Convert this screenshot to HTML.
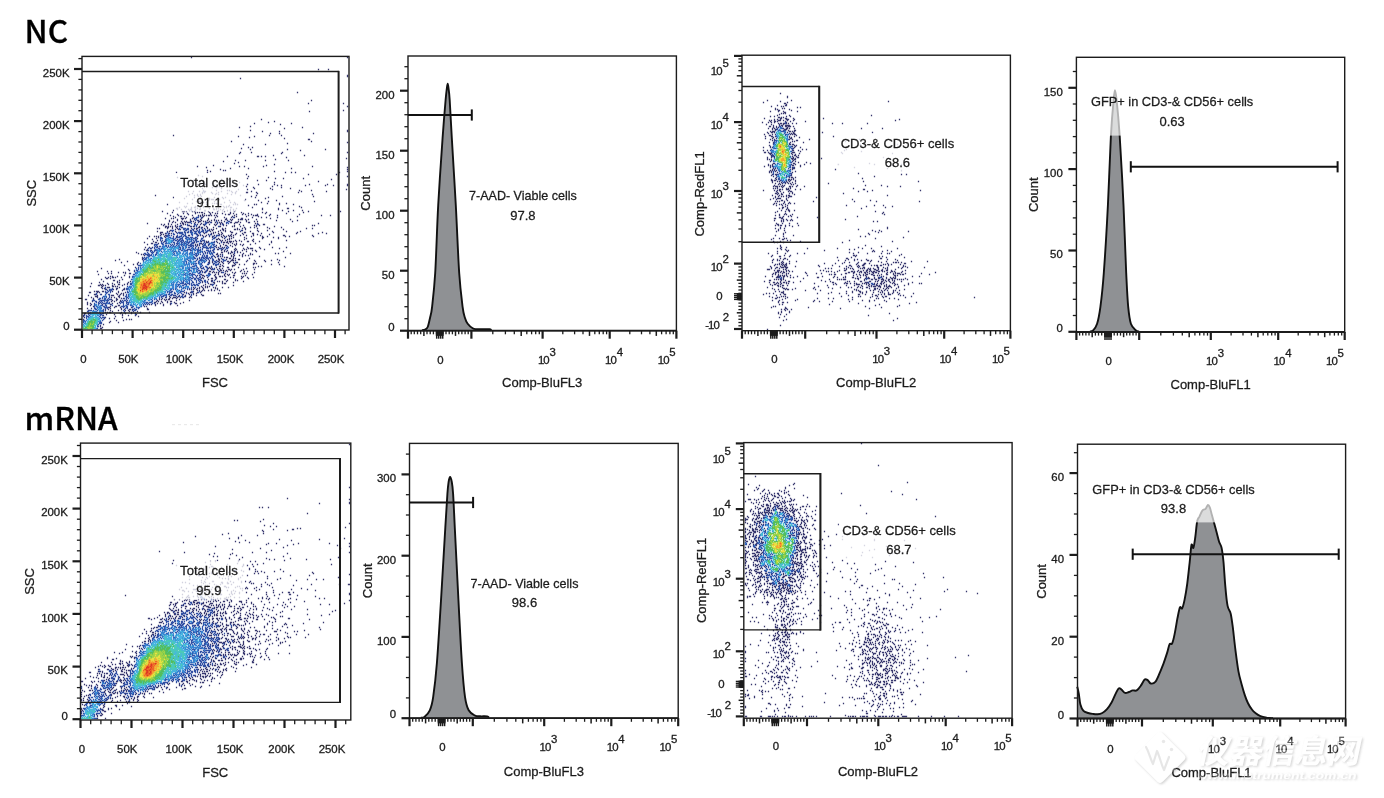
<!DOCTYPE html>
<html lang="en"><head><meta charset="utf-8"><title>Flow cytometry: NC vs mRNA</title>
<style>html,body{margin:0;padding:0;background:#fff}svg{display:block}text{white-space:pre}</style>
</head><body>
<svg width="1384" height="798" viewBox="0 0 1384 798" font-family='"Liberation Sans", sans-serif'>
<defs><filter id="n" x="0" y="0" width="100%" height="100%" filterUnits="userSpaceOnUse"><feOffset dx="0" dy="0"/></filter></defs>
<rect width="1384" height="798" fill="#fff"/>
<g filter="url(#n)">
<text transform="translate(24.6 42.6)" font-size="31.5" text-anchor="start" font-weight="500" fill="#000" font-family="'Noto Sans CJK SC','Liberation Sans',sans-serif" stroke="#000" stroke-width="0.3">NC</text>
<text transform="translate(24.6 429.7)" font-size="31.5" text-anchor="start" font-weight="500" fill="#000" font-family="'Noto Sans CJK SC','Liberation Sans',sans-serif" stroke="#000" stroke-width="0.3">mRNA</text>
<line x1="172" y1="424.7" x2="200" y2="424.7" stroke="#e6e6e6" stroke-width="1" stroke-dasharray="3 3"/>
<g stroke-width="1.28" stroke-linecap="square" fill="none" opacity="0.92" transform="translate(0.5 0.5)">
<path stroke="#262662" d="M191 57zm156 0zm-29 12zm10 0zm19 6zm0 1zm-107 2zm57 14zm14 8zm-3 3zm35 0zm4 3zm-4 4zm-34 1zm-48 8zm13 2zm-6 1zm-14 1zm37 0zm-11 1zm-30 2zm-11 1zm63 0zm-18 1zm-34 2zm97 0zm-85 1zm17 0zm68 0zm-77 2zm9 0zm34 0zm-140 2zm96 0zm12 0zm-43 1zm16 0zm-5 1zm35 1zm24 1zm1 0zm-78 2zm80 0zm36 1zm-60 1zm-44 1zm22 0zm-17 3zm4 0zm-11 1zm9 1zm37 0zm38 0zm-25 1zm-60 2zm11 0zm31 0zm65 0zm-108 1zm42 0zm-8 2zm31 0zm-77 1zm30 0zm1 0zm3 0zm4 0zm21 1zm60 1zm-71 1zm-40 1zm10 0zm20 0zm23 0zm-65 1zm15 1zm-4 1zm40 1zm-61 1zm53 0zm-69 1zm42 0zm5 0zm19 0zm49 0zm-106 1zm141 0zm-117 1zm18 0zm43 0zm-71 1zm127 0zm-140 1zm16 0zm2 0zm-15 1zm64 0zm73 0zm-171 1zm31 0zm78 0zm6 0zm4 0zm44 0zm-93 2zm62 0zm28 0zm-138 1zm4 1zm46 0zm99 0zm-170 1zm91 0zm-21 1zm28 0zm8 0zm20 0zm-82 1zm7 0zm103 0zm-138 1zm39 0zm25 0zm9 0zm-36 1zm88 0zm-115 1zm36 0zm35 0zm-70 1zm8 0zm13 0zm-28 1zm8 0zm16 0zm26 0zm11 0zm16 0zm35 0zm18 0zm20 0zm-133 1zm17 0zm4 0zm8 0zm34 0zm4 0zm24 0zm20 0zm8 0zm14 0zm-130 1zm2 0zm27 0zm26 0zm-60 1zm4 0zm37 0zm28 0zm-79 1zm19 0zm33 0zm16 0zm20 0zm-52 1zm9 0zm25 0zm74 0zm-143 1zm13 0zm11 0zm2 0zm70 0zm12 0zm-123 1zm5 0zm6 0zm5 0zm1 0zm16 0zm10 0zm5 0zm15 0zm50 0zm25 0zm-124 1zm2 0zm7 0zm7 0zm14 0zm3 0zm11 0zm1 0zm9 0zm42 0zm-106 1zm10 0zm10 0zm4 0zm11 0zm8 0zm22 0zm-68 1zm8 0zm3 0zm15 0zm3 0zm13 0zm81 0zm-157 1zm39 0zm3 0zm3 0zm40 0zm16 0zm-70 1zm12 0zm3 0zm50 0zm31 0zm31 0zm-140 1zm21 0zm20 0zm8 0zm3 0zm30 0zm13 0zm-84 1zm16 0zm9 0zm8 0zm6 0zm42 0zm-73 1zm12 0zm5 0zm2 0zm1 0zm1 0zm6 0zm26 0zm-48 1zm11 0zm9 0zm12 0zm15 0zm14 0zm18 0zm-80 1zm2 0zm1 0zm15 0zm54 0zm46 0zm-135 1zm21 0zm3 0zm3 0zm18 0zm6 0zm4 0zm27 0zm-74 1zm5 0zm10 0zm10 0zm2 0zm2 0zm1 0zm18 0zm32 0zm12 0zm7 0zm-119 1zm33 0zm6 0zm14 0zm1 0zm12 0zm2 0zm2 0zm17 0zm2 0zm23 0zm14 0zm-64 1zm19 0zm-64 1zm2 0zm9 0zm2 0zm3 0zm3 0zm5 0zm10 0zm5 0zm3 0zm2 0zm71 0zm-120 1zm6 0zm6 0zm3 0zm1 0zm8 0zm21 0zm2 0zm4 0zm1 0zm21 0zm49 0zm-125 1zm1 0zm14 0zm6 0zm3 0zm9 0zm4 0zm3 0zm2 0zm18 0zm26 0zm16 0zm9 0zm1 0zm-111 1zm4 0zm7 0zm2 0zm1 0zm4 0zm4 0zm1 0zm13 0zm1 0zm2 0zm4 0zm3 0zm7 0zm3 0zm29 0zm16 0zm-105 1zm16 0zm6 0zm9 0zm1 0zm13 0zm4 0zm5 0zm3 0zm3 0zm2 0zm47 0zm11 0zm9 0zm-140 1zm20 0zm1 0zm1 0zm2 0zm6 0zm2 0zm14 0zm9 0zm7 0zm10 0zm54 0zm20 0zm32 0zm-168 1zm23 0zm2 0zm2 0zm2 0zm1 0zm7 0zm3 0zm18 0zm11 0zm21 0zm4 0zm37 0zm-136 1zm16 0zm4 0zm8 0zm9 0zm6 0zm5 0zm2 0zm5 0zm8 0zm3 0zm10 0zm5 0zm17 0zm21 0zm-109 1zm11 0zm14 0zm8 0zm15 0zm3 0zm1 0zm7 0zm6 0zm3 0zm6 0zm6 0zm13 0zm29 0zm-129 1zm8 0zm14 0zm6 0zm2 0zm2 0zm2 0zm2 0zm2 0zm1 0zm2 0zm3 0zm2 0zm18 0zm14 0zm5 0zm2 0zm1 0zm1 0zm12 0zm8 0zm44 0zm9 0zm-157 1zm7 0zm1 0zm3 0zm16 0zm3 0zm14 0zm15 0zm4 0zm10 0zm12 0zm39 0zm-122 1zm11 0zm7 0zm9 0zm13 0zm9 0zm7 0zm3 0zm18 0zm9 0zm5 0zm11 0zm-112 1zm6 0zm2 0zm8 0zm1 0zm1 0zm2 0zm7 0zm9 0zm7 0zm18 0zm15 0zm1 0zm28 0zm-93 1zm5 0zm8 0zm4 0zm6 0zm8 0zm6 0zm11 0zm1 0zm4 0zm2 0zm6 0zm2 0zm1 0zm1 0zm3 0zm3 0zm8 0zm34 0zm-121 1zm8 0zm13 0zm7 0zm1 0zm3 0zm6 0zm4 0zm3 0zm2 0zm2 0zm3 0zm6 0zm4 0zm15 0zm30 0zm21 0zm-128 1zm4 0zm8 0zm3 0zm2 0zm5 0zm2 0zm6 0zm1 0zm3 0zm2 0zm4 0zm15 0zm14 0zm8 0zm8 0zm3 0zm35 0zm-120 1zm3 0zm7 0zm3 0zm2 0zm1 0zm1 0zm6 0zm3 0zm9 0zm1 0zm3 0zm4 0zm2 0zm2 0zm2 0zm9 0zm1 0zm4 0zm1 0zm1 0zm3 0zm8 0zm1 0zm-102 1zm21 0zm12 0zm2 0zm1 0zm11 0zm7 0zm19 0zm2 0zm12 0zm21 0zm2 0zm61 0zm-157 1zm3 0zm4 0zm3 0zm6 0zm6 0zm2 0zm12 0zm3 0zm3 0zm6 0zm5 0zm2 0zm4 0zm3 0zm16 0zm19 0zm5 0zm1 0zm-101 1zm12 0zm6 0zm7 0zm1 0zm15 0zm11 0zm8 0zm3 0zm8 0zm9 0zm11 0zm2 0zm3 0zm53 0zm2 0zm-149 1zm1 0zm2 0zm2 0zm2 0zm3 0zm2 0zm3 0zm10 0zm1 0zm2 0zm6 0zm7 0zm13 0zm1 0zm12 0zm2 0zm6 0zm16 0zm18 0zm-109 1zm2 0zm1 0zm4 0zm4 0zm6 0zm16 0zm1 0zm2 0zm1 0zm5 0zm6 0zm31 0zm6 0zm4 0zm13 0zm14 0zm-124 1zm2 0zm8 0zm5 0zm5 0zm14 0zm3 0zm2 0zm1 0zm7 0zm3 0zm9 0zm6 0zm3 0zm12 0zm5 0zm3 0zm12 0zm12 0zm37 0zm6 0zm-137 1zm3 0zm2 0zm16 0zm6 0zm7 0zm2 0zm2 0zm9 0zm1 0zm11 0zm1 0zm2 0zm2 0zm6 0zm38 0zm-113 1zm20 0zm3 0zm16 0zm3 0zm8 0zm3 0zm2 0zm17 0zm15 0zm10 0zm-110 1zm10 0zm2 0zm6 0zm35 0zm8 0zm7 0zm5 0zm10 0zm10 0zm8 0zm14 0zm14 0zm14 0zm-140 1zm1 0zm1 0zm14 0zm3 0zm8 0zm16 0zm3 0zm7 0zm2 0zm6 0zm10 0zm1 0zm12 0zm1 0zm28 0zm24 0zm25 0zm-162 1zm5 0zm4 0zm2 0zm33 0zm7 0zm2 0zm5 0zm4 0zm14 0zm6 0zm10 0zm1 0zm8 0zm35 0zm22 0zm8 0zm-165 1zm2 0zm34 0zm11 0zm3 0zm8 0zm2 0zm10 0zm4 0zm8 0zm10 0zm4 0zm12 0zm-109 1zm5 0zm1 0zm22 0zm1 0zm9 0zm2 0zm2 0zm4 0zm8 0zm4 0zm5 0zm5 0zm2 0zm3 0zm7 0zm6 0zm7 0zm7 0zm23 0zm1 0zm28 0zm-163 1zm5 0zm2 0zm2 0zm6 0zm9 0zm3 0zm27 0zm2 0zm4 0zm3 0zm9 0zm3 0zm2 0zm3 0zm2 0zm20 0zm11 0zm5 0zm18 0zm4 0zm24 0zm-155 1zm7 0zm11 0zm19 0zm17 0zm3 0zm7 0zm11 0zm11 0zm18 0zm1 0zm10 0zm5 0zm-131 1zm9 0zm41 0zm21 0zm6 0zm5 0zm2 0zm15 0zm16 0zm16 0zm-126 1zm25 0zm39 0zm1 0zm2 0zm8 0zm2 0zm15 0zm9 0zm-96 1zm46 0zm17 0zm2 0zm3 0zm10 0zm4 0zm13 0zm34 0zm-133 1zm8 0zm3 0zm37 0zm3 0zm2 0zm2 0zm8 0zm5 0zm6 0zm2 0zm1 0zm1 0zm2 0zm3 0zm5 0zm6 0zm1 0zm5 0zm6 0zm12 0zm-127 1zm11 0zm1 0zm38 0zm12 0zm1 0zm10 0zm6 0zm1 0zm2 0zm1 0zm3 0zm41 0zm-120 1zm1 0zm6 0zm42 0zm1 0zm18 0zm9 0zm4 0zm4 0zm19 0zm-108 1zm48 0zm2 0zm5 0zm21 0zm11 0zm2 0zm4 0zm3 0zm7 0zm19 0zm-74 1zm2 0zm2 0zm9 0zm8 0zm4 0zm5 0zm1 0zm4 0zm5 0zm7 0zm-85 1zm63 0zm12 0zm-87 1zm4 0zm3 0zm46 0zm5 0zm13 0zm2 0zm4 0zm2 0zm23 0zm12 0zm13 0zm14 0zm-136 1zm71 0zm14 0zm8 0zm5 0zm2 0zm1 0zm1 0zm8 0zm19 0zm-135 1zm3 0zm70 0zm1 0zm4 0zm12 0zm2 0zm8 0zm2 0zm18 0zm-118 1zm1 0zm4 0zm36 0zm34 0zm3 0zm3 0zm8 0zm7 0zm10 0zm3 0zm-42 1zm11 0zm2 0zm5 0zm3 0zm3 0zm9 0zm10 0zm27 0zm-147 1zm69 0zm16 0zm1 0zm6 0zm3 0zm1 0zm5 0zm3 0zm-102 1zm79 0zm11 0zm2 0zm4 0zm9 0zm7 0zm25 0zm3 0zm12 0zm-149 1zm2 0zm73 0zm1 0zm3 0zm2 0zm11 0zm9 0zm8 0zm2 0zm-108 1zm74 0zm13 0zm3 0zm5 0zm3 0zm3 0zm3 0zm-34 1zm3 0zm3 0zm2 0zm9 0zm2 0zm9 0zm17 0zm-117 1zm73 0zm9 0zm2 0zm1 0zm6 0zm52 0zm-143 1zm57 0zm19 0zm3 0zm8 0zm1 0zm3 0zm2 0zm14 0zm-130 1zm23 0zm55 0zm21 0zm1 0zm7 0zm6 0zm6 0zm1 0zm38 0zm-162 1zm94 0zm7 0zm3 0zm12 0zm1 0zm1 0zm2 0zm12 0zm7 0zm10 0zm7 0zm8 0zm-152 1zm82 0zm3 0zm6 0zm3 0zm6 0zm1 0zm2 0zm16 0zm9 0zm10 0zm-144 1zm17 0zm70 0zm1 0zm3 0zm7 0zm3 0zm7 0zm4 0zm3 0zm1 0zm41 0zm-141 1zm86 0zm5 0zm6 0zm19 0zm1 0zm2 0zm-123 1zm4 0zm71 0zm5 0zm7 0zm15 0zm4 0zm5 0zm9 0zm18 0zm8 0zm-155 1zm98 0zm10 0zm1 0zm1 0zm-23 1zm8 0zm1 0zm3 0zm9 0zm26 0zm3 0zm23 0zm-149 1zm68 0zm6 0zm7 0zm11 0zm1 0zm10 0zm15 0zm2 0zm-154 1zm100 0zm7 0zm2 0zm2 0zm2 0zm5 0zm3 0zm24 0zm-118 1zm79 0zm4 0zm6 0zm3 0zm8 0zm1 0zm2 0zm3 0zm9 0zm11 0zm-125 1zm78 0zm13 0zm1 0zm2 0zm3 0zm4 0zm11 0zm-144 1zm10 0zm4 0zm23 0zm66 0zm2 0zm3 0zm4 0zm1 0zm3 0zm6 0zm6 0zm2 0zm13 0zm4 0zm3 0zm-129 1zm5 0zm2 0zm79 0zm8 0zm2 0zm2 0zm2 0zm3 0zm11 0zm3 0zm19 0zm-146 1zm3 0zm14 0zm4 0zm1 0zm79 0zm9 0zm7 0zm9 0zm8 0zm2 0zm2 0zm-148 1zm103 0zm14 0zm3 0zm6 0zm3 0zm2 0zm23 0zm-128 1zm73 0zm5 0zm1 0zm11 0zm10 0zm4 0zm5 0zm1 0zm11 0zm-135 1zm2 0zm5 0zm12 0zm75 0zm11 0zm4 0zm1 0zm2 0zm3 0zm16 0zm2 0zm-138 1zm3 0zm4 0zm1 0zm2 0zm6 0zm8 0zm73 0zm5 0zm8 0zm1 0zm14 0zm3 0zm9 0zm5 0zm6 0zm-147 1zm1 0zm3 0zm91 0zm2 0zm8 0zm1 0zm4 0zm25 0zm7 0zm-147 1zm21 0zm86 0zm7 0zm9 0zm1 0zm10 0zm-122 1zm1 0zm5 0zm92 0zm1 0zm15 0zm8 0zm2 0zm-134 1zm14 0zm13 0zm72 0zm5 0zm4 0zm6 0zm2 0zm3 0zm4 0zm17 0zm-144 1zm18 0zm2 0zm9 0zm74 0zm11 0zm1 0zm8 0zm11 0zm-142 1zm16 0zm5 0zm15 0zm81 0zm6 0zm8 0zm2 0zm1 0zm-125 1zm2 0zm6 0zm6 0zm4 0zm1 0zm5 0zm3 0zm78 0zm5 0zm1 0zm-113 1zm1 0zm2 0zm2 0zm2 0zm7 0zm10 0zm81 0zm13 0zm17 0zm-143 1zm12 0zm10 0zm1 0zm2 0zm2 0zm84 0zm4 0zm2 0zm2 0zm-108 1zm6 0zm1 0zm1 0zm10 0zm74 0zm6 0zm3 0zm3 0zm2 0zm6 0zm2 0zm7 0zm6 0zm-126 1zm2 0zm12 0zm1 0zm7 0zm70 0zm3 0zm2 0zm4 0zm12 0zm2 0zm-112 1zm1 0zm7 0zm3 0zm7 0zm1 0zm65 0zm2 0zm2 0zm3 0zm7 0zm8 0zm6 0zm-95 1zm75 0zm2 0zm3 0zm2 0zm4 0zm3 0zm3 0zm5 0zm-125 1zm2 0zm1 0zm1 0zm4 0zm1 0zm9 0zm6 0zm75 0zm8 0zm-112 1zm1 0zm7 0zm2 0zm19 0zm7 0zm59 0zm2 0zm4 0zm1 0zm6 0zm3 0zm-84 1zm5 0zm2 0zm65 0zm5 0zm3 0zm22 0zm2 0zm-126 1zm1 0zm6 0zm16 0zm3 0zm3 0zm60 0zm6 0zm4 0zm8 0zm-113 1zm9 0zm14 0zm1 0zm1 0zm6 0zm4 0zm50 0zm2 0zm4 0zm6 0zm11 0zm6 0zm1 0zm-108 1zm1 0zm1 0zm21 0zm1 0zm50 0zm9 0zm7 0zm5 0zm-99 1zm6 0zm14 0zm3 0zm5 0zm46 0zm5 0zm3 0zm1 0zm1 0zm2 0zm3 0zm3 0zm6 0zm2 0zm-98 1zm23 0zm5 0zm2 0zm36 0zm3 0zm7 0zm3 0zm4 0zm-91 1zm1 0zm7 0zm18 0zm5 0zm1 0zm42 0zm2 0zm3 0zm2 0zm2 0zm1 0zm10 0zm-67 1zm4 0zm4 0zm37 0zm8 0zm11 0zm13 0zm-97 1zm19 0zm3 0zm6 0zm6 0zm30 0zm2 0zm3 0zm6 0zm3 0zm1 0zm-84 1zm32 0zm35 0zm1 0zm7 0zm5 0zm7 0zm9 0zm-96 1zm3 0zm22 0zm5 0zm40 0zm3 0zm10 0zm5 0zm1 0zm4 0zm-93 1zm4 0zm11 0zm8 0zm39 0zm2 0zm4 0zm8 0zm7 0zm-80 1zm28 0zm1 0zm36 0zm8 0zm14 0zm-84 1zm17 0zm5 0zm1 0zm28 0zm2 0zm-38 1zm1 0zm5 0zm6 0zm11 0zm-44 1zm4 0zm19 0zm11 0zm26 0zm-42 1zm3 0zm13 0zm3 0zm5 0zm1 0zm2 0zm15 0zm1 0zm-60 1zm17 0zm5 0zm8 0zm7 0zm3 0zm-16 1zm17 0zm4 0zm4 0zm-32 1zm2 0zm2 0zm1 0zm11 0zm10 0zm9 0zm9 0zm-65 1zm1 0zm3 0zm32 0zm5 0zm6 0zm4 0zm-51 1zm22 0zm8 0zm8 0zm14 0zm-53 1zm20 0zm19 0zm6 0zm7 0zm-52 1zm32 0zm23 0zm-54 1zm21 0zm17 0zm-18 1zm5 0zm5 0zm-31 1zm43 0zm3 0zm2 0zm-15 1zm7 0zm-13 1zm-1 1zm9 0zm-15 2zm-3 1zm0 1zm2 1zm-2 1zm1 0z"/>
<path stroke="#20409c" d="M203 191zm-12 19zm7 6zm-2 1zm1 0zm1 0zm3 0zm32 0zm-39 1zm1 0zm1 0zm0 1zm-1 1zm-5 1zm8 0zm18 0zm12 0zm1 0zm-39 1zm15 0zm1 0zm4 0zm16 0zm1 0zm-36 1zm14 0zm1 0zm11 0zm9 0zm2 0zm-41 1zm7 0zm1 0zm9 0zm1 0zm17 0zm35 0zm-77 1zm7 0zm7 0zm2 0zm-17 1zm15 0zm2 0zm22 0zm-37 1zm-2 1zm4 0zm1 0zm1 0zm2 0zm1 0zm13 0zm-22 1zm4 0zm1 0zm2 0zm1 0zm1 0zm4 0zm1 0zm6 0zm6 0zm-34 1zm1 0zm1 0zm12 0zm1 0zm5 0zm6 0zm2 0zm3 0zm1 0zm2 0zm2 0zm1 0zm33 0zm-69 1zm12 0zm4 0zm2 0zm1 0zm3 0zm1 0zm1 0zm2 0zm1 0zm2 0zm1 0zm1 0zm3 0zm1 0zm-40 1zm11 0zm2 0zm1 0zm1 0zm2 0zm1 0zm3 0zm2 0zm1 0zm1 0zm3 0zm3 0zm1 0zm1 0zm5 0zm-39 1zm2 0zm5 0zm4 0zm2 0zm1 0zm1 0zm1 0zm3 0zm6 0zm3 0zm1 0zm1 0zm3 0zm-31 1zm5 0zm1 0zm8 0zm1 0zm2 0zm6 0zm1 0zm4 0zm4 0zm10 0zm-43 1zm1 0zm1 0zm2 0zm6 0zm4 0zm3 0zm1 0zm7 0zm5 0zm12 0zm7 0zm1 0zm2 0zm-53 1zm1 0zm10 0zm2 0zm1 0zm1 0zm2 0zm2 0zm1 0zm11 0zm16 0zm3 0zm-56 1zm1 0zm8 0zm1 0zm3 0zm4 0zm1 0zm1 0zm3 0zm4 0zm1 0zm1 0zm2 0zm1 0zm1 0zm4 0zm7 0zm11 0zm11 0zm-65 1zm1 0zm1 0zm10 0zm1 0zm2 0zm5 0zm1 0zm1 0zm3 0zm1 0zm3 0zm2 0zm2 0zm1 0zm1 0zm6 0zm1 0zm11 0zm1 0zm-54 1zm5 0zm1 0zm7 0zm1 0zm5 0zm1 0zm2 0zm5 0zm2 0zm2 0zm4 0zm1 0zm5 0zm11 0zm-52 1zm2 0zm3 0zm1 0zm7 0zm2 0zm1 0zm2 0zm1 0zm2 0zm1 0zm1 0zm4 0zm4 0zm2 0zm2 0zm1 0zm4 0zm2 0zm2 0zm-39 1zm12 0zm1 0zm2 0zm1 0zm2 0zm2 0zm2 0zm2 0zm2 0zm3 0zm2 0zm1 0zm1 0zm2 0zm14 0zm-53 1zm2 0zm3 0zm5 0zm2 0zm1 0zm3 0zm4 0zm1 0zm2 0zm2 0zm1 0zm1 0zm1 0zm3 0zm1 0zm3 0zm8 0zm4 0zm3 0zm1 0zm1 0zm1 0zm7 0zm-60 1zm1 0zm3 0zm1 0zm3 0zm5 0zm2 0zm1 0zm1 0zm3 0zm3 0zm1 0zm3 0zm3 0zm1 0zm1 0zm6 0zm4 0zm2 0zm4 0zm-55 1zm1 0zm1 0zm1 0zm5 0zm1 0zm7 0zm2 0zm2 0zm3 0zm4 0zm1 0zm2 0zm2 0zm1 0zm3 0zm1 0zm8 0zm5 0zm1 0zm3 0zm1 0zm3 0zm1 0zm1 0zm-60 1zm2 0zm9 0zm1 0zm2 0zm3 0zm2 0zm3 0zm2 0zm3 0zm2 0zm3 0zm2 0zm1 0zm1 0zm1 0zm1 0zm1 0zm10 0zm1 0zm1 0zm8 0zm-58 1zm4 0zm1 0zm2 0zm4 0zm2 0zm2 0zm3 0zm2 0zm4 0zm3 0zm3 0zm5 0zm1 0zm2 0zm3 0zm6 0zm1 0zm3 0zm4 0zm4 0zm1 0zm12 0zm-73 1zm2 0zm1 0zm10 0zm5 0zm7 0zm1 0zm3 0zm3 0zm2 0zm1 0zm3 0zm3 0zm5 0zm4 0zm1 0zm1 0zm1 0zm2 0zm1 0zm1 0zm1 0zm1 0zm13 0zm2 0zm-80 1zm3 0zm3 0zm4 0zm1 0zm2 0zm1 0zm18 0zm2 0zm1 0zm8 0zm2 0zm2 0zm3 0zm4 0zm4 0zm1 0zm1 0zm2 0zm4 0zm5 0zm1 0zm3 0zm3 0zm1 0zm-72 1zm4 0zm20 0zm1 0zm7 0zm1 0zm1 0zm1 0zm3 0zm1 0zm3 0zm1 0zm2 0zm2 0zm11 0zm1 0zm7 0zm4 0zm-77 1zm2 0zm4 0zm1 0zm1 0zm25 0zm1 0zm2 0zm1 0zm1 0zm4 0zm1 0zm4 0zm2 0zm1 0zm1 0zm1 0zm6 0zm1 0zm1 0zm2 0zm2 0zm1 0zm-63 1zm2 0zm2 0zm7 0zm13 0zm1 0zm3 0zm19 0zm1 0zm2 0zm2 0zm2 0zm4 0zm1 0zm1 0zm-63 1zm4 0zm1 0zm1 0zm3 0zm1 0zm16 0zm17 0zm2 0zm5 0zm3 0zm2 0zm5 0zm2 0zm2 0zm2 0zm1 0zm20 0zm-90 1zm1 0zm3 0zm4 0zm4 0zm18 0zm15 0zm3 0zm3 0zm1 0zm2 0zm5 0zm2 0zm2 0zm2 0zm2 0zm1 0zm-67 1zm1 0zm1 0zm1 0zm1 0zm2 0zm4 0zm1 0zm17 0zm14 0zm7 0zm2 0zm2 0zm2 0zm3 0zm7 0zm2 0zm-65 1zm1 0zm1 0zm1 0zm1 0zm4 0zm40 0zm1 0zm1 0zm5 0zm2 0zm2 0zm1 0zm6 0zm9 0zm-74 1zm1 0zm44 0zm3 0zm6 0zm2 0zm2 0zm1 0zm4 0zm1 0zm6 0zm-74 1zm2 0zm47 0zm1 0zm5 0zm2 0zm1 0zm1 0zm2 0zm1 0zm1 0zm2 0zm2 0zm-68 1zm2 0zm1 0zm5 0zm43 0zm1 0zm2 0zm4 0zm2 0zm1 0zm2 0zm1 0zm1 0zm2 0zm2 0zm-68 1zm1 0zm42 0zm13 0zm1 0zm4 0zm3 0zm4 0zm1 0zm9 0zm1 0zm-80 1zm45 0zm2 0zm6 0zm3 0zm1 0zm1 0zm1 0zm1 0zm3 0zm6 0zm1 0zm10 0zm1 0zm1 0zm-82 1zm43 0zm4 0zm5 0zm3 0zm6 0zm10 0zm1 0zm2 0zm6 0zm-37 1zm12 0zm1 0zm3 0zm2 0zm11 0zm1 0zm19 0zm-95 1zm46 0zm7 0zm2 0zm1 0zm2 0zm3 0zm7 0zm1 0zm4 0zm1 0zm4 0zm-27 1zm2 0zm7 0zm1 0zm6 0zm8 0zm1 0zm1 0zm1 0zm-80 1zm1 0zm1 0zm1 0zm54 0zm1 0zm6 0zm13 0zm1 0zm-24 1zm1 0zm1 0zm2 0zm4 0zm1 0zm4 0zm1 0zm-68 1zm2 0zm51 0zm6 0zm3 0zm6 0zm1 0zm4 0zm-75 1zm2 0zm44 0zm7 0zm4 0zm1 0zm4 0zm4 0zm1 0zm4 0zm-69 1zm50 0zm1 0zm4 0zm4 0zm7 0zm8 0zm1 0zm1 0zm-80 1zm2 0zm1 0zm52 0zm1 0zm8 0zm1 0zm2 0zm5 0zm12 0zm-81 1zm59 0zm1 0zm9 0zm-7 1zm1 0zm2 0zm3 0zm17 0zm1 0zm-88 1zm50 0zm4 0zm1 0zm2 0zm6 0zm1 0zm9 0zm-75 1zm1 0zm50 0zm5 0zm2 0zm1 0zm1 0zm1 0zm6 0zm8 0zm1 0zm1 0zm-25 1zm7 0zm3 0zm4 0zm7 0zm1 0zm2 0zm-77 1zm1 0zm54 0zm5 0zm4 0zm4 0zm8 0zm-76 1zm57 0zm1 0zm3 0zm3 0zm3 0zm1 0zm-9 1zm1 0zm2 0zm1 0zm2 0zm1 0zm-67 1zm54 0zm9 0zm1 0zm3 0zm1 0zm1 0zm-17 1zm6 0zm2 0zm5 0zm2 0zm2 0zm1 0zm3 0zm1 0zm9 0zm-33 1zm2 0zm6 0zm3 0zm4 0zm3 0zm5 0zm1 0zm7 0zm-80 1zm50 0zm1 0zm6 0zm3 0zm1 0zm3 0zm4 0zm5 0zm2 0zm-77 1zm1 0zm40 0zm9 0zm1 0zm1 0zm1 0zm2 0zm2 0zm1 0zm1 0zm2 0zm7 0zm1 0zm-69 1zm1 0zm42 0zm5 0zm1 0zm5 0zm1 0zm1 0zm3 0zm2 0zm2 0zm1 0zm2 0zm1 0zm15 0zm1 0zm-35 1zm4 0zm1 0zm3 0zm5 0zm1 0zm2 0zm1 0zm2 0zm1 0zm14 0zm-85 1zm2 0zm48 0zm-72 1zm25 0zm49 0zm2 0zm2 0zm8 0zm4 0zm-90 1zm7 0zm14 0zm1 0zm1 0zm47 0zm8 0zm2 0zm2 0zm2 0zm2 0zm-82 1zm1 0zm1 0zm1 0zm14 0zm1 0zm43 0zm1 0zm2 0zm2 0zm2 0zm4 0zm6 0zm-80 1zm2 0zm1 0zm1 0zm59 0zm9 0zm5 0zm-79 1zm3 0zm2 0zm17 0zm40 0zm2 0zm2 0zm1 0zm8 0zm1 0zm1 0zm1 0zm8 0zm1 0zm7 0zm-94 1zm1 0zm1 0zm3 0zm17 0zm1 0zm39 0zm2 0zm1 0zm1 0zm3 0zm6 0zm12 0zm6 0zm-102 1zm10 0zm63 0zm5 0zm1 0zm3 0zm3 0zm5 0zm-90 1zm4 0zm5 0zm3 0zm1 0zm17 0zm2 0zm33 0zm5 0zm2 0zm1 0zm2 0zm1 0zm5 0zm5 0zm9 0zm-82 1zm17 0zm2 0zm32 0zm3 0zm1 0zm1 0zm1 0zm4 0zm1 0zm3 0zm8 0zm9 0zm-88 1zm1 0zm2 0zm3 0zm16 0zm1 0zm2 0zm33 0zm1 0zm1 0zm3 0zm10 0zm3 0zm2 0zm1 0zm2 0zm-82 1zm4 0zm3 0zm17 0zm1 0zm32 0zm2 0zm5 0zm16 0zm-83 1zm1 0zm2 0zm2 0zm1 0zm3 0zm16 0zm2 0zm2 0zm-30 1zm1 0zm5 0zm1 0zm2 0zm2 0zm1 0zm16 0zm25 0zm3 0zm2 0zm-64 1zm1 0zm1 0zm6 0zm1 0zm1 0zm1 0zm1 0zm2 0zm1 0zm1 0zm14 0zm2 0zm1 0zm2 0zm17 0zm8 0zm-57 1zm1 0zm3 0zm2 0zm3 0zm3 0zm14 0zm2 0zm29 0zm-56 1zm2 0zm2 0zm2 0zm4 0zm1 0zm2 0zm12 0zm1 0zm1 0zm3 0zm1 0zm1 0zm18 0zm1 0zm2 0zm1 0zm1 0zm-57 1zm4 0zm1 0zm2 0zm2 0zm1 0zm1 0zm1 0zm2 0zm1 0zm11 0zm3 0zm3 0zm2 0zm16 0zm2 0zm2 0zm4 0zm2 0zm17 0zm-77 1zm4 0zm7 0zm6 0zm12 0zm4 0zm1 0zm15 0zm2 0zm2 0zm-53 1zm7 0zm1 0zm3 0zm1 0zm6 0zm11 0zm3 0zm4 0zm1 0zm12 0zm-49 1zm2 0zm7 0zm1 0zm2 0zm15 0zm1 0zm1 0zm1 0zm2 0zm1 0zm5 0zm1 0zm8 0zm-47 1zm3 0zm7 0zm1 0zm1 0zm1 0zm16 0zm3 0zm1 0zm5 0zm4 0zm2 0zm1 0zm-45 1zm1 0zm6 0zm4 0zm2 0zm18 0zm2 0zm7 0zm4 0zm-43 1zm1 0zm7 0zm30 0zm2 0zm1 0zm-47 1zm1 0zm1 0zm2 0zm4 0zm5 0zm1 0zm20 0zm9 0zm2 0zm1 0zm-48 1zm1 0zm15 0zm21 0zm-25 1zm25 0zm-35 1zm1 0zm10 0zm2 0zm1 0zm-15 1zm12 0zm1 0zm34 0zm-51 1zm2 0zm3 0zm11 0zm2 0zm-16 1zm1 0zm1 0zm11 0zm-13 1zm2 0zm12 0zm2 0zm1 0zm1 0zm-18 1zm15 0zm2 1zm-20 1zm1 0zm18 0zm-19 1zm2 0zm15 0zm-17 1zm16 0zm1 0zm1 0zm-2 1zm1 0zm1 0zm-3 1zm-1 1zm0 1zm1 0zm-1 2z"/>
<path stroke="#2a78cc" d="M192 233zm-24 3zm0 1zm-2 1zm1 0zm1 0zm2 0zm1 0zm17 0zm-20 1zm1 0zm17 0zm2 0zm2 0zm2 0zm-25 1zm4 0zm1 0zm-6 1zm5 0zm1 0zm14 0zm4 0zm-22 1zm11 0zm-12 1zm1 0zm11 0zm4 0zm3 0zm24 0zm1 0zm1 0zm-33 1zm1 0zm3 0zm-20 1zm16 0zm5 0zm1 0zm26 0zm-48 1zm1 0zm1 0zm7 0zm2 0zm3 0zm1 0zm8 0zm25 0zm-49 1zm1 0zm1 0zm5 0zm1 0zm1 0zm3 0zm1 0zm1 0zm2 0zm4 0zm3 0zm-22 1zm8 0zm2 0zm1 0zm3 0zm1 0zm7 0zm7 0zm-36 1zm1 0zm3 0zm1 0zm2 0zm1 0zm1 0zm3 0zm1 0zm1 0zm1 0zm2 0zm2 0zm3 0zm4 0zm1 0zm1 0zm8 0zm4 0zm-39 1zm1 0zm1 0zm1 0zm4 0zm6 0zm2 0zm1 0zm2 0zm3 0zm14 0zm2 0zm-37 1zm2 0zm5 0zm2 0zm2 0zm3 0zm1 0zm1 0zm3 0zm3 0zm4 0zm1 0zm1 0zm2 0zm5 0zm9 0zm-39 1zm14 0zm1 0zm2 0zm1 0zm3 0zm3 0zm1 0zm4 0zm3 0zm4 0zm1 0zm-42 1zm3 0zm12 0zm4 0zm1 0zm2 0zm1 0zm2 0zm1 0zm2 0zm1 0zm1 0zm3 0zm1 0zm6 0zm13 0zm-57 1zm6 0zm2 0zm13 0zm3 0zm1 0zm4 0zm2 0zm1 0zm4 0zm1 0zm1 0zm1 0zm1 0zm-40 1zm7 0zm1 0zm11 0zm2 0zm1 0zm1 0zm1 0zm6 0zm2 0zm2 0zm4 0zm1 0zm-40 1zm1 0zm13 0zm20 0zm1 0zm2 0zm1 0zm-43 1zm1 0zm23 0zm6 0zm2 0zm5 0zm3 0zm1 0zm1 0zm1 0zm1 0zm1 0zm-44 1zm2 0zm32 0zm2 0zm2 0zm1 0zm1 0zm1 0zm1 0zm1 0zm1 0zm1 0zm-47 1zm3 0zm1 0zm30 0zm1 0zm3 0zm1 0zm1 0zm4 0zm2 0zm1 0zm9 0zm-56 1zm1 0zm1 0zm2 0zm27 0zm7 0zm1 0zm4 0zm15 0zm-54 1zm26 0zm6 0zm1 0zm1 0zm1 0zm4 0zm2 0zm2 0zm1 0zm5 0zm2 0zm2 0zm2 0zm-62 1zm2 0zm36 0zm2 0zm1 0zm4 0zm2 0zm1 0zm2 0zm-18 1zm8 0zm1 0zm4 0zm1 0zm2 0zm1 0zm2 0zm5 0zm1 0zm-17 1zm1 0zm1 0zm1 0zm1 0zm1 0zm1 0zm6 0zm4 0zm-57 1zm37 0zm2 0zm1 0zm2 0zm1 0zm2 0zm2 0zm5 0zm6 0zm-60 1zm3 0zm36 0zm1 0zm1 0zm1 0zm1 0zm4 0zm2 0zm-47 1zm34 0zm2 0zm4 0zm1 0zm2 0zm2 0zm1 0zm1 0zm1 0zm6 0zm-56 1zm1 0zm42 0zm2 0zm1 0zm1 0zm1 0zm3 0zm1 0zm3 0zm1 0zm-60 1zm4 0zm37 0zm2 0zm1 0zm1 0zm4 0zm9 0zm2 0zm-16 1zm3 0zm1 0zm1 0zm1 0zm1 0zm4 0zm2 0zm1 0zm2 0zm-58 1zm1 0zm36 0zm7 0zm1 0zm4 0zm1 0zm1 0zm2 0zm2 0zm-58 1zm1 0zm1 0zm44 0zm3 0zm4 0zm4 0zm1 0zm1 0zm1 0zm2 0zm-61 1zm1 0zm38 0zm2 0zm3 0zm3 0zm3 0zm1 0zm-12 1zm3 0zm3 0zm1 0zm1 0zm2 0zm2 0zm1 0zm-53 1zm1 0zm42 0zm1 0zm4 0zm3 0zm1 0zm2 0zm1 0zm1 0zm17 0zm-74 1zm46 0zm-47 1zm1 0zm45 0zm4 0zm2 0zm2 0zm1 0zm-10 1zm2 0zm3 0zm1 0zm1 0zm3 0zm1 0zm-57 1zm48 0zm3 0zm3 0zm1 0zm1 0zm1 0zm1 0zm-10 1zm1 0zm3 0zm2 0zm2 0zm-56 1zm1 0zm38 0zm2 0zm4 0zm1 0zm7 0zm1 0zm1 0zm-15 1zm1 0zm1 0zm2 0zm1 0zm2 0zm2 0zm5 0zm1 0zm-55 1zm41 0zm3 0zm-5 1zm1 0zm3 0zm1 0zm1 0zm-45 1zm1 0zm36 0zm2 0zm1 0zm1 0zm2 0zm1 0zm4 0zm-50 1zm1 0zm2 0zm39 0zm1 0zm2 0zm1 0zm3 0zm1 0zm1 0zm4 0zm1 0zm1 0zm1 0zm-60 1zm1 0zm2 0zm41 0zm1 0zm2 0zm1 0zm8 0zm1 0zm2 0zm1 0zm-58 1zm2 0zm38 0zm1 0zm1 0zm1 0zm3 0zm6 0zm-54 1zm1 0zm36 0zm-36 1zm37 0zm3 0zm7 0zm2 0zm3 0zm-52 1zm36 0zm3 0zm8 0zm1 0zm1 0zm-17 1zm4 0zm12 0zm2 0zm-49 1zm27 0zm5 0zm1 0zm-34 1zm28 0zm2 0zm1 0zm2 0zm2 0zm1 0zm-60 1zm53 0zm-53 1zm24 0zm28 0zm2 0zm-55 1zm48 0zm2 0zm-2 1zm2 0zm1 0zm1 0zm-26 1zm20 0zm-45 1zm24 0zm16 0zm3 0zm1 0zm-20 1zm2 0zm11 0zm1 0zm1 0zm7 0zm-22 1zm1 0zm3 0zm10 0zm1 0zm1 0zm-38 1zm26 0zm9 0zm-47 1zm1 0zm34 0zm1 0zm2 0zm1 0zm3 0zm4 0zm-46 1zm1 0zm2 0zm2 0zm25 0zm7 0zm4 0zm5 0zm-44 1zm2 0zm1 0zm36 0zm4 0zm-42 1zm1 0zm1 0zm1 0zm36 0zm-40 1zm2 0zm1 0zm-2 1zm2 0zm-1 1zm1 0zm1 0zm-9 1zm1 0zm1 0zm1 0zm1 0zm3 0zm1 0zm1 0zm1 0zm-12 1zm4 0zm1 0zm1 0zm1 0zm-5 1zm6 0zm-8 1zm7 0zm2 0zm-2 1zm1 0zm-8 1zm-1 1zm10 1zm-12 1zm11 0zm-12 1zm14 0zm-16 1zm14 0zm1 0zm-14 1zm-1 1zm1 0zm-2 1zm14 0zm-1 4z"/>
<path stroke="#38aede" d="M167 239zm1 1zm1 0zm1 0zm-2 1zm1 0zm1 0zm-1 1zm1 0zm7 5zm-13 1zm1 0zm1 0zm4 0zm2 0zm3 0zm1 0zm-9 1zm7 0zm-7 1zm1 0zm-10 1zm5 0zm2 0zm2 0zm2 0zm1 0zm-12 1zm6 0zm1 0zm2 0zm2 0zm1 0zm1 0zm-13 1zm6 0zm1 0zm1 0zm1 0zm1 0zm2 0zm1 0zm7 0zm-20 1zm2 0zm2 0zm1 0zm2 0zm1 0zm4 0zm1 0zm1 0zm7 0zm-22 1zm1 0zm1 0zm3 0zm2 0zm2 0zm1 0zm2 0zm1 0zm9 0zm1 0zm1 0zm5 0zm4 0zm-36 1zm5 0zm1 0zm1 0zm2 0zm1 0zm1 0zm2 0zm2 0zm2 0zm5 0zm3 0zm1 0zm1 0zm1 0zm1 0zm1 0zm7 0zm1 0zm-39 1zm1 0zm1 0zm2 0zm1 0zm1 0zm1 0zm6 0zm1 0zm1 0zm1 0zm1 0zm2 0zm2 0zm1 0zm1 0zm4 0zm1 0zm-28 1zm1 0zm3 0zm3 0zm1 0zm2 0zm5 0zm1 0zm1 0zm1 0zm1 0zm6 0zm2 0zm5 0zm-37 1zm4 0zm1 0zm7 0zm4 0zm3 0zm1 0zm1 0zm1 0zm2 0zm5 0zm1 0zm1 0zm3 0zm-33 1zm2 0zm1 0zm8 0zm1 0zm2 0zm1 0zm4 0zm3 0zm1 0zm2 0zm2 0zm2 0zm1 0zm1 0zm1 0zm-36 1zm1 0zm2 0zm14 0zm1 0zm1 0zm5 0zm2 0zm1 0zm2 0zm4 0zm1 0zm1 0zm1 0zm-37 1zm3 0zm1 0zm1 0zm1 0zm1 0zm1 0zm20 0zm2 0zm1 0zm1 0zm1 0zm1 0zm1 0zm1 0zm12 0zm-49 1zm2 0zm1 0zm1 0zm4 0zm21 0zm1 0zm3 0zm1 0zm1 0zm1 0zm1 0zm1 0zm1 0zm-40 1zm1 0zm1 0zm30 0zm1 0zm1 0zm2 0zm1 0zm1 0zm1 0zm1 0zm-39 1zm1 0zm30 0zm1 0zm1 0zm1 0zm1 0zm2 0zm3 0zm-38 1zm31 0zm1 0zm1 0zm-35 1zm6 0zm28 0zm2 0zm7 0zm-42 1zm28 0zm1 0zm1 0zm1 0zm4 0zm1 0zm-39 1zm33 0zm1 0zm1 0zm2 0zm4 0zm4 0zm-46 1zm1 0zm30 0zm1 0zm1 0zm3 0zm1 0zm1 0zm3 0zm1 0zm-42 1zm1 0zm1 0zm29 0zm1 0zm2 0zm2 0zm2 0zm1 0zm1 0zm14 0zm-56 1zm1 0zm1 0zm2 0zm27 0zm1 0zm1 0zm2 0zm1 0zm3 0zm1 0zm1 0zm1 0zm2 0zm4 0zm1 0zm-47 1zm31 0zm1 0zm1 0zm1 0zm2 0zm3 0zm-43 1zm2 0zm34 0zm1 0zm1 0zm2 0zm3 0zm1 0zm-43 1zm1 0zm33 0zm3 0zm1 0zm1 0zm5 0zm1 0zm-47 1zm1 0zm1 0zm1 0zm34 0zm1 0zm1 0zm2 0zm1 0zm1 0zm3 0zm5 0zm2 0zm-11 1zm1 0zm2 0zm1 0zm1 0zm4 0zm-53 1zm1 0zm41 0zm1 0zm1 0zm4 0zm1 0zm4 0zm-53 1zm34 0zm6 0zm2 0zm1 0zm1 0zm1 0zm1 0zm2 0zm1 0zm-49 1zm36 0zm1 0zm1 0zm1 0zm2 0zm1 0zm1 0zm1 0zm-43 1zm35 0zm1 0zm4 0zm1 0zm-42 1zm34 0zm1 0zm1 0zm1 0zm1 0zm-38 1zm31 0zm1 0zm2 0zm2 0zm-36 1zm35 0zm1 0zm-35 1zm29 0zm4 0zm1 0zm2 0zm-36 1zm33 0zm2 0zm-36 1zm30 0zm1 0zm1 0zm3 0zm1 0zm-7 1zm2 0zm2 0zm1 0zm1 0zm1 0zm-38 1zm1 0zm32 0zm3 0zm1 0zm-37 1zm46 0zm-47 1zm1 0zm30 0zm2 0zm1 0zm-34 1zm28 0zm1 0zm1 0zm2 0zm2 0zm-35 1zm2 0zm28 0zm2 0zm3 0zm-33 1zm1 0zm23 0zm3 0zm-29 1zm1 0zm2 0zm22 0zm1 0zm2 0zm-26 1zm1 0zm19 0zm1 0zm1 0zm2 0zm1 0zm-27 1zm1 0zm1 0zm2 0zm1 0zm14 0zm1 0zm1 0zm1 0zm4 0zm-25 1zm1 0zm2 0zm1 0zm9 0zm4 0zm1 0zm1 0zm1 0zm-19 1zm1 0zm1 0zm1 0zm1 0zm5 0zm3 0zm2 0zm1 0zm1 0zm2 0zm-19 1zm1 0zm6 0zm3 0zm2 0zm-10 1zm1 0zm1 0zm3 0zm3 0zm1 0zm-10 1zm1 0zm2 0zm3 0zm2 0zm1 0zm1 0zm-10 1zm4 0zm3 0zm1 0zm1 0zm-5 1zm4 0zm1 0zm-5 1zm4 0zm1 0zm-41 4zm-7 3zm1 0zm-2 1zm2 0zm1 0zm1 0zm1 0zm-5 1zm1 0zm1 0zm1 0zm2 0zm2 0zm-6 1zm1 0zm2 0zm-4 1zm1 0zm3 0zm1 0zm-6 1zm1 0zm1 0zm2 0zm1 0zm1 0zm1 0zm1 0zm-10 1zm1 0zm1 0zm7 0zm1 0zm-10 1zm1 0zm7 0zm3 0zm-11 1zm11 0zm-12 1zm10 0zm-10 1zm10 0zm0 1zm-12 1zm1 0zm-3 1zm1 0zm11 0zm-11 1zm11 0zm0 1zm-1 1zm1 0z"/>
<path stroke="#3cc6b4" d="M169 253zm-5 1zm4 0zm1 0zm-6 1zm5 0zm-10 1zm4 0zm6 0zm2 0zm-14 1zm7 0zm1 0zm9 0zm-18 1zm1 0zm2 0zm1 0zm3 0zm2 0zm1 0zm2 0zm6 0zm1 0zm1 0zm1 0zm-22 1zm1 0zm1 0zm3 0zm2 0zm1 0zm1 0zm2 0zm1 0zm5 0zm2 0zm1 0zm1 0zm-21 1zm1 0zm1 0zm1 0zm1 0zm1 0zm7 0zm1 0zm2 0zm4 0zm2 0zm-23 1zm1 0zm3 0zm1 0zm1 0zm1 0zm1 0zm5 0zm2 0zm3 0zm3 0zm-20 1zm1 0zm1 0zm1 0zm1 0zm1 0zm2 0zm1 0zm1 0zm1 0zm3 0zm1 0zm2 0zm1 0zm1 0zm-23 1zm2 0zm2 0zm1 0zm1 0zm2 0zm2 0zm1 0zm1 0zm1 0zm7 0zm1 0zm1 0zm4 0zm-28 1zm1 0zm1 0zm1 0zm2 0zm2 0zm8 0zm6 0zm1 0zm1 0zm1 0zm1 0zm1 0zm-27 1zm1 0zm1 0zm1 0zm2 0zm1 0zm1 0zm2 0zm11 0zm3 0zm2 0zm1 0zm1 0zm1 0zm-27 1zm1 0zm1 0zm2 0zm1 0zm1 0zm14 0zm4 0zm1 0zm1 0zm1 0zm-29 1zm1 0zm1 0zm1 0zm4 0zm16 0zm4 0zm2 0zm1 0zm-31 1zm2 0zm1 0zm4 0zm20 0zm1 0zm7 0zm-36 1zm2 0zm1 0zm3 0zm2 0zm18 0zm3 0zm1 0zm1 0zm-31 1zm2 0zm2 0zm8 0zm11 0zm1 0zm3 0zm1 0zm4 0zm-31 1zm27 0zm-27 1zm22 0zm1 0zm1 0zm1 0zm7 0zm8 0zm-44 1zm2 0zm24 0zm3 0zm1 0zm-30 1zm1 0zm3 0zm23 0zm1 0zm3 0zm-31 1zm1 0zm28 0zm1 0zm1 0zm2 0zm-33 1zm27 0zm3 0zm1 0zm1 0zm-35 1zm1 0zm1 0zm30 0zm1 0zm1 0zm1 0zm2 0zm1 0zm1 0zm-40 1zm35 0zm2 0zm1 0zm1 0zm-40 1zm1 0zm2 0zm28 0zm3 0zm1 0zm1 0zm1 0zm1 0zm-38 1zm2 0zm27 0zm3 0zm2 0zm-33 1zm28 0zm2 0zm1 0zm1 0zm1 0zm-4 1zm-30 1zm1 0zm27 0zm1 0zm3 0zm2 0zm-34 1zm27 0zm2 0zm1 0zm1 0zm1 0zm-4 1zm2 0zm2 0zm-31 1zm26 0zm1 0zm1 0zm1 0zm1 0zm-31 1zm25 0zm3 0zm4 0zm1 0zm-32 1zm26 0zm2 0zm-30 1zm25 0zm3 0zm1 0zm1 0zm-31 1zm1 0zm26 0zm1 0zm1 0zm1 0zm-8 1zm2 0zm1 0zm1 0zm1 0zm1 0zm2 0zm-30 1zm1 0zm21 0zm1 0zm2 0zm-25 1zm1 0zm21 0zm1 0zm1 0zm-26 1zm3 0zm18 0zm2 0zm1 0zm-21 1zm1 0zm1 0zm14 0zm1 0zm1 0zm1 0zm1 0zm-20 1zm1 0zm1 0zm13 0zm1 0zm1 0zm-18 1zm3 0zm10 0zm1 0zm1 0zm-12 1zm1 0zm6 0zm2 0zm1 0zm-9 1zm1 0zm4 0zm-8 1zm1 0zm1 0zm1 0zm2 0zm1 0zm2 0zm-6 1zm1 0zm2 0zm-2 1zm2 0zm-43 12zm-2 3zm-2 1zm1 0zm1 0zm2 0zm1 0zm-6 1zm1 0zm1 0zm3 0zm2 0zm-7 1zm2 0zm1 0zm1 0zm2 0zm1 0zm-9 1zm7 0zm1 0zm-8 1zm7 0zm1 0zm-10 1zm1 0zm7 0zm1 0zm1 0zm-9 1zm7 0zm2 0zm-10 1zm1 0zm6 0zm1 0zm-11 1zm2 0zm1 0zm-3 1zm11 0zm-8 1zm7 0z"/>
<path stroke="#46b850" d="M158 259zm-5 1zm12 0zm-11 1zm1 0zm11 0zm-7 1zm6 0zm-10 1zm2 0zm5 0zm1 0zm1 0zm2 0zm1 0zm-15 1zm2 0zm1 0zm1 0zm1 0zm1 0zm1 0zm1 0zm2 0zm1 0zm1 0zm1 0zm1 0zm-17 1zm4 0zm2 0zm4 0zm1 0zm1 0zm1 0zm1 0zm1 0zm3 0zm2 0zm-20 1zm6 0zm3 0zm2 0zm2 0zm5 0zm1 0zm1 0zm-21 1zm2 0zm2 0zm1 0zm2 0zm5 0zm1 0zm2 0zm1 0zm1 0zm1 0zm3 0zm3 0zm-25 1zm2 0zm2 0zm1 0zm1 0zm5 0zm1 0zm4 0zm2 0zm1 0zm1 0zm1 0zm1 0zm-26 1zm3 0zm1 0zm7 0zm4 0zm1 0zm1 0zm1 0zm1 0zm2 0zm1 0zm2 0zm2 0zm-26 1zm2 0zm2 0zm4 0zm1 0zm1 0zm2 0zm2 0zm4 0zm2 0zm1 0zm3 0zm1 0zm-24 1zm1 0zm1 0zm1 0zm6 0zm1 0zm1 0zm1 0zm4 0zm1 0zm1 0zm1 0zm1 0zm1 0zm1 0zm1 0zm1 0zm1 0zm-25 1zm1 0zm1 0zm2 0zm2 0zm11 0zm1 0zm1 0zm1 0zm-21 1zm18 0zm1 0zm1 0zm3 0zm1 0zm-26 1zm1 0zm21 0zm1 0zm1 0zm3 0zm1 0zm-26 1zm10 0zm9 0zm3 0zm1 0zm1 0zm-6 1zm2 0zm1 0zm1 0zm2 0zm1 0zm-29 1zm1 0zm1 0zm19 0zm1 0zm1 0zm1 0zm1 0zm1 0zm7 0zm-36 1zm1 0zm2 0zm21 0zm1 0zm1 0zm1 0zm1 0zm1 0zm1 0zm1 0zm1 0zm1 0zm2 0zm-35 1zm3 0zm20 0zm4 0zm1 0zm2 0zm-31 1zm2 0zm1 0zm1 0zm21 0zm1 0zm3 0zm1 0zm2 0zm-31 1zm1 0zm1 0zm1 0zm21 0zm1 0zm1 0zm2 0zm-29 1zm1 0zm1 0zm19 0zm4 0zm1 0zm1 0zm1 0zm2 0zm1 0zm-30 1zm21 0zm1 0zm2 0zm1 0zm-26 1zm1 0zm21 0zm3 0zm2 0zm-27 1zm21 0zm2 0zm1 0zm2 0zm4 0zm-29 1zm23 0zm1 0zm-25 1zm1 0zm19 0zm2 0zm1 0zm2 0zm1 0zm-27 1zm23 0zm1 0zm1 0zm1 0zm-26 1zm1 0zm1 0zm15 0zm4 0zm1 0zm1 0zm2 0zm1 0zm-26 1zm1 0zm16 0zm3 0zm1 0zm1 0zm1 0zm1 0zm-26 1zm1 0zm1 0zm1 0zm1 0zm11 0zm6 0zm2 0zm-21 1zm1 0zm1 0zm1 0zm13 0zm1 0zm1 0zm1 0zm3 0zm-21 1zm1 0zm1 0zm12 0zm1 0zm1 0zm1 0zm1 0zm-19 1zm1 0zm10 0zm3 0zm1 0zm1 0zm2 0zm-16 1zm1 0zm3 0zm2 0zm1 0zm4 0zm1 0zm-12 1zm1 0zm1 0zm3 0zm1 0zm1 0zm1 0zm1 0zm1 0zm1 0zm-11 1zm1 0zm1 0zm2 0zm1 0zm2 0zm1 0zm-7 1zm1 0zm1 0zm1 0zm1 0zm5 0zm-8 1zm1 0zm-46 20zm1 0zm-3 1zm4 0zm-6 1zm1 0zm1 0zm1 0zm2 0zm-5 1zm1 0zm1 0zm1 0zm1 0zm1 0zm-6 1zm1 0zm2 0zm1 0zm-4 1zm1 0zm2 0zm2 0zm-5 1zm2 0zm1 0zm1 0zm-5 1zm1 0zm2 0zm1 0zm1 0zm1 0zm-8 1zm1 0zm6 0zm1 0zm-10 1zm1 0zm1 0zm2 0zm3 0zm1 0zm1 0z"/>
<path stroke="#96d038" d="M165 263zm-9 2zm1 0zm1 0zm-5 1zm1 0zm2 0zm3 0zm2 0zm2 0zm1 0zm1 0zm-11 1zm2 0zm2 0zm1 0zm3 0zm6 0zm-20 1zm6 0zm1 0zm1 0zm1 0zm3 0zm1 0zm1 0zm-13 1zm2 0zm1 0zm1 0zm2 0zm1 0zm1 0zm6 0zm-15 1zm1 0zm1 0zm6 0zm2 0zm1 0zm1 0zm2 0zm-14 1zm2 0zm1 0zm1 0zm5 0zm1 0zm1 0zm-12 1zm2 0zm2 0zm1 0zm2 0zm2 0zm1 0zm1 0zm1 0zm1 0zm-16 1zm1 0zm2 0zm1 0zm1 0zm1 0zm1 0zm1 0zm1 0zm1 0zm1 0zm1 0zm1 0zm2 0zm1 0zm4 0zm-20 1zm1 0zm1 0zm1 0zm2 0zm10 0zm1 0zm1 0zm1 0zm-20 1zm2 0zm1 0zm1 0zm6 0zm5 0zm2 0zm1 0zm1 0zm2 0zm1 0zm-24 1zm1 0zm2 0zm1 0zm1 0zm7 0zm1 0zm4 0zm3 0zm2 0zm-17 1zm1 0zm12 0zm1 0zm7 0zm1 0zm-29 1zm5 0zm1 0zm8 0zm6 0zm1 0zm-21 1zm2 0zm17 0zm3 0zm1 0zm1 0zm-4 1zm1 0zm3 0zm-9 1zm4 0zm-19 1zm16 0zm3 0zm1 0zm1 0zm-22 1zm2 0zm13 0zm2 0zm1 0zm1 0zm3 0zm-22 1zm1 0zm1 0zm15 0zm2 0zm2 0zm1 0zm-23 1zm18 0zm1 0zm2 0zm3 0zm-23 1zm17 0zm1 0zm1 0zm1 0zm1 0zm-21 1zm16 0zm3 0zm-20 1zm1 0zm12 0zm2 0zm1 0zm1 0zm1 0zm1 0zm1 0zm-6 1zm2 0zm1 0zm1 0zm-18 1zm12 0zm1 0zm1 0zm2 0zm1 0zm-16 1zm11 0zm2 0zm1 0zm1 0zm-13 1zm1 0zm5 0zm1 0zm1 0zm1 0zm1 0zm-11 1zm1 0zm3 0zm1 0zm1 0zm1 0zm1 0zm1 0zm1 0zm-12 1zm1 0zm1 0zm1 0zm1 0zm1 0zm1 0zm1 0zm1 0zm2 0zm1 0zm-9 1zm1 0zm2 0zm3 0zm1 0zm1 0zm-7 1zm1 0zm-1 1zm3 0zm-49 24zm-3 2zm3 0zm-3 1zm2 0zm-3 1zm0 1zm-2 1zm1 0zm1 0zm1 0zm1 0zm-3 1zm1 0z"/>
<path stroke="#e6e032" d="M157 266zm0 1zm-4 5zm2 0zm-9 1zm12 0zm-10 1zm2 0zm1 0zm1 0zm2 0zm1 0zm1 0zm1 0zm1 0zm-11 1zm1 0zm1 0zm1 0zm1 0zm3 0zm1 0zm1 0zm2 0zm-16 1zm4 0zm2 0zm1 0zm1 0zm1 0zm4 0zm1 0zm2 0zm1 0zm-17 1zm1 0zm1 0zm4 0zm1 0zm3 0zm1 0zm1 0zm1 0zm2 0zm-17 1zm1 0zm1 0zm3 0zm1 0zm1 0zm2 0zm4 0zm1 0zm1 0zm1 0zm1 0zm-16 1zm3 0zm3 0zm3 0zm1 0zm1 0zm1 0zm2 0zm1 0zm2 0zm-18 1zm1 0zm1 0zm1 0zm3 0zm1 0zm6 0zm1 0zm1 0zm1 0zm1 0zm-17 1zm1 0zm10 0zm1 0zm2 0zm1 0zm1 0zm2 0zm1 0zm-20 1zm6 0zm8 0zm2 0zm-17 1zm2 0zm13 0zm-3 1zm1 0zm2 0zm2 0zm-18 1zm1 0zm1 0zm11 0zm3 0zm-15 1zm1 0zm10 0zm1 0zm1 0zm1 0zm1 0zm-15 1zm1 0zm12 0zm1 0zm2 0zm-16 1zm1 0zm11 0zm-13 1zm2 0zm1 0zm5 0zm3 0zm-11 1zm1 0zm1 0zm2 0zm2 0zm4 0zm-9 1zm1 0zm2 0zm3 0zm1 0zm4 0zm-11 1zm3 0zm1 0zm1 0zm1 0zm-4 1zm1 0z"/>
<path stroke="#f5a020" d="M153 274zm-6 2zm7 0zm-7 1zm3 0zm1 0zm5 0zm-8 1zm3 0zm-9 1zm1 0zm2 0zm1 0zm2 0zm6 0zm-10 1zm5 0zm1 0zm2 0zm-10 1zm2 0zm1 0zm1 0zm2 0zm1 0zm-9 1zm1 0zm1 0zm1 0zm1 0zm3 0zm1 0zm4 0zm-11 1zm1 0zm4 0zm4 0zm1 0zm-11 1zm2 0zm5 0zm5 0zm-12 1zm2 0zm4 0zm1 0zm2 0zm2 0zm1 0zm-12 1zm1 0zm0 1zm7 0zm-8 1zm1 0zm6 0zm1 0zm-10 1zm3 0zm2 0zm4 0zm2 0zm-7 1zm2 0zm1 0zm1 0zm-6 1zm3 0zm3 0z"/>
<path stroke="#ec5a18" d="M150 278zm-1 1zm-4 1zm3 0zm3 0zm-8 1zm4 0zm2 1zm2 0zm-8 1zm2 0zm2 0zm1 0zm-7 1zm2 0zm2 0zm1 0zm2 0zm1 0zm-8 1zm7 0zm-6 1zm1 0zm1 0zm3 0zm1 0zm-8 1zm2 0zm3 0zm2 0zm2 0zm1 0zm-8 1zm2 0zm2 0zm-2 1zm-2 2z"/>
<path stroke="#dc2810" d="M150 281zm-4 1zm4 0zm-6 1zm5 0zm-5 1zm-1 1zm1 0zm1 0zm0 1zm1 0zm-3 1zm1 0zm2 0zm-3 1zm2 0zm-3 1zm4 0zm-6 1z"/>
</g>
<rect x="174.2" y="173.1" width="71" height="38.4" fill="#fff" opacity="0.78"/>
<rect x="82" y="56.4" width="267" height="273.6" fill="none" stroke="#1c1c1c" stroke-width="1.4"/>
<line x1="82" y1="330" x2="82" y2="338" stroke="#1c1c1c" stroke-width="2.2" stroke-linecap="butt"/>
<line x1="92.1" y1="330" x2="92.1" y2="334.2" stroke="#1c1c1c" stroke-width="1.3" stroke-linecap="butt"/>
<line x1="102.2" y1="330" x2="102.2" y2="334.2" stroke="#1c1c1c" stroke-width="1.3" stroke-linecap="butt"/>
<line x1="112.4" y1="330" x2="112.4" y2="334.2" stroke="#1c1c1c" stroke-width="1.3" stroke-linecap="butt"/>
<line x1="122.5" y1="330" x2="122.5" y2="334.2" stroke="#1c1c1c" stroke-width="1.3" stroke-linecap="butt"/>
<line x1="132.6" y1="330" x2="132.6" y2="338" stroke="#1c1c1c" stroke-width="2.2" stroke-linecap="butt"/>
<line x1="142.7" y1="330" x2="142.7" y2="334.2" stroke="#1c1c1c" stroke-width="1.3" stroke-linecap="butt"/>
<line x1="152.8" y1="330" x2="152.8" y2="334.2" stroke="#1c1c1c" stroke-width="1.3" stroke-linecap="butt"/>
<line x1="163" y1="330" x2="163" y2="334.2" stroke="#1c1c1c" stroke-width="1.3" stroke-linecap="butt"/>
<line x1="173.1" y1="330" x2="173.1" y2="334.2" stroke="#1c1c1c" stroke-width="1.3" stroke-linecap="butt"/>
<line x1="183.2" y1="330" x2="183.2" y2="338" stroke="#1c1c1c" stroke-width="2.2" stroke-linecap="butt"/>
<line x1="193.3" y1="330" x2="193.3" y2="334.2" stroke="#1c1c1c" stroke-width="1.3" stroke-linecap="butt"/>
<line x1="203.4" y1="330" x2="203.4" y2="334.2" stroke="#1c1c1c" stroke-width="1.3" stroke-linecap="butt"/>
<line x1="213.6" y1="330" x2="213.6" y2="334.2" stroke="#1c1c1c" stroke-width="1.3" stroke-linecap="butt"/>
<line x1="223.7" y1="330" x2="223.7" y2="334.2" stroke="#1c1c1c" stroke-width="1.3" stroke-linecap="butt"/>
<line x1="233.8" y1="330" x2="233.8" y2="338" stroke="#1c1c1c" stroke-width="2.2" stroke-linecap="butt"/>
<line x1="243.9" y1="330" x2="243.9" y2="334.2" stroke="#1c1c1c" stroke-width="1.3" stroke-linecap="butt"/>
<line x1="254" y1="330" x2="254" y2="334.2" stroke="#1c1c1c" stroke-width="1.3" stroke-linecap="butt"/>
<line x1="264.2" y1="330" x2="264.2" y2="334.2" stroke="#1c1c1c" stroke-width="1.3" stroke-linecap="butt"/>
<line x1="274.3" y1="330" x2="274.3" y2="334.2" stroke="#1c1c1c" stroke-width="1.3" stroke-linecap="butt"/>
<line x1="284.4" y1="330" x2="284.4" y2="338" stroke="#1c1c1c" stroke-width="2.2" stroke-linecap="butt"/>
<line x1="294.5" y1="330" x2="294.5" y2="334.2" stroke="#1c1c1c" stroke-width="1.3" stroke-linecap="butt"/>
<line x1="304.6" y1="330" x2="304.6" y2="334.2" stroke="#1c1c1c" stroke-width="1.3" stroke-linecap="butt"/>
<line x1="314.8" y1="330" x2="314.8" y2="334.2" stroke="#1c1c1c" stroke-width="1.3" stroke-linecap="butt"/>
<line x1="324.9" y1="330" x2="324.9" y2="334.2" stroke="#1c1c1c" stroke-width="1.3" stroke-linecap="butt"/>
<line x1="335" y1="330" x2="335" y2="338" stroke="#1c1c1c" stroke-width="2.2" stroke-linecap="butt"/>
<line x1="345.1" y1="330" x2="345.1" y2="334.2" stroke="#1c1c1c" stroke-width="1.3" stroke-linecap="butt"/>
<line x1="74" y1="329.7" x2="82" y2="329.7" stroke="#1c1c1c" stroke-width="2.2" stroke-linecap="butt"/>
<line x1="78.4" y1="319.3" x2="82" y2="319.3" stroke="#1c1c1c" stroke-width="1.3" stroke-linecap="butt"/>
<line x1="78.4" y1="308.8" x2="82" y2="308.8" stroke="#1c1c1c" stroke-width="1.3" stroke-linecap="butt"/>
<line x1="78.4" y1="298.4" x2="82" y2="298.4" stroke="#1c1c1c" stroke-width="1.3" stroke-linecap="butt"/>
<line x1="78.4" y1="288" x2="82" y2="288" stroke="#1c1c1c" stroke-width="1.3" stroke-linecap="butt"/>
<line x1="74" y1="277.6" x2="82" y2="277.6" stroke="#1c1c1c" stroke-width="2.2" stroke-linecap="butt"/>
<line x1="78.4" y1="267.1" x2="82" y2="267.1" stroke="#1c1c1c" stroke-width="1.3" stroke-linecap="butt"/>
<line x1="78.4" y1="256.7" x2="82" y2="256.7" stroke="#1c1c1c" stroke-width="1.3" stroke-linecap="butt"/>
<line x1="78.4" y1="246.3" x2="82" y2="246.3" stroke="#1c1c1c" stroke-width="1.3" stroke-linecap="butt"/>
<line x1="78.4" y1="235.8" x2="82" y2="235.8" stroke="#1c1c1c" stroke-width="1.3" stroke-linecap="butt"/>
<line x1="74" y1="225.4" x2="82" y2="225.4" stroke="#1c1c1c" stroke-width="2.2" stroke-linecap="butt"/>
<line x1="78.4" y1="215" x2="82" y2="215" stroke="#1c1c1c" stroke-width="1.3" stroke-linecap="butt"/>
<line x1="78.4" y1="204.6" x2="82" y2="204.6" stroke="#1c1c1c" stroke-width="1.3" stroke-linecap="butt"/>
<line x1="78.4" y1="194.1" x2="82" y2="194.1" stroke="#1c1c1c" stroke-width="1.3" stroke-linecap="butt"/>
<line x1="78.4" y1="183.7" x2="82" y2="183.7" stroke="#1c1c1c" stroke-width="1.3" stroke-linecap="butt"/>
<line x1="74" y1="173.3" x2="82" y2="173.3" stroke="#1c1c1c" stroke-width="2.2" stroke-linecap="butt"/>
<line x1="78.4" y1="162.9" x2="82" y2="162.9" stroke="#1c1c1c" stroke-width="1.3" stroke-linecap="butt"/>
<line x1="78.4" y1="152.4" x2="82" y2="152.4" stroke="#1c1c1c" stroke-width="1.3" stroke-linecap="butt"/>
<line x1="78.4" y1="142" x2="82" y2="142" stroke="#1c1c1c" stroke-width="1.3" stroke-linecap="butt"/>
<line x1="78.4" y1="131.6" x2="82" y2="131.6" stroke="#1c1c1c" stroke-width="1.3" stroke-linecap="butt"/>
<line x1="74" y1="121.1" x2="82" y2="121.1" stroke="#1c1c1c" stroke-width="2.2" stroke-linecap="butt"/>
<line x1="78.4" y1="110.7" x2="82" y2="110.7" stroke="#1c1c1c" stroke-width="1.3" stroke-linecap="butt"/>
<line x1="78.4" y1="100.3" x2="82" y2="100.3" stroke="#1c1c1c" stroke-width="1.3" stroke-linecap="butt"/>
<line x1="78.4" y1="89.9" x2="82" y2="89.9" stroke="#1c1c1c" stroke-width="1.3" stroke-linecap="butt"/>
<line x1="78.4" y1="79.4" x2="82" y2="79.4" stroke="#1c1c1c" stroke-width="1.3" stroke-linecap="butt"/>
<line x1="74" y1="69" x2="82" y2="69" stroke="#1c1c1c" stroke-width="2.2" stroke-linecap="butt"/>
<line x1="78.4" y1="58.6" x2="82" y2="58.6" stroke="#1c1c1c" stroke-width="1.3" stroke-linecap="butt"/>
<path d="M82 71.5H339M82 313H339" stroke="#1c1c1c" stroke-width="1.3" fill="none"/>
<line x1="338.6" y1="70.9" x2="338.6" y2="313.6" stroke="#1c1c1c" stroke-width="2.0" stroke-linecap="butt"/>
<text transform="translate(83.5 362.5) scale(1.12 1)" font-size="10.2" text-anchor="middle" fill="#1c1c1c" stroke="#1c1c1c" stroke-width="0.28">0</text>
<text transform="translate(128.3 362.5) scale(1.12 1)" font-size="10.2" text-anchor="middle" fill="#1c1c1c" stroke="#1c1c1c" stroke-width="0.28">50K</text>
<text transform="translate(179 362.5) scale(1.12 1)" font-size="10.2" text-anchor="middle" fill="#1c1c1c" stroke="#1c1c1c" stroke-width="0.28">100K</text>
<text transform="translate(230 362.5) scale(1.12 1)" font-size="10.2" text-anchor="middle" fill="#1c1c1c" stroke="#1c1c1c" stroke-width="0.28">150K</text>
<text transform="translate(281 362.5) scale(1.12 1)" font-size="10.2" text-anchor="middle" fill="#1c1c1c" stroke="#1c1c1c" stroke-width="0.28">200K</text>
<text transform="translate(331 362.5) scale(1.12 1)" font-size="10.2" text-anchor="middle" fill="#1c1c1c" stroke="#1c1c1c" stroke-width="0.28">250K</text>
<text transform="translate(69.5 330) scale(1.12 1)" font-size="10.2" text-anchor="end" fill="#1c1c1c" stroke="#1c1c1c" stroke-width="0.28">0</text>
<text transform="translate(69.5 285.2) scale(1.12 1)" font-size="10.2" text-anchor="end" fill="#1c1c1c" stroke="#1c1c1c" stroke-width="0.28">50K</text>
<text transform="translate(69.5 233) scale(1.12 1)" font-size="10.2" text-anchor="end" fill="#1c1c1c" stroke="#1c1c1c" stroke-width="0.28">100K</text>
<text transform="translate(69.5 180.9) scale(1.12 1)" font-size="10.2" text-anchor="end" fill="#1c1c1c" stroke="#1c1c1c" stroke-width="0.28">150K</text>
<text transform="translate(69.5 128.7) scale(1.12 1)" font-size="10.2" text-anchor="end" fill="#1c1c1c" stroke="#1c1c1c" stroke-width="0.28">200K</text>
<text transform="translate(69.5 76.6) scale(1.12 1)" font-size="10.2" text-anchor="end" fill="#1c1c1c" stroke="#1c1c1c" stroke-width="0.28">250K</text>
<text transform="translate(215 386.7)" font-size="13" text-anchor="middle" fill="#1c1c1c" stroke="#1c1c1c" stroke-width="0.28">FSC</text>
<text transform="translate(35.9 193.2) rotate(-90)" font-size="13" text-anchor="middle" fill="#1c1c1c" stroke="#1c1c1c" stroke-width="0.28">SSC</text>
<text transform="translate(209.2 187.1)" font-size="13" text-anchor="middle" fill="#1c1c1c" textLength="57.7" lengthAdjust="spacingAndGlyphs" stroke="#1c1c1c" stroke-width="0.28">Total cells</text>
<text transform="translate(209.2 206.5)" font-size="13" text-anchor="middle" fill="#1c1c1c" stroke="#1c1c1c" stroke-width="0.28">91.1</text>
<g stroke-width="1.28" stroke-linecap="square" fill="none" opacity="0.92" transform="translate(0.5 0.5)">
<path stroke="#262662" d="M349 444zm0 43zm-62 11zm62 1zm0 3zm-30 1zm30 0zm-90 4zm3 0zm6 0zm39 6zm-44 6zm-29 1zm3 0zm23 1zm13 2zm76 0zm-85 2zm6 1zm6 0zm69 1zm-48 1zm3 0zm-27 1zm19 0zm1 0zm-31 1zm25 0zm-24 1zm-35 2zm35 0zm-41 1zm19 1zm16 0zm-62 1zm43 1zm-9 1zm9 0zm106 0zm-65 1zm40 0zm-74 1zm46 0zm-56 1zm-52 1zm56 0zm10 0zm19 1zm8 0zm22 0zm31 0zm20 0zm-83 1zm27 0zm-6 1zm50 0zm-122 1zm134 0zm-66 1zm-23 1zm80 0zm-108 1zm39 1zm-112 1zm25 1zm68 0zm14 0zm83 0zm-135 1zm18 0zm55 0zm-78 1zm21 0zm6 1zm-23 1zm4 0zm66 0zm-41 1zm96 0zm-109 1zm37 0zm24 0zm-51 1zm30 0zm5 0zm32 0zm24 0zm-157 1zm44 0zm67 0zm-74 1zm5 0zm23 0zm12 0zm5 0zm-50 1zm-33 1zm65 0zm26 0zm-53 1zm17 0zm16 0zm9 0zm5 0zm74 0zm-155 1zm67 0zm4 0zm-42 1zm6 0zm1 0zm30 0zm11 0zm-44 1zm4 0zm8 0zm-22 1zm4 0zm12 0zm34 0zm-45 1zm9 0zm36 0zm6 0zm25 0zm-84 1zm24 0zm3 0zm13 0zm5 0zm-19 1zm12 0zm9 0zm12 0zm2 0zm4 0zm13 0zm9 0zm-72 1zm17 0zm36 0zm48 0zm-103 1zm2 0zm5 0zm14 0zm7 0zm17 0zm4 0zm55 0zm-93 1zm129 0zm-151 1zm1 0zm18 0zm6 0zm19 0zm5 0zm43 0zm19 0zm-120 1zm20 0zm19 0zm3 0zm36 0zm-65 1zm4 0zm13 0zm21 0zm98 0zm-131 1zm15 0zm3 0zm3 0zm10 0zm29 0zm13 0zm-91 1zm16 0zm23 0zm10 0zm39 0zm30 0zm9 0zm7 0zm-122 1zm95 0zm-92 1zm8 0zm1 0zm17 0zm11 0zm4 0zm5 0zm-68 1zm3 0zm16 0zm4 0zm16 0zm1 0zm5 0zm6 0zm8 0zm8 0zm16 0zm-76 1zm14 0zm6 0zm13 0zm5 0zm1 0zm23 0zm2 0zm18 0zm-57 1zm6 0zm11 0zm30 0zm6 0zm44 0zm28 0zm9 0zm1 0zm-156 1zm4 0zm4 0zm4 0zm2 0zm9 0zm53 0zm24 0zm-93 1zm16 0zm8 0zm1 0zm12 0zm2 0zm22 0zm-80 1zm17 0zm9 0zm5 0zm5 0zm9 0zm2 0zm7 0zm11 0zm10 0zm16 0zm-86 1zm11 0zm6 0zm37 0zm2 0zm3 0zm2 0zm7 0zm47 0zm-122 1zm14 0zm1 0zm1 0zm2 0zm2 0zm1 0zm5 0zm2 0zm2 0zm2 0zm48 0zm32 0zm16 0zm-125 1zm1 0zm20 0zm12 0zm1 0zm5 0zm6 0zm6 0zm9 0zm14 0zm17 0zm42 0zm-131 1zm4 0zm8 0zm1 0zm3 0zm3 0zm3 0zm4 0zm5 0zm16 0zm4 0zm-43 1zm10 0zm6 0zm10 0zm1 0zm12 0zm8 0zm7 0zm20 0zm7 0zm9 0zm6 0zm1 0zm4 0zm-94 1zm1 0zm5 0zm3 0zm3 0zm20 0zm3 0zm5 0zm110 0zm-167 1zm20 0zm14 0zm4 0zm1 0zm8 0zm3 0zm19 0zm15 0zm13 0zm10 0zm1 0zm59 0zm-224 1zm63 0zm9 0zm8 0zm69 0zm23 0zm-125 1zm15 0zm6 0zm4 0zm11 0zm3 0zm19 0zm37 0zm48 0zm-133 1zm4 0zm2 0zm1 0zm9 0zm11 0zm4 0zm13 0zm2 0zm6 0zm5 0zm23 0zm-61 1zm3 0zm7 0zm6 0zm3 0zm4 0zm1 0zm23 0zm10 0zm4 0zm4 0zm3 0zm9 0zm12 0zm29 0zm5 0zm-150 1zm5 0zm6 0zm2 0zm2 0zm9 0zm3 0zm5 0zm7 0zm2 0zm11 0zm1 0zm3 0zm38 0zm20 0zm8 0zm-112 1zm2 0zm8 0zm1 0zm1 0zm19 0zm3 0zm9 0zm4 0zm15 0zm103 0zm-167 1zm7 0zm4 0zm15 0zm2 0zm3 0zm3 0zm7 0zm1 0zm7 0zm8 0zm1 0zm1 0zm20 0zm43 0zm-134 1zm1 0zm6 0zm16 0zm1 0zm3 0zm1 0zm5 0zm3 0zm14 0zm9 0zm12 0zm5 0zm5 0zm18 0zm14 0zm7 0zm-115 1zm1 0zm9 0zm3 0zm8 0zm1 0zm2 0zm3 0zm1 0zm7 0zm1 0zm1 0zm39 0zm93 0zm-174 1zm3 0zm2 0zm8 0zm6 0zm3 0zm2 0zm7 0zm8 0zm7 0zm3 0zm3 0zm2 0zm5 0zm7 0zm6 0zm2 0zm9 0zm11 0zm13 0zm8 0zm35 0zm9 0zm-160 1zm6 0zm6 0zm2 0zm15 0zm6 0zm1 0zm6 0zm2 0zm3 0zm2 0zm4 0zm7 0zm53 0zm-108 1zm11 0zm1 0zm10 0zm7 0zm3 0zm1 0zm1 0zm10 0zm2 0zm4 0zm4 0zm2 0zm1 0zm3 0zm5 0zm8 0zm6 0zm2 0zm32 0zm7 0zm-118 1zm5 0zm17 0zm10 0zm1 0zm1 0zm4 0zm2 0zm1 0zm3 0zm4 0zm18 0zm1 0zm20 0zm10 0zm11 0zm-115 1zm4 0zm12 0zm5 0zm3 0zm1 0zm9 0zm9 0zm2 0zm9 0zm4 0zm7 0zm3 0zm1 0zm2 0zm10 0zm6 0zm11 0zm-97 1zm8 0zm14 0zm4 0zm3 0zm3 0zm2 0zm3 0zm9 0zm5 0zm2 0zm18 0zm12 0zm3 0zm13 0zm22 0zm16 0zm-136 1zm1 0zm3 0zm1 0zm2 0zm3 0zm5 0zm3 0zm4 0zm3 0zm9 0zm13 0zm16 0zm6 0zm9 0zm13 0zm10 0zm63 0zm-161 1zm7 0zm11 0zm6 0zm7 0zm2 0zm7 0zm3 0zm8 0zm8 0zm4 0zm45 0zm50 0zm-168 1zm3 0zm1 0zm5 0zm4 0zm1 0zm11 0zm4 0zm7 0zm4 0zm9 0zm1 0zm6 0zm3 0zm2 0zm6 0zm7 0zm8 0zm7 0zm27 0zm-113 1zm2 0zm5 0zm27 0zm3 0zm2 0zm11 0zm3 0zm2 0zm3 0zm1 0zm10 0zm4 0zm9 0zm-84 1zm9 0zm1 0zm2 0zm1 0zm9 0zm7 0zm12 0zm2 0zm6 0zm2 0zm18 0zm11 0zm5 0zm2 0zm9 0zm5 0zm10 0zm31 0zm22 0zm-170 1zm6 0zm5 0zm13 0zm19 0zm3 0zm5 0zm4 0zm2 0zm1 0zm3 0zm3 0zm10 0zm7 0zm7 0zm6 0zm3 0zm12 0zm53 0zm-156 1zm3 0zm2 0zm2 0zm4 0zm3 0zm5 0zm9 0zm3 0zm13 0zm3 0zm9 0zm27 0zm10 0zm4 0zm18 0zm2 0zm-125 1zm18 0zm7 0zm15 0zm28 0zm4 0zm5 0zm5 0zm1 0zm10 0zm3 0zm4 0zm14 0zm2 0zm-125 1zm1 0zm5 0zm8 0zm7 0zm2 0zm2 0zm2 0zm3 0zm34 0zm1 0zm3 0zm1 0zm2 0zm3 0zm3 0zm4 0zm9 0zm1 0zm5 0zm1 0zm2 0zm6 0zm21 0zm14 0zm1 0zm-138 1zm9 0zm1 0zm3 0zm2 0zm2 0zm14 0zm17 0zm2 0zm8 0zm3 0zm5 0zm9 0zm5 0zm9 0zm1 0zm15 0zm1 0zm7 0zm11 0zm34 0zm-139 1zm30 0zm3 0zm6 0zm9 0zm8 0zm12 0zm8 0zm-84 1zm32 0zm19 0zm13 0zm9 0zm9 0zm3 0zm5 0zm17 0zm6 0zm-116 1zm1 0zm1 0zm39 0zm9 0zm3 0zm5 0zm3 0zm10 0zm1 0zm2 0zm39 0zm51 0zm-160 1zm12 0zm26 0zm12 0zm2 0zm7 0zm8 0zm15 0zm4 0zm18 0zm18 0zm18 0zm-152 1zm36 0zm35 0zm4 0zm7 0zm1 0zm3 0zm1 0zm7 0zm22 0zm17 0zm2 0zm-128 1zm2 0zm35 0zm23 0zm2 0zm6 0zm1 0zm1 0zm5 0zm6 0zm2 0zm2 0zm29 0zm20 0zm-78 1zm5 0zm4 0zm13 0zm28 0zm18 0zm-128 1zm2 0zm1 0zm59 0zm10 0zm5 0zm6 0zm13 0zm4 0zm10 0zm23 0zm32 0zm-168 1zm2 0zm57 0zm12 0zm3 0zm11 0zm5 0zm3 0zm28 0zm-128 1zm70 0zm3 0zm3 0zm1 0zm3 0zm2 0zm3 0zm1 0zm1 0zm10 0zm3 0zm33 0zm43 0zm-169 1zm60 0zm7 0zm3 0zm5 0zm6 0zm10 0zm6 0zm7 0zm1 0zm10 0zm14 0zm24 0zm-158 1zm4 0zm65 0zm7 0zm4 0zm7 0zm10 0zm6 0zm8 0zm2 0zm15 0zm1 0zm1 0zm18 0zm3 0zm-145 1zm1 0zm57 0zm11 0zm12 0zm4 0zm10 0zm38 0zm-143 1zm4 0zm9 0zm56 0zm6 0zm2 0zm8 0zm1 0zm6 0zm3 0zm7 0zm12 0zm31 0zm-135 1zm1 0zm54 0zm15 0zm8 0zm6 0zm5 0zm6 0zm13 0zm3 0zm1 0zm6 0zm7 0zm19 0zm12 0zm-160 1zm3 0zm4 0zm54 0zm1 0zm1 0zm7 0zm6 0zm3 0zm14 0zm7 0zm7 0zm-116 1zm12 0zm80 0zm1 0zm1 0zm5 0zm5 0zm8 0zm8 0zm9 0zm19 0zm-138 1zm62 0zm3 0zm8 0zm16 0zm2 0zm2 0zm2 0zm4 0zm8 0zm20 0zm12 0zm2 0zm15 0zm-160 1zm3 0zm65 0zm6 0zm2 0zm4 0zm1 0zm13 0zm2 0zm2 0zm9 0zm1 0zm2 0zm23 0zm6 0zm-135 1zm77 0zm2 0zm3 0zm3 0zm3 0zm15 0zm3 0zm11 0zm4 0zm8 0zm-130 1zm2 0zm77 0zm6 0zm14 0zm21 0zm8 0zm-132 1zm1 0zm3 0zm2 0zm61 0zm7 0zm7 0zm4 0zm5 0zm4 0zm5 0zm5 0zm1 0zm10 0zm6 0zm20 0zm-143 1zm77 0zm1 0zm1 0zm2 0zm1 0zm6 0zm3 0zm3 0zm3 0zm4 0zm37 0zm2 0zm-70 1zm2 0zm8 0zm2 0zm6 0zm13 0zm17 0zm12 0zm8 0zm-154 1zm84 0zm8 0zm8 0zm14 0zm3 0zm12 0zm3 0zm11 0zm-129 1zm72 0zm1 0zm5 0zm5 0zm6 0zm13 0zm36 0zm11 0zm-157 1zm5 0zm2 0zm83 0zm10 0zm6 0zm1 0zm1 0zm4 0zm5 0zm-26 1zm7 0zm4 0zm1 0zm5 0zm1 0zm2 0zm4 0zm-108 1zm2 0zm79 0zm12 0zm10 0zm2 0zm5 0zm1 0zm3 0zm14 0zm-142 1zm17 0zm71 0zm7 0zm1 0zm6 0zm5 0zm3 0zm20 0zm4 0zm7 0zm-54 1zm2 0zm3 0zm2 0zm6 0zm12 0zm6 0zm13 0zm-124 1zm4 0zm80 0zm23 0zm5 0zm7 0zm14 0zm-151 1zm8 0zm13 0zm78 0zm5 0zm3 0zm4 0zm3 0zm1 0zm8 0zm6 0zm-124 1zm17 0zm75 0zm2 0zm25 0zm5 0zm1 0zm5 0zm2 0zm9 0zm5 0zm13 0zm11 0zm-78 1zm8 0zm4 0zm2 0zm3 0zm2 0zm2 0zm2 0zm3 0zm7 0zm3 0zm3 0zm-114 1zm84 0zm1 0zm2 0zm2 0zm6 0zm3 0zm1 0zm1 0zm19 0zm11 0zm-136 1zm2 0zm78 0zm3 0zm29 0zm8 0zm2 0zm9 0zm-154 1zm24 0zm3 0zm78 0zm11 0zm6 0zm4 0zm21 0zm6 0zm8 0zm-161 1zm9 0zm18 0zm81 0zm1 0zm5 0zm4 0zm3 0zm12 0zm1 0zm2 0zm-131 1zm1 0zm98 0zm14 0zm6 0zm5 0zm4 0zm1 0zm12 0zm11 0zm5 0zm-149 1zm91 0zm2 0zm5 0zm1 0zm2 0zm1 0zm10 0zm21 0zm-133 1zm2 0zm7 0zm5 0zm79 0zm1 0zm20 0zm18 0zm-151 1zm10 0zm15 0zm3 0zm81 0zm15 0zm3 0zm8 0zm2 0zm14 0zm1 0zm-134 1zm1 0zm2 0zm5 0zm81 0zm7 0zm5 0zm3 0zm11 0zm-122 1zm3 0zm5 0zm8 0zm3 0zm79 0zm7 0zm3 0zm1 0zm4 0zm10 0zm1 0zm10 0zm10 0zm-156 1zm4 0zm4 0zm15 0zm4 0zm1 0zm1 0zm3 0zm67 0zm13 0zm2 0zm1 0zm9 0zm19 0zm-145 1zm4 0zm3 0zm4 0zm1 0zm18 0zm81 0zm9 0zm13 0zm-136 1zm9 0zm11 0zm1 0zm2 0zm2 0zm2 0zm1 0zm2 0zm72 0zm3 0zm6 0zm11 0zm2 0zm14 0zm18 0zm-140 1zm4 0zm5 0zm11 0zm2 0zm72 0zm5 0zm3 0zm13 0zm10 0zm-138 1zm9 0zm1 0zm4 0zm1 0zm4 0zm5 0zm2 0zm7 0zm67 0zm3 0zm2 0zm3 0zm1 0zm5 0zm3 0zm3 0zm5 0zm2 0zm-110 1zm6 0zm5 0zm2 0zm1 0zm71 0zm9 0zm6 0zm8 0zm3 0zm-128 1zm2 0zm2 0zm11 0zm8 0zm1 0zm80 0zm2 0zm2 0zm1 0zm10 0zm3 0zm15 0zm-146 1zm1 0zm12 0zm22 0zm2 0zm73 0zm20 0zm3 0zm-125 1zm2 0zm5 0zm2 0zm1 0zm19 0zm76 0zm1 0zm1 0zm1 0zm3 0zm2 0zm2 0zm-111 1zm9 0zm10 0zm1 0zm1 0zm1 0zm4 0zm71 0zm2 0zm5 0zm17 0zm-125 1zm4 0zm3 0zm5 0zm15 0zm3 0zm67 0zm6 0zm7 0zm3 0zm7 0zm4 0zm-131 1zm11 0zm3 0zm24 0zm67 0zm2 0zm3 0zm2 0zm1 0zm2 0zm1 0zm3 0zm-116 1zm3 0zm7 0zm1 0zm3 0zm12 0zm4 0zm63 0zm3 0zm3 0zm11 0zm2 0zm7 0zm8 0zm-135 1zm13 0zm11 0zm4 0zm5 0zm72 0zm10 0zm12 0zm2 0zm-108 1zm2 0zm12 0zm4 0zm55 0zm7 0zm6 0zm1 0zm8 0zm10 0zm-107 1zm16 0zm1 0zm2 0zm2 0zm64 0zm5 0zm2 0zm8 0zm3 0zm-126 1zm1 0zm9 0zm3 0zm4 0zm15 0zm3 0zm1 0zm3 0zm52 0zm9 0zm1 0zm4 0zm1 0zm9 0zm15 0zm-119 1zm8 0zm21 0zm66 0zm13 0zm2 0zm1 0zm-87 1zm7 0zm44 0zm2 0zm10 0zm4 0zm6 0zm30 0zm-135 1zm12 0zm72 0zm11 0zm3 0zm10 0zm-106 1zm3 0zm2 0zm6 0zm17 0zm1 0zm43 0zm2 0zm19 0zm5 0zm6 0zm19 0zm-128 1zm10 0zm29 0zm4 0zm34 0zm6 0zm17 0zm14 0zm6 0zm-113 1zm9 0zm16 0zm8 0zm5 0zm30 0zm1 0zm4 0zm6 0zm9 0zm24 0zm-119 1zm10 0zm21 0zm9 0zm3 0zm42 0zm18 0zm1 0zm-78 1zm4 0zm5 0zm9 0zm2 0zm21 0zm6 0zm8 0zm7 0zm13 0zm-100 1zm7 0zm1 0zm2 0zm13 0zm5 0zm4 0zm1 0zm6 0zm2 0zm3 0zm-42 1zm20 0zm4 0zm11 0zm4 0zm3 0zm19 0zm2 0zm12 0zm-78 1zm23 0zm5 0zm1 0zm2 0zm3 0zm2 0zm46 0zm-58 1zm8 0zm1 0zm3 0zm8 0zm11 0zm4 0zm2 0zm2 0zm5 0zm2 0zm-70 1zm8 0zm22 0zm14 0zm10 0zm9 0zm-58 1zm2 0zm18 0zm3 0zm2 0zm9 0zm-39 1zm3 0zm33 0zm6 0zm1 0zm13 0zm1 0zm5 0zm-55 1zm27 0zm9 0zm4 0zm6 0zm3 0zm7 0zm9 0zm-70 1zm27 0zm2 0zm19 0zm3 0zm-53 1zm6 0zm20 0zm18 0zm4 0zm4 0zm4 0zm-56 1zm2 0zm5 0zm24 0zm8 0zm13 0zm5 0zm-50 1zm23 0zm6 0zm9 0zm2 0zm1 0zm8 0zm-56 1zm48 0zm-2 1zm-45 1zm22 0zm-20 1zm19 0zm12 0zm1 0zm6 0zm-18 1zm12 0zm15 0zm-28 1zm-22 1zm19 0zm8 0zm3 0zm-30 1zm21 0zm6 0zm11 0zm-37 1zm20 0zm1 0zm-22 1zm23 0zm1 0zm-24 2zm20 0zm10 0zm-15 1zm6 0zm-5 1zm3 0zm1 0zm-4 1zm0 2zm8 0z"/>
<path stroke="#20409c" d="M234 570zm1 0zm-35 25zm1 1zm-1 1zm1 0zm1 0zm0 1zm1 0zm1 1zm7 0zm-21 3zm1 0zm8 0zm-15 1zm7 0zm10 0zm-11 1zm-8 1zm20 3zm11 0zm-5 1zm1 0zm2 0zm-24 1zm1 0zm21 0zm1 0zm1 0zm1 0zm-39 1zm9 0zm4 0zm1 0zm21 0zm4 0zm-29 1zm2 0zm6 0zm19 0zm1 0zm-36 1zm6 0zm1 0zm1 0zm1 0zm1 0zm4 0zm1 0zm6 0zm1 0zm2 0zm11 0zm2 0zm-31 1zm1 0zm4 0zm5 0zm7 0zm2 0zm9 0zm1 0zm-41 1zm15 0zm8 0zm5 0zm3 0zm8 0zm-28 1zm1 0zm5 0zm4 0zm9 0zm1 0zm1 0zm3 0zm-36 1zm12 0zm7 0zm3 0zm1 0zm1 0zm1 0zm1 0zm6 0zm4 0zm1 0zm1 0zm2 0zm-42 1zm13 0zm1 0zm6 0zm3 0zm2 0zm1 0zm3 0zm12 0zm14 0zm-47 1zm9 0zm1 0zm2 0zm1 0zm1 0zm5 0zm3 0zm8 0zm3 0zm14 0zm1 0zm-57 1zm1 0zm8 0zm1 0zm2 0zm1 0zm8 0zm7 0zm4 0zm8 0zm1 0zm-40 1zm1 0zm1 0zm4 0zm2 0zm1 0zm4 0zm2 0zm1 0zm2 0zm5 0zm4 0zm6 0zm8 0zm-41 1zm5 0zm1 0zm1 0zm8 0zm1 0zm6 0zm4 0zm1 0zm4 0zm1 0zm1 0zm4 0zm1 0zm1 0zm1 0zm-38 1zm3 0zm1 0zm5 0zm2 0zm2 0zm2 0zm1 0zm5 0zm1 0zm1 0zm1 0zm4 0zm2 0zm1 0zm4 0zm4 0zm2 0zm3 0zm4 0zm-50 1zm2 0zm2 0zm1 0zm7 0zm1 0zm1 0zm2 0zm1 0zm14 0zm1 0zm5 0zm2 0zm2 0zm4 0zm1 0zm3 0zm15 0zm-65 1zm3 0zm4 0zm1 0zm4 0zm3 0zm1 0zm1 0zm4 0zm2 0zm4 0zm1 0zm1 0zm3 0zm1 0zm5 0zm2 0zm1 0zm4 0zm2 0zm4 0zm1 0zm14 0zm4 0zm-77 1zm1 0zm1 0zm3 0zm1 0zm1 0zm3 0zm6 0zm1 0zm4 0zm2 0zm4 0zm1 0zm3 0zm3 0zm2 0zm5 0zm3 0zm6 0zm1 0zm2 0zm5 0zm1 0zm1 0zm13 0zm-70 1zm3 0zm3 0zm4 0zm5 0zm2 0zm1 0zm1 0zm1 0zm1 0zm4 0zm3 0zm4 0zm2 0zm3 0zm4 0zm3 0zm2 0zm5 0zm-52 1zm2 0zm2 0zm4 0zm1 0zm2 0zm13 0zm2 0zm4 0zm3 0zm7 0zm2 0zm3 0zm1 0zm3 0zm-51 1zm1 0zm1 0zm3 0zm1 0zm1 0zm2 0zm5 0zm4 0zm1 0zm2 0zm3 0zm4 0zm4 0zm2 0zm10 0zm3 0zm1 0zm1 0zm-51 1zm1 0zm5 0zm2 0zm5 0zm9 0zm13 0zm7 0zm5 0zm2 0zm1 0zm3 0zm-54 1zm2 0zm1 0zm19 0zm11 0zm1 0zm1 0zm3 0zm3 0zm1 0zm1 0zm2 0zm5 0zm1 0zm2 0zm3 0zm1 0zm1 0zm1 0zm-44 1zm2 0zm3 0zm1 0zm15 0zm2 0zm1 0zm2 0zm11 0zm1 0zm4 0zm3 0zm-57 1zm8 0zm1 0zm23 0zm6 0zm3 0zm5 0zm3 0zm7 0zm10 0zm-67 1zm1 0zm2 0zm28 0zm3 0zm2 0zm4 0zm1 0zm1 0zm2 0zm3 0zm1 0zm8 0zm2 0zm1 0zm2 0zm-65 1zm4 0zm1 0zm2 0zm13 0zm23 0zm4 0zm2 0zm3 0zm2 0zm7 0zm2 0zm-62 1zm3 0zm1 0zm4 0zm28 0zm5 0zm2 0zm4 0zm2 0zm1 0zm2 0zm35 0zm-88 1zm1 0zm2 0zm1 0zm3 0zm13 0zm1 0zm13 0zm3 0zm11 0zm6 0zm1 0zm8 0zm1 0zm1 0zm-66 1zm1 0zm8 0zm42 0zm4 0zm1 0zm1 0zm1 0zm1 0zm1 0zm4 0zm2 0zm-66 1zm38 0zm2 0zm4 0zm6 0zm1 0zm1 0zm4 0zm3 0zm2 0zm2 0zm2 0zm1 0zm1 0zm-67 1zm35 0zm4 0zm1 0zm12 0zm1 0zm3 0zm2 0zm2 0zm4 0zm1 0zm15 0zm-45 1zm4 0zm10 0zm1 0zm2 0zm1 0zm2 0zm6 0zm1 0zm1 0zm2 0zm10 0zm5 0zm-82 1zm34 0zm5 0zm2 0zm1 0zm1 0zm12 0zm1 0zm1 0zm7 0zm1 0zm13 0zm-84 1zm1 0zm3 0zm41 0zm2 0zm3 0zm7 0zm3 0zm1 0zm3 0zm8 0zm7 0zm-76 1zm43 0zm2 0zm2 0zm10 0zm1 0zm2 0zm1 0zm8 0zm8 0zm-82 1zm1 0zm1 0zm46 0zm8 0zm4 0zm1 0zm1 0zm3 0zm1 0zm2 0zm5 0zm2 0zm-74 1zm57 0zm5 0zm2 0zm2 0zm1 0zm2 0zm3 0zm1 0zm-73 1zm59 0zm2 0zm4 0zm2 0zm5 0zm1 0zm1 0zm1 0zm-74 1zm56 0zm1 0zm3 0zm1 0zm1 0zm2 0zm1 0zm1 0zm6 0zm2 0zm5 0zm1 0zm3 0zm1 0zm-36 1zm1 0zm1 0zm4 0zm13 0zm6 0zm2 0zm7 0zm-86 1zm54 0zm4 0zm5 0zm2 0zm1 0zm1 0zm1 0zm1 0zm1 0zm17 0zm1 0zm-88 1zm3 0zm57 0zm1 0zm3 0zm5 0zm3 0zm6 0zm1 0zm-80 1zm3 0zm50 0zm6 0zm2 0zm2 0zm1 0zm2 0zm1 0zm2 0zm1 0zm-69 1zm3 0zm47 0zm2 0zm3 0zm3 0zm6 0zm8 0zm-71 1zm49 0zm2 0zm6 0zm3 0zm3 0zm2 0zm1 0zm11 0zm2 0zm-81 1zm53 0zm1 0zm1 0zm4 0zm2 0zm1 0zm1 0zm13 0zm1 0zm1 0zm1 0zm-80 1zm51 0zm1 0zm7 0zm1 0zm1 0zm1 0zm5 0zm12 0zm6 0zm1 0zm2 0zm-91 1zm1 0zm52 0zm1 0zm3 0zm7 0zm1 0zm2 0zm1 0zm1 0zm4 0zm7 0zm9 0zm-88 1zm1 0zm56 0zm9 0zm3 0zm4 0zm-22 1zm1 0zm1 0zm10 0zm2 0zm1 0zm2 0zm2 0zm2 0zm-20 1zm9 0zm2 0zm1 0zm2 0zm1 0zm2 0zm-9 1zm4 0zm1 0zm10 0zm-25 1zm5 0zm6 0zm1 0zm3 0zm2 0zm1 0zm1 0zm1 0zm-11 1zm2 0zm3 0zm2 0zm2 0zm8 0zm-83 1zm6 0zm53 0zm2 0zm1 0zm1 0zm3 0zm2 0zm1 0zm2 0zm2 0zm2 0zm3 0zm1 0zm4 0zm-78 1zm54 0zm5 0zm3 0zm4 0zm1 0zm2 0zm1 0zm1 0zm2 0zm1 0zm-74 1zm1 0zm54 0zm2 0zm12 0zm1 0zm1 0zm3 0zm-74 1zm58 0zm3 0zm1 0zm-8 1zm2 0zm-91 1zm86 0zm2 0zm2 0zm5 0zm2 0zm1 0zm19 0zm-107 1zm1 0zm1 0zm19 0zm2 0zm53 0zm2 0zm3 0zm4 0zm1 0zm2 0zm-98 1zm10 0zm1 0zm6 0zm14 0zm2 0zm1 0zm54 0zm1 0zm1 0zm2 0zm1 0zm2 0zm1 0zm2 0zm-86 1zm5 0zm14 0zm3 0zm49 0zm3 0zm2 0zm4 0zm1 0zm3 0zm2 0zm-87 1zm2 0zm3 0zm1 0zm14 0zm1 0zm1 0zm49 0zm2 0zm3 0zm1 0zm2 0zm1 0zm-78 1zm2 0zm3 0zm13 0zm45 0zm4 0zm2 0zm2 0zm1 0zm4 0zm3 0zm-80 1zm3 0zm1 0zm15 0zm2 0zm41 0zm1 0zm2 0zm4 0zm2 0zm1 0zm2 0zm3 0zm1 0zm2 0zm2 0zm2 0zm-82 1zm2 0zm3 0zm11 0zm1 0zm51 0zm7 0zm3 0zm-80 1zm1 0zm6 0zm53 0zm1 0zm2 0zm4 0zm4 0zm2 0zm1 0zm-74 1zm1 0zm2 0zm10 0zm2 0zm1 0zm2 0zm36 0zm5 0zm3 0zm4 0zm5 0zm-69 1zm1 0zm4 0zm9 0zm38 0zm1 0zm6 0zm1 0zm2 0zm3 0zm5 0zm1 0zm-83 1zm1 0zm1 0zm5 0zm1 0zm3 0zm5 0zm2 0zm8 0zm1 0zm2 0zm35 0zm4 0zm2 0zm2 0zm4 0zm1 0zm4 0zm1 0zm1 0zm-82 1zm1 0zm3 0zm3 0zm1 0zm1 0zm15 0zm3 0zm39 0zm8 0zm2 0zm-75 1zm2 0zm2 0zm6 0zm11 0zm2 0zm1 0zm3 0zm2 0zm31 0zm1 0zm1 0zm1 0zm1 0zm9 0zm-71 1zm3 0zm1 0zm1 0zm1 0zm2 0zm1 0zm1 0zm9 0zm3 0zm2 0zm1 0zm26 0zm2 0zm2 0zm1 0zm1 0zm1 0zm1 0zm-62 1zm5 0zm2 0zm3 0zm2 0zm10 0zm1 0zm1 0zm1 0zm3 0zm32 0zm2 0zm-63 1zm1 0zm1 0zm1 0zm2 0zm1 0zm1 0zm3 0zm2 0zm10 0zm1 0zm6 0zm20 0zm2 0zm3 0zm26 0zm-86 1zm7 0zm2 0zm7 0zm10 0zm1 0zm6 0zm1 0zm17 0zm2 0zm1 0zm1 0zm1 0zm2 0zm2 0zm-74 1zm13 0zm1 0zm8 0zm3 0zm1 0zm1 0zm2 0zm1 0zm18 0zm2 0zm10 0zm6 0zm6 0zm1 0zm12 0zm-72 1zm1 0zm1 0zm4 0zm3 0zm1 0zm1 0zm3 0zm1 0zm21 0zm1 0zm2 0zm12 0zm2 0zm2 0zm1 0zm1 0zm1 0zm2 0zm-58 1zm4 0zm1 0zm8 0zm21 0zm1 0zm9 0zm4 0zm2 0zm6 0zm1 0zm-58 1zm2 0zm1 0zm1 0zm25 0zm4 0zm1 0zm2 0zm4 0zm3 0zm7 0zm-51 1zm3 0zm3 0zm13 0zm8 0zm7 0zm1 0zm1 0zm1 0zm1 0zm2 0zm4 0zm5 0zm-50 1zm5 0zm3 0zm1 0zm1 0zm17 0zm2 0zm1 0zm7 0zm3 0zm2 0zm5 0zm-48 1zm2 0zm3 0zm1 0zm1 0zm21 0zm1 0zm3 0zm2 0zm1 0zm2 0zm1 0zm1 0zm2 0zm-43 1zm4 0zm4 0zm3 0zm2 0zm2 0zm5 0zm20 0zm2 0zm1 0zm5 0zm1 0zm-49 1zm5 0zm4 0zm3 0zm1 0zm7 0zm17 0zm3 0zm-36 1zm2 0zm2 0zm2 0zm1 0zm1 0zm2 0zm4 0zm20 0zm2 0zm1 0zm1 0zm-43 1zm2 0zm1 0zm7 0zm2 0zm6 0zm1 0zm2 0zm16 0zm-37 1zm11 0zm1 0zm4 0zm1 0zm2 0zm19 0zm-37 1zm3 0zm2 0zm3 0zm1 0zm2 0zm3 0zm2 0zm-17 1zm2 0zm9 0zm2 0zm3 0zm1 0zm23 0zm-38 1zm3 0zm3 0zm2 0zm1 0zm1 0zm3 0zm-17 1zm4 0zm9 0zm4 0zm1 0zm-19 1zm1 0zm2 0zm1 0zm8 0zm3 0zm1 0zm2 0zm-19 1zm1 0zm14 0zm-14 1zm4 0zm1 0zm8 0zm-9 1zm-7 2zm1 0zm1 0zm-1 1zm16 0zm1 0zm-4 1zm1 0zm1 0zm-16 1zm14 0zm3 0zm-19 1zm19 0zm-17 1zm13 0zm1 0zm1 0zm1 0zm-5 1zm-13 1zm1 0zm1 0zm11 0zm0 1zm0 2zm1 0zm1 0z"/>
<path stroke="#2a78cc" d="M187 618zm19 1zm-29 2zm1 0zm12 0zm1 0zm-13 1zm11 0zm2 0zm-13 1zm19 0zm11 0zm-4 1zm4 1zm-36 1zm11 0zm-21 1zm3 0zm1 0zm6 0zm2 0zm1 0zm8 0zm1 0zm6 0zm6 0zm3 0zm-38 1zm4 0zm5 0zm3 0zm1 0zm5 0zm1 0zm3 0zm2 0zm4 0zm3 0zm3 0zm3 0zm-32 1zm3 0zm5 0zm1 0zm3 0zm3 0zm3 0zm4 0zm5 0zm1 0zm1 0zm1 0zm2 0zm1 0zm1 0zm-37 1zm2 0zm8 0zm2 0zm4 0zm2 0zm1 0zm1 0zm1 0zm2 0zm1 0zm5 0zm1 0zm2 0zm1 0zm3 0zm-39 1zm2 0zm2 0zm1 0zm1 0zm7 0zm6 0zm3 0zm12 0zm1 0zm6 0zm1 0zm-41 1zm1 0zm1 0zm1 0zm4 0zm3 0zm7 0zm2 0zm1 0zm2 0zm1 0zm1 0zm2 0zm1 0zm1 0zm1 0zm5 0zm3 0zm1 0zm2 0zm1 0zm-41 1zm1 0zm1 0zm5 0zm2 0zm1 0zm2 0zm3 0zm3 0zm1 0zm4 0zm8 0zm6 0zm3 0zm2 0zm-42 1zm2 0zm1 0zm1 0zm1 0zm1 0zm1 0zm5 0zm3 0zm2 0zm9 0zm3 0zm4 0zm-35 1zm2 0zm1 0zm2 0zm4 0zm2 0zm2 0zm4 0zm7 0zm2 0zm1 0zm1 0zm1 0zm2 0zm2 0zm-29 1zm10 0zm2 0zm8 0zm3 0zm6 0zm7 0zm1 0zm-38 1zm13 0zm1 0zm6 0zm7 0zm3 0zm1 0zm2 0zm3 0zm1 0zm6 0zm1 0zm-48 1zm1 0zm4 0zm10 0zm1 0zm1 0zm2 0zm5 0zm2 0zm1 0zm3 0zm1 0zm4 0zm1 0zm3 0zm3 0zm5 0zm-52 1zm1 0zm3 0zm2 0zm12 0zm2 0zm2 0zm2 0zm2 0zm1 0zm4 0zm1 0zm1 0zm7 0zm1 0zm1 0zm2 0zm2 0zm1 0zm-46 1zm1 0zm2 0zm1 0zm3 0zm14 0zm1 0zm2 0zm5 0zm1 0zm2 0zm3 0zm6 0zm1 0zm3 0zm1 0zm-47 1zm3 0zm28 0zm4 0zm5 0zm1 0zm1 0zm1 0zm1 0zm2 0zm1 0zm-48 1zm25 0zm9 0zm1 0zm8 0zm1 0zm1 0zm1 0zm2 0zm1 0zm-50 1zm32 0zm2 0zm3 0zm8 0zm1 0zm2 0zm7 0zm-61 1zm1 0zm5 0zm37 0zm7 0zm4 0zm1 0zm1 0zm5 0zm-61 1zm1 0zm1 0zm1 0zm1 0zm33 0zm6 0zm4 0zm1 0zm2 0zm1 0zm3 0zm1 0zm-56 1zm1 0zm4 0zm33 0zm4 0zm2 0zm1 0zm1 0zm2 0zm1 0zm4 0zm2 0zm-54 1zm36 0zm2 0zm1 0zm1 0zm2 0zm1 0zm2 0zm1 0zm1 0zm1 0zm1 0zm1 0zm1 0zm1 0zm1 0zm1 0zm2 0zm-18 1zm2 0zm3 0zm1 0zm2 0zm2 0zm2 0zm1 0zm2 0zm1 0zm3 0zm1 0zm-19 1zm1 0zm1 0zm1 0zm2 0zm1 0zm5 0zm2 0zm7 0zm-16 1zm3 0zm6 0zm7 0zm-63 1zm3 0zm1 0zm41 0zm1 0zm2 0zm3 0zm1 0zm1 0zm1 0zm2 0zm-54 1zm44 0zm2 0zm1 0zm3 0zm2 0zm1 0zm-55 1zm3 0zm42 0zm3 0zm2 0zm2 0zm1 0zm2 0zm-54 1zm44 0zm2 0zm1 0zm7 0zm-56 1zm1 0zm1 0zm1 0zm44 0zm2 0zm7 0zm1 0zm9 0zm1 0zm-20 1zm4 0zm3 0zm1 0zm1 0zm10 0zm-66 1zm46 0zm1 0zm6 0zm1 0zm1 0zm11 0zm1 0zm-27 1zm12 0zm2 0zm2 0zm1 0zm1 0zm3 0zm6 0zm-71 1zm1 0zm2 0zm54 0zm1 0zm3 0zm-61 1zm2 0zm48 0zm4 0zm1 0zm2 0zm1 0zm1 0zm1 0zm-58 1zm43 0zm6 0zm2 0zm2 0zm2 0zm1 0zm10 0zm-68 1zm45 0zm3 0zm3 0zm2 0zm1 0zm2 0zm1 0zm1 0zm-58 1zm48 0zm4 0zm1 0zm-53 1zm1 0zm48 0zm2 0zm6 0zm-56 1zm48 0zm2 0zm7 0zm1 0zm-59 1zm48 0zm1 0zm1 0zm1 0zm1 0zm-3 1zm1 0zm1 0zm2 0zm-52 1zm45 0zm3 0zm1 0zm1 0zm-50 1zm40 0zm7 0zm-49 1zm41 0zm2 0zm1 0zm1 0zm2 0zm1 0zm-49 1zm2 0zm41 0zm1 0zm1 0zm1 0zm2 0zm1 0zm1 0zm-9 1zm1 0zm1 0zm2 0zm4 0zm1 0zm-50 1zm39 0zm1 0zm1 0zm1 0zm3 0zm1 0zm-7 1zm3 0zm1 0zm1 0zm-45 1zm34 0zm2 0zm2 0zm7 0zm-11 1zm1 0zm2 0zm1 0zm1 0zm3 0zm2 0zm1 0zm1 0zm5 0zm-54 1zm36 0zm1 0zm3 0zm3 0zm2 0zm1 0zm1 0zm-46 1zm1 0zm36 0zm3 0zm-41 1zm1 0zm1 0zm32 0zm3 0zm1 0zm1 0zm7 0zm-45 1zm2 0zm31 0zm4 0zm-37 1zm1 0zm27 0zm1 0zm-58 1zm7 0zm46 0zm2 0zm3 0zm1 0zm-59 1zm1 0zm1 0zm29 0zm18 0zm1 0zm-42 1zm38 0zm2 0zm3 0zm1 0zm-45 1zm1 0zm22 0zm1 0zm12 0zm1 0zm3 0zm-42 1zm2 0zm25 0zm-29 1zm27 0zm1 0zm7 0zm2 0zm1 0zm2 0zm1 0zm-12 1zm4 0zm1 0zm4 0zm-49 1zm1 0zm39 0zm2 0zm1 0zm4 0zm1 0zm1 0zm-10 1zm4 0zm3 0zm2 0zm-47 1zm0 1zm1 0zm1 0zm35 0zm-37 1zm1 0zm36 0zm-37 1zm1 0zm1 2zm-2 1zm2 0zm-1 1zm1 0zm5 0zm-9 2zm2 0zm1 0zm7 0zm-11 1zm6 0zm-6 1zm1 0zm3 0zm3 0zm-6 1zm4 0zm2 0zm-7 1zm3 0zm2 0zm1 0zm1 0zm-7 1zm2 0zm-7 1zm2 0zm3 0zm-6 1zm1 0zm2 0zm1 0zm1 0zm2 0zm4 0zm-10 1zm1 0zm7 0zm-10 1zm1 0zm10 0zm2 0zm-9 1zm7 0zm-9 1zm8 0zm-11 2zm9 0zm-9 1zm8 0zm1 0zm-9 1zm7 0zm1 0zm-11 1zm12 0zm-1 2zm1 0z"/>
<path stroke="#38aede" d="M197 628zm-23 2zm0 1zm6 0zm1 0zm2 0zm4 0zm-5 1zm-4 1zm3 0zm1 0zm3 0zm1 0zm1 0zm-25 1zm8 0zm1 0zm1 0zm5 0zm3 0zm1 0zm1 0zm3 0zm1 0zm-21 1zm1 0zm3 0zm6 0zm2 0zm1 0zm1 0zm1 0zm2 0zm7 0zm5 0zm-29 1zm1 0zm1 0zm1 0zm3 0zm5 0zm2 0zm1 0zm1 0zm1 0zm1 0zm3 0zm8 0zm1 0zm-30 1zm1 0zm1 0zm2 0zm1 0zm1 0zm1 0zm8 0zm1 0zm1 0zm2 0zm1 0zm4 0zm8 0zm-32 1zm2 0zm1 0zm1 0zm1 0zm1 0zm1 0zm7 0zm1 0zm1 0zm1 0zm2 0zm3 0zm1 0zm11 0zm-34 1zm2 0zm1 0zm1 0zm1 0zm1 0zm4 0zm2 0zm2 0zm4 0zm1 0zm-24 1zm1 0zm2 0zm2 0zm2 0zm6 0zm1 0zm1 0zm3 0zm2 0zm2 0zm16 0zm-43 1zm1 0zm2 0zm1 0zm1 0zm2 0zm1 0zm1 0zm1 0zm6 0zm1 0zm2 0zm1 0zm1 0zm2 0zm2 0zm1 0zm1 0zm17 0zm-45 1zm1 0zm1 0zm1 0zm1 0zm1 0zm4 0zm3 0zm2 0zm1 0zm1 0zm2 0zm4 0zm1 0zm2 0zm4 0zm-30 1zm1 0zm2 0zm2 0zm1 0zm1 0zm2 0zm2 0zm2 0zm1 0zm1 0zm6 0zm1 0zm3 0zm3 0zm6 0zm14 0zm-48 1zm1 0zm1 0zm1 0zm1 0zm5 0zm3 0zm1 0zm1 0zm1 0zm8 0zm2 0zm1 0zm2 0zm3 0zm1 0zm1 0zm1 0zm1 0zm-36 1zm2 0zm1 0zm1 0zm1 0zm2 0zm18 0zm1 0zm1 0zm2 0zm1 0zm2 0zm2 0zm4 0zm-39 1zm3 0zm16 0zm8 0zm1 0zm1 0zm2 0zm2 0zm1 0zm1 0zm6 0zm-44 1zm1 0zm1 0zm1 0zm4 0zm23 0zm2 0zm1 0zm6 0zm-40 1zm3 0zm2 0zm3 0zm22 0zm3 0zm1 0zm1 0zm1 0zm2 0zm-38 1zm1 0zm26 0zm2 0zm1 0zm5 0zm1 0zm-36 1zm35 0zm1 0zm1 0zm1 0zm1 0zm2 0zm2 0zm-43 1zm3 0zm25 0zm1 0zm2 0zm7 0zm1 0zm3 0zm8 0zm-50 1zm1 0zm1 0zm27 0zm1 0zm2 0zm1 0zm7 0zm-41 1zm1 0zm27 0zm1 0zm1 0zm1 0zm4 0zm1 0zm2 0zm1 0zm1 0zm2 0zm1 0zm-14 1zm1 0zm2 0zm4 0zm1 0zm3 0zm6 0zm-47 1zm1 0zm28 0zm3 0zm4 0zm1 0zm2 0zm1 0zm1 0zm1 0zm-44 1zm1 0zm32 0zm1 0zm1 0zm2 0zm1 0zm1 0zm4 0zm1 0zm-45 1zm31 0zm4 0zm2 0zm1 0zm1 0zm2 0zm2 0zm1 0zm12 0zm-57 1zm32 0zm4 0zm3 0zm2 0zm1 0zm3 0zm1 0zm-12 1zm1 0zm4 0zm1 0zm1 0zm1 0zm2 0zm1 0zm10 0zm-58 1zm38 0zm3 0zm1 0zm1 0zm2 0zm1 0zm1 0zm3 0zm-50 1zm39 0zm3 0zm1 0zm2 0zm1 0zm1 0zm1 0zm3 0zm7 0zm-57 1zm37 0zm1 0zm1 0zm1 0zm1 0zm3 0zm6 0zm-51 1zm1 0zm1 0zm37 0zm2 0zm1 0zm1 0zm1 0zm1 0zm1 0zm-6 1zm1 0zm2 0zm2 0zm1 0zm1 0zm2 0zm-48 1zm36 0zm3 0zm1 0zm1 0zm1 0zm2 0zm2 0zm2 0zm-9 1zm3 0zm1 0zm1 0zm1 0zm-46 1zm1 0zm29 0zm1 0zm1 0zm8 0zm1 0zm3 0zm1 0zm-44 1zm29 0zm3 0zm4 0zm1 0zm1 0zm2 0zm1 0zm1 0zm1 0zm2 0zm-16 1zm2 0zm1 0zm3 0zm2 0zm4 0zm1 0zm2 0zm-46 1zm1 0zm28 0zm2 0zm3 0zm2 0zm1 0zm1 0zm1 0zm-38 1zm1 0zm28 0zm2 0zm3 0zm1 0zm1 0zm1 0zm1 0zm1 0zm-42 1zm2 0zm1 0zm27 0zm2 0zm5 0zm1 0zm-37 1zm2 0zm28 0zm1 0zm1 0zm2 0zm2 0zm-37 1zm1 0zm29 0zm1 0zm2 0zm1 0zm2 0zm1 0zm-7 1zm1 0zm3 0zm-36 1zm1 0zm1 0zm28 0zm3 0zm4 0zm-37 1zm1 0zm1 0zm30 0zm1 0zm3 0zm-34 1zm29 0zm-30 1zm1 0zm28 0zm1 0zm-29 1zm1 0zm22 0zm4 0zm-27 1zm1 0zm1 0zm20 0zm1 0zm1 0zm3 0zm-28 1zm1 0zm1 0zm18 0zm1 0zm2 0zm-22 1zm1 0zm1 0zm1 0zm11 0zm1 0zm1 0zm3 0zm1 0zm-21 1zm1 0zm3 0zm10 0zm2 0zm-15 1zm1 0zm3 0zm1 0zm2 0zm1 0zm1 0zm1 0zm-9 1zm1 0zm1 0zm1 0zm1 0zm1 0zm2 0zm2 0zm1 0zm-11 1zm1 0zm1 0zm1 0zm2 0zm-4 1zm1 0zm6 0zm-49 13zm2 0zm-3 2zm4 0zm-3 1zm1 0zm1 1zm-2 1zm1 0zm1 0zm1 0zm1 0zm-9 1zm4 0zm4 0zm-7 1zm4 0zm1 0zm-6 1zm1 0zm1 0zm1 0zm1 0zm1 0zm1 0zm1 0zm-10 1zm1 0zm1 0zm3 0zm2 0zm1 0zm1 0zm-9 1zm1 0zm2 0zm1 0zm1 0zm1 0zm1 0zm-7 1zm1 0zm3 0zm1 0zm1 0zm1 0zm1 0zm1 0zm-9 1zm1 0zm1 0zm3 0zm1 0zm1 0zm-6 1zm4 0zm-2 1zm2 0zm-7 1zm2 0zm2 0zm1 0zm2 0zm2 0zm-10 1zm4 0zm1 0zm4 0zm-10 1zm6 0zm2 0zm2 0z"/>
<path stroke="#3cc6b4" d="M171 635zm-7 1zm1 2zm0 1zm2 1zm1 0zm1 0zm1 0zm1 0zm9 0zm2 0zm-22 1zm5 0zm1 0zm1 0zm1 0zm1 0zm3 0zm10 0zm-22 1zm1 0zm2 0zm1 0zm2 0zm6 0zm1 0zm1 0zm5 0zm1 0zm-20 1zm8 0zm1 0zm2 0zm1 0zm6 0zm1 0zm-21 1zm1 0zm3 0zm1 0zm5 0zm1 0zm1 0zm1 0zm2 0zm3 0zm3 0zm2 0zm-29 1zm5 0zm5 0zm2 0zm1 0zm2 0zm2 0zm1 0zm1 0zm2 0zm1 0zm1 0zm4 0zm5 0zm-32 1zm2 0zm1 0zm1 0zm2 0zm1 0zm1 0zm3 0zm3 0zm1 0zm1 0zm3 0zm1 0zm2 0zm1 0zm1 0zm-25 1zm1 0zm4 0zm5 0zm2 0zm3 0zm4 0zm2 0zm2 0zm1 0zm1 0zm2 0zm-31 1zm6 0zm6 0zm2 0zm4 0zm5 0zm1 0zm1 0zm2 0zm1 0zm2 0zm1 0zm-30 1zm1 0zm2 0zm2 0zm6 0zm6 0zm4 0zm1 0zm1 0zm1 0zm2 0zm3 0zm1 0zm1 0zm1 0zm-33 1zm1 0zm1 0zm1 0zm1 0zm8 0zm9 0zm1 0zm1 0zm1 0zm1 0zm1 0zm1 0zm1 0zm1 0zm1 0zm2 0zm1 0zm-33 1zm1 0zm2 0zm1 0zm1 0zm16 0zm3 0zm1 0zm1 0zm3 0zm2 0zm1 0zm1 0zm1 0zm1 0zm1 0zm-34 1zm18 0zm3 0zm2 0zm1 0zm1 0zm3 0zm3 0zm1 0zm1 0zm1 0zm-36 1zm4 0zm21 0zm5 0zm1 0zm4 0zm-36 1zm27 0zm3 0zm2 0zm1 0zm1 0zm3 0zm1 0zm-38 1zm25 0zm1 0zm3 0zm2 0zm1 0zm1 0zm3 0zm-38 1zm1 0zm25 0zm1 0zm1 0zm1 0zm1 0zm8 0zm1 0zm-41 1zm1 0zm28 0zm2 0zm1 0zm1 0zm2 0zm6 0zm-42 1zm1 0zm1 0zm3 0zm23 0zm1 0zm1 0zm3 0zm1 0zm2 0zm1 0zm5 0zm1 0zm-43 1zm3 0zm26 0zm1 0zm1 0zm4 0zm1 0zm1 0zm-38 1zm30 0zm2 0zm1 0zm1 0zm3 0zm-38 1zm1 0zm1 0zm29 0zm4 0zm1 0zm-36 1zm1 0zm30 0zm3 0zm-33 1zm30 0zm2 0zm1 0zm2 0zm2 0zm-39 1zm1 0zm1 0zm29 0zm1 0zm1 0zm1 0zm1 0zm1 0zm1 0zm6 0zm-42 1zm32 0zm1 0zm1 0zm2 0zm1 0zm5 0zm-43 1zm1 0zm28 0zm1 0zm3 0zm1 0zm1 0zm1 0zm4 0zm-8 1zm1 0zm1 0zm1 0zm1 0zm1 0zm1 0zm3 0zm1 0zm-41 1zm27 0zm2 0zm3 0zm1 0zm1 0zm-8 1zm1 0zm2 0zm3 0zm1 0zm2 0zm2 0zm-13 1zm3 0zm2 0zm-8 1zm4 0zm1 0zm2 0zm2 0zm1 0zm-32 1zm24 0zm1 0zm2 0zm3 0zm1 0zm1 0zm-7 1zm1 0zm4 0zm2 0zm-34 1zm1 0zm25 0zm1 0zm-29 1zm1 0zm1 0zm26 0zm1 0zm-28 1zm23 0zm1 0zm2 0zm2 0zm1 0zm-29 1zm2 0zm19 0zm1 0zm2 0zm1 0zm1 0zm1 0zm1 0zm-30 1zm3 0zm22 0zm2 0zm1 0zm1 0zm-26 1zm20 0zm1 0zm1 0zm1 0zm1 0zm1 0zm-24 1zm11 0zm8 0zm-18 1zm4 0zm3 0zm2 0zm3 0zm2 0zm1 0zm1 0zm1 0zm-17 1zm1 0zm3 0zm2 0zm2 0zm1 0zm1 0zm1 0zm1 0zm1 0zm1 0zm-14 1zm1 0zm1 0zm1 0zm1 0zm2 0zm1 0zm1 0zm-11 1zm3 0zm1 0zm1 0zm1 0zm1 0zm1 0zm1 0zm1 0zm-9 1zm1 0zm3 0zm-3 3zm-46 22zm2 1zm1 0zm-7 1zm1 0zm0 1zm1 0zm-2 1zm1 0zm1 2zm-5 1zm4 0zm2 0zm-8 1zm1 0zm1 0zm1 0zm1 0zm2 0zm2 0z"/>
<path stroke="#46b850" d="M159 642zm3 1zm-5 1zm15 0zm-12 1zm1 0zm2 0zm3 0zm-9 1zm4 0zm1 0zm2 0zm1 0zm5 0zm3 0zm-18 1zm2 0zm1 0zm1 0zm1 0zm2 0zm2 0zm1 0zm2 0zm1 0zm1 0zm-21 1zm7 0zm1 0zm1 0zm1 0zm2 0zm2 0zm1 0zm1 0zm2 0zm1 0zm1 0zm1 0zm-19 1zm2 0zm2 0zm1 0zm1 0zm1 0zm1 0zm2 0zm1 0zm1 0zm1 0zm1 0zm2 0zm1 0zm1 0zm-16 1zm1 0zm1 0zm2 0zm1 0zm1 0zm2 0zm1 0zm1 0zm2 0zm1 0zm1 0zm1 0zm-14 1zm5 0zm3 0zm2 0zm2 0zm1 0zm1 0zm2 0zm1 0zm-20 1zm1 0zm1 0zm1 0zm9 0zm3 0zm1 0zm2 0zm1 0zm-21 1zm2 0zm2 0zm11 0zm2 0zm1 0zm1 0zm1 0zm1 0zm1 0zm1 0zm-24 1zm1 0zm1 0zm3 0zm6 0zm5 0zm2 0zm1 0zm1 0zm1 0zm1 0zm1 0zm1 0zm1 0zm-25 1zm1 0zm1 0zm13 0zm2 0zm3 0zm3 0zm-24 1zm1 0zm1 0zm1 0zm1 0zm1 0zm16 0zm1 0zm1 0zm9 0zm-34 1zm1 0zm2 0zm1 0zm3 0zm12 0zm2 0zm2 0zm1 0zm1 0zm1 0zm-26 1zm1 0zm2 0zm18 0zm8 0zm-31 1zm1 0zm2 0zm1 0zm1 0zm22 0zm-28 1zm1 0zm1 0zm21 0zm2 0zm2 0zm1 0zm2 0zm-29 1zm1 0zm1 0zm20 0zm3 0zm1 0zm1 0zm2 0zm1 0zm1 0zm-32 1zm1 0zm22 0zm3 0zm1 0zm1 0zm2 0zm1 0zm2 0zm-33 1zm1 0zm24 0zm2 0zm1 0zm5 0zm-33 1zm25 0zm1 0zm1 0zm-28 1zm1 0zm22 0zm2 0zm1 0zm1 0zm1 0zm1 0zm1 0zm-30 1zm23 0zm1 0zm2 0zm3 0zm1 0zm5 0zm-36 1zm2 0zm20 0zm2 0zm2 0zm-25 1zm22 0zm1 0zm1 0zm1 0zm-26 1zm1 0zm21 0zm1 0zm1 0zm1 0zm-25 1zm1 0zm20 0zm1 0zm1 0zm-23 1zm20 0zm2 0zm1 0zm1 0zm-24 1zm20 0zm1 0zm1 0zm-23 1zm1 0zm17 0zm2 0zm1 0zm1 0zm1 0zm1 0zm-24 1zm1 0zm18 0zm1 0zm1 0zm1 0zm1 0zm-24 1zm1 0zm17 0zm1 0zm1 0zm1 0zm1 0zm1 0zm1 0zm-24 1zm1 0zm17 0zm1 0zm1 0zm3 0zm-24 1zm2 0zm15 0zm1 0zm1 0zm3 0zm-21 1zm1 0zm1 0zm15 0zm1 0zm1 0zm1 0zm2 0zm-24 1zm2 0zm1 0zm1 0zm1 0zm4 0zm4 0zm1 0zm1 0zm2 0zm1 0zm2 0zm-19 1zm2 0zm1 0zm1 0zm1 0zm1 0zm1 0zm1 0zm2 0zm1 0zm2 0zm2 0zm1 0zm1 0zm1 0zm-17 1zm2 0zm1 0zm1 0zm2 0zm1 0zm2 0zm2 0zm1 0zm2 0zm-15 1zm1 0zm3 0zm1 0zm2 0zm2 0zm-2 1zm-54 34z"/>
<path stroke="#96d038" d="M155 650zm8 0zm-9 1zm1 0zm1 0zm1 0zm2 0zm1 0zm2 0zm2 0zm-10 1zm1 0zm1 0zm1 0zm1 0zm1 0zm1 0zm1 0zm2 0zm1 0zm-15 1zm4 0zm1 0zm3 0zm1 0zm1 0zm1 0zm1 0zm1 0zm2 0zm-14 1zm1 0zm2 0zm1 0zm1 0zm1 0zm1 0zm2 0zm1 0zm1 0zm1 0zm2 0zm-14 1zm1 0zm1 0zm1 0zm1 0zm2 0zm1 0zm1 0zm2 0zm1 0zm2 0zm3 0zm2 0zm1 0zm-17 1zm1 0zm1 0zm1 0zm1 0zm1 0zm3 0zm1 0zm1 0zm1 0zm1 0zm1 0zm1 0zm-16 1zm2 0zm1 0zm2 0zm5 0zm1 0zm1 0zm2 0zm2 0zm-18 1zm1 0zm1 0zm1 0zm3 0zm4 0zm1 0zm2 0zm1 0zm1 0zm1 0zm2 0zm1 0zm1 0zm-20 1zm6 0zm1 0zm5 0zm1 0zm1 0zm1 0zm2 0zm1 0zm1 0zm1 0zm-24 1zm2 0zm2 0zm11 0zm2 0zm1 0zm1 0zm2 0zm-20 1zm1 0zm13 0zm2 0zm2 0zm2 0zm1 0zm-23 1zm1 0zm1 0zm3 0zm14 0zm1 0zm2 0zm1 0zm-23 1zm1 0zm2 0zm13 0zm1 0zm1 0zm1 0zm1 0zm1 0zm1 0zm2 0zm-25 1zm2 0zm1 0zm17 0zm2 0zm1 0zm-23 1zm1 0zm14 0zm4 0zm1 0zm2 0zm-23 1zm1 0zm20 0zm3 0zm-25 1zm22 0zm2 0zm-23 1zm1 0zm18 0zm1 0zm-20 1zm18 0zm-18 1zm18 0zm-19 1zm1 0zm15 0zm1 0zm1 0zm-18 1zm14 0zm1 0zm1 0zm-16 1zm15 0zm2 0zm-3 1zm1 0zm1 0zm-17 1zm3 0zm11 0zm-14 1zm14 0zm1 0zm-15 1zm1 0zm1 0zm2 0zm3 0zm5 0zm1 0zm-12 1zm1 0zm1 0zm2 0zm1 0zm1 0zm2 0zm1 0zm1 0zm1 0zm1 0zm1 0zm-12 1zm1 0zm1 0zm2 0zm1 0zm1 0zm4 0zm3 0zm-9 1zm5 0z"/>
<path stroke="#e6e032" d="M155 653zm1 0zm-1 2zm4 0zm6 0zm-7 1zm1 0zm-10 1zm5 0zm2 0zm1 0zm1 0zm1 0zm-7 1zm1 0zm3 0zm1 0zm3 0zm-10 1zm1 0zm1 0zm1 0zm4 0zm1 0zm1 0zm5 0zm-19 1zm2 0zm4 0zm1 0zm1 0zm2 0zm1 0zm1 0zm3 0zm-13 1zm2 0zm2 0zm2 0zm1 0zm4 0zm2 0zm2 0zm-16 1zm1 0zm7 0zm1 0zm1 0zm3 0zm1 0zm1 0zm-16 1zm2 0zm10 0zm-14 1zm3 0zm1 0zm9 0zm3 0zm1 0zm1 0zm-17 1zm11 0zm3 0zm1 0zm1 0zm-17 1zm1 0zm15 0zm2 0zm-19 1zm1 0zm2 0zm10 0zm2 0zm1 0zm1 0zm-16 1zm14 0zm1 0zm1 0zm-17 1zm1 0zm11 0zm1 0zm2 0zm3 0zm-18 1zm14 0zm1 0zm1 0zm-16 1zm12 0zm1 0zm-14 1zm16 0zm1 0zm-17 1zm1 0zm11 0zm1 0zm-14 1zm1 0zm1 0zm10 0zm1 0zm-13 1zm1 0zm10 0zm1 0zm2 0zm-14 1zm1 0zm1 0zm1 0zm5 0zm2 0zm1 0zm1 0zm-10 1zm2 0zm3 0zm1 0zm1 0zm1 0zm-7 1zm4 0z"/>
<path stroke="#f5a020" d="M155 658zm-6 1zm7 0zm-6 1zm4 0zm4 0zm-10 1zm2 0zm2 0zm5 0zm-7 1zm1 0zm1 0zm1 0zm4 0zm1 0zm-10 1zm1 0zm1 0zm2 0zm6 0zm-9 1zm5 0zm3 0zm1 0zm-13 1zm1 0zm1 0zm2 0zm4 0zm3 0zm-11 1zm1 0zm8 0zm1 0zm1 0zm1 0zm1 0zm2 0zm-16 1zm6 0zm2 0zm2 0zm2 0zm4 0zm-16 1zm1 0zm4 0zm5 0zm1 0zm1 0zm-9 1zm9 0zm2 0zm-14 1zm1 0zm5 0zm2 0zm3 0zm-12 1zm1 0zm1 0zm4 0zm3 0zm1 0zm-11 1zm1 0zm1 0zm1 0zm4 0zm3 0zm1 0zm-10 1zm1 0zm8 0zm-9 1zm1 0zm7 0zm-8 1zm2 0zm4 0zm1 0zm-6 1zm1 0zm1 0zm1 0zm2 0zm-4 1z"/>
<path stroke="#ec5a18" d="M149 660zm6 1zm1 0zm-7 1zm2 1zm2 0zm1 0zm2 0zm-8 1zm2 0zm2 0zm1 0zm2 0zm-7 1zm2 0zm2 0zm2 0zm-6 1zm1 0zm2 0zm1 0zm1 0zm-4 1zm4 0zm-6 1zm1 0zm2 0zm1 0zm1 0zm1 0zm-9 1zm2 0zm2 0zm1 0zm2 0zm1 0zm1 0zm-10 1zm5 0zm3 0zm2 0zm1 0zm-8 1zm2 0zm3 0zm-3 1zm3 0zm-6 1zm2 0zm1 0zm2 0zm1 0zm-6 1zm1 0zm1 0zm1 0zm1 0zm1 0zm-6 1zm2 0zm2 0z"/>
<path stroke="#dc2810" d="M155 663zm-4 1zm0 1zm-4 1zm3 0zm-4 1zm1 0zm1 0zm3 0zm-5 1zm-1 1zm5 0zm-4 1zm1 0zm2 0zm-2 1zm3 0zm-4 1zm1 0zm3 0zm-4 1zm3 0zm-2 2z"/>
</g>
<rect x="173.9" y="561" width="71" height="38.6" fill="#fff" opacity="0.78"/>
<rect x="80.5" y="443.1" width="270.3" height="276.9" fill="none" stroke="#1c1c1c" stroke-width="1.4"/>
<line x1="80.5" y1="720" x2="80.5" y2="728" stroke="#1c1c1c" stroke-width="2.2" stroke-linecap="butt"/>
<line x1="90.7" y1="720" x2="90.7" y2="724.2" stroke="#1c1c1c" stroke-width="1.3" stroke-linecap="butt"/>
<line x1="100.9" y1="720" x2="100.9" y2="724.2" stroke="#1c1c1c" stroke-width="1.3" stroke-linecap="butt"/>
<line x1="111.1" y1="720" x2="111.1" y2="724.2" stroke="#1c1c1c" stroke-width="1.3" stroke-linecap="butt"/>
<line x1="121.3" y1="720" x2="121.3" y2="724.2" stroke="#1c1c1c" stroke-width="1.3" stroke-linecap="butt"/>
<line x1="131.5" y1="720" x2="131.5" y2="728" stroke="#1c1c1c" stroke-width="2.2" stroke-linecap="butt"/>
<line x1="141.7" y1="720" x2="141.7" y2="724.2" stroke="#1c1c1c" stroke-width="1.3" stroke-linecap="butt"/>
<line x1="151.9" y1="720" x2="151.9" y2="724.2" stroke="#1c1c1c" stroke-width="1.3" stroke-linecap="butt"/>
<line x1="162.1" y1="720" x2="162.1" y2="724.2" stroke="#1c1c1c" stroke-width="1.3" stroke-linecap="butt"/>
<line x1="172.3" y1="720" x2="172.3" y2="724.2" stroke="#1c1c1c" stroke-width="1.3" stroke-linecap="butt"/>
<line x1="182.5" y1="720" x2="182.5" y2="728" stroke="#1c1c1c" stroke-width="2.2" stroke-linecap="butt"/>
<line x1="192.7" y1="720" x2="192.7" y2="724.2" stroke="#1c1c1c" stroke-width="1.3" stroke-linecap="butt"/>
<line x1="202.9" y1="720" x2="202.9" y2="724.2" stroke="#1c1c1c" stroke-width="1.3" stroke-linecap="butt"/>
<line x1="213.1" y1="720" x2="213.1" y2="724.2" stroke="#1c1c1c" stroke-width="1.3" stroke-linecap="butt"/>
<line x1="223.3" y1="720" x2="223.3" y2="724.2" stroke="#1c1c1c" stroke-width="1.3" stroke-linecap="butt"/>
<line x1="233.5" y1="720" x2="233.5" y2="728" stroke="#1c1c1c" stroke-width="2.2" stroke-linecap="butt"/>
<line x1="243.7" y1="720" x2="243.7" y2="724.2" stroke="#1c1c1c" stroke-width="1.3" stroke-linecap="butt"/>
<line x1="253.9" y1="720" x2="253.9" y2="724.2" stroke="#1c1c1c" stroke-width="1.3" stroke-linecap="butt"/>
<line x1="264.1" y1="720" x2="264.1" y2="724.2" stroke="#1c1c1c" stroke-width="1.3" stroke-linecap="butt"/>
<line x1="274.3" y1="720" x2="274.3" y2="724.2" stroke="#1c1c1c" stroke-width="1.3" stroke-linecap="butt"/>
<line x1="284.5" y1="720" x2="284.5" y2="728" stroke="#1c1c1c" stroke-width="2.2" stroke-linecap="butt"/>
<line x1="294.7" y1="720" x2="294.7" y2="724.2" stroke="#1c1c1c" stroke-width="1.3" stroke-linecap="butt"/>
<line x1="304.9" y1="720" x2="304.9" y2="724.2" stroke="#1c1c1c" stroke-width="1.3" stroke-linecap="butt"/>
<line x1="315.1" y1="720" x2="315.1" y2="724.2" stroke="#1c1c1c" stroke-width="1.3" stroke-linecap="butt"/>
<line x1="325.3" y1="720" x2="325.3" y2="724.2" stroke="#1c1c1c" stroke-width="1.3" stroke-linecap="butt"/>
<line x1="335.5" y1="720" x2="335.5" y2="728" stroke="#1c1c1c" stroke-width="2.2" stroke-linecap="butt"/>
<line x1="345.7" y1="720" x2="345.7" y2="724.2" stroke="#1c1c1c" stroke-width="1.3" stroke-linecap="butt"/>
<line x1="72.5" y1="719.2" x2="80.5" y2="719.2" stroke="#1c1c1c" stroke-width="2.2" stroke-linecap="butt"/>
<line x1="76.9" y1="708.7" x2="80.5" y2="708.7" stroke="#1c1c1c" stroke-width="1.3" stroke-linecap="butt"/>
<line x1="76.9" y1="698.1" x2="80.5" y2="698.1" stroke="#1c1c1c" stroke-width="1.3" stroke-linecap="butt"/>
<line x1="76.9" y1="687.6" x2="80.5" y2="687.6" stroke="#1c1c1c" stroke-width="1.3" stroke-linecap="butt"/>
<line x1="76.9" y1="677.1" x2="80.5" y2="677.1" stroke="#1c1c1c" stroke-width="1.3" stroke-linecap="butt"/>
<line x1="72.5" y1="666.6" x2="80.5" y2="666.6" stroke="#1c1c1c" stroke-width="2.2" stroke-linecap="butt"/>
<line x1="76.9" y1="656" x2="80.5" y2="656" stroke="#1c1c1c" stroke-width="1.3" stroke-linecap="butt"/>
<line x1="76.9" y1="645.5" x2="80.5" y2="645.5" stroke="#1c1c1c" stroke-width="1.3" stroke-linecap="butt"/>
<line x1="76.9" y1="635" x2="80.5" y2="635" stroke="#1c1c1c" stroke-width="1.3" stroke-linecap="butt"/>
<line x1="76.9" y1="624.4" x2="80.5" y2="624.4" stroke="#1c1c1c" stroke-width="1.3" stroke-linecap="butt"/>
<line x1="72.5" y1="613.9" x2="80.5" y2="613.9" stroke="#1c1c1c" stroke-width="2.2" stroke-linecap="butt"/>
<line x1="76.9" y1="603.4" x2="80.5" y2="603.4" stroke="#1c1c1c" stroke-width="1.3" stroke-linecap="butt"/>
<line x1="76.9" y1="592.9" x2="80.5" y2="592.9" stroke="#1c1c1c" stroke-width="1.3" stroke-linecap="butt"/>
<line x1="76.9" y1="582.3" x2="80.5" y2="582.3" stroke="#1c1c1c" stroke-width="1.3" stroke-linecap="butt"/>
<line x1="76.9" y1="571.8" x2="80.5" y2="571.8" stroke="#1c1c1c" stroke-width="1.3" stroke-linecap="butt"/>
<line x1="72.5" y1="561.3" x2="80.5" y2="561.3" stroke="#1c1c1c" stroke-width="2.2" stroke-linecap="butt"/>
<line x1="76.9" y1="550.8" x2="80.5" y2="550.8" stroke="#1c1c1c" stroke-width="1.3" stroke-linecap="butt"/>
<line x1="76.9" y1="540.2" x2="80.5" y2="540.2" stroke="#1c1c1c" stroke-width="1.3" stroke-linecap="butt"/>
<line x1="76.9" y1="529.7" x2="80.5" y2="529.7" stroke="#1c1c1c" stroke-width="1.3" stroke-linecap="butt"/>
<line x1="76.9" y1="519.2" x2="80.5" y2="519.2" stroke="#1c1c1c" stroke-width="1.3" stroke-linecap="butt"/>
<line x1="72.5" y1="508.6" x2="80.5" y2="508.6" stroke="#1c1c1c" stroke-width="2.2" stroke-linecap="butt"/>
<line x1="76.9" y1="498.1" x2="80.5" y2="498.1" stroke="#1c1c1c" stroke-width="1.3" stroke-linecap="butt"/>
<line x1="76.9" y1="487.6" x2="80.5" y2="487.6" stroke="#1c1c1c" stroke-width="1.3" stroke-linecap="butt"/>
<line x1="76.9" y1="477.1" x2="80.5" y2="477.1" stroke="#1c1c1c" stroke-width="1.3" stroke-linecap="butt"/>
<line x1="76.9" y1="466.5" x2="80.5" y2="466.5" stroke="#1c1c1c" stroke-width="1.3" stroke-linecap="butt"/>
<line x1="72.5" y1="456" x2="80.5" y2="456" stroke="#1c1c1c" stroke-width="2.2" stroke-linecap="butt"/>
<line x1="76.9" y1="445.5" x2="80.5" y2="445.5" stroke="#1c1c1c" stroke-width="1.3" stroke-linecap="butt"/>
<path d="M80.5 458.6H340.4M80.5 702.3H340.4" stroke="#1c1c1c" stroke-width="1.3" fill="none"/>
<line x1="340" y1="458" x2="340" y2="702.9" stroke="#1c1c1c" stroke-width="2.0" stroke-linecap="butt"/>
<text transform="translate(82 752.5) scale(1.12 1)" font-size="10.2" text-anchor="middle" fill="#1c1c1c" stroke="#1c1c1c" stroke-width="0.28">0</text>
<text transform="translate(127.2 752.5) scale(1.12 1)" font-size="10.2" text-anchor="middle" fill="#1c1c1c" stroke="#1c1c1c" stroke-width="0.28">50K</text>
<text transform="translate(178.8 752.5) scale(1.12 1)" font-size="10.2" text-anchor="middle" fill="#1c1c1c" stroke="#1c1c1c" stroke-width="0.28">100K</text>
<text transform="translate(230.1 752.5) scale(1.12 1)" font-size="10.2" text-anchor="middle" fill="#1c1c1c" stroke="#1c1c1c" stroke-width="0.28">150K</text>
<text transform="translate(281.6 752.5) scale(1.12 1)" font-size="10.2" text-anchor="middle" fill="#1c1c1c" stroke="#1c1c1c" stroke-width="0.28">200K</text>
<text transform="translate(332 752.5) scale(1.12 1)" font-size="10.2" text-anchor="middle" fill="#1c1c1c" stroke="#1c1c1c" stroke-width="0.28">250K</text>
<text transform="translate(67.8 719.5) scale(1.12 1)" font-size="10.2" text-anchor="end" fill="#1c1c1c" stroke="#1c1c1c" stroke-width="0.28">0</text>
<text transform="translate(67.8 674.2) scale(1.12 1)" font-size="10.2" text-anchor="end" fill="#1c1c1c" stroke="#1c1c1c" stroke-width="0.28">50K</text>
<text transform="translate(67.8 621.5) scale(1.12 1)" font-size="10.2" text-anchor="end" fill="#1c1c1c" stroke="#1c1c1c" stroke-width="0.28">100K</text>
<text transform="translate(67.8 568.9) scale(1.12 1)" font-size="10.2" text-anchor="end" fill="#1c1c1c" stroke="#1c1c1c" stroke-width="0.28">150K</text>
<text transform="translate(67.8 516.2) scale(1.12 1)" font-size="10.2" text-anchor="end" fill="#1c1c1c" stroke="#1c1c1c" stroke-width="0.28">200K</text>
<text transform="translate(67.8 463.6) scale(1.12 1)" font-size="10.2" text-anchor="end" fill="#1c1c1c" stroke="#1c1c1c" stroke-width="0.28">250K</text>
<text transform="translate(215.2 777.3)" font-size="13" text-anchor="middle" fill="#1c1c1c" stroke="#1c1c1c" stroke-width="0.28">FSC</text>
<text transform="translate(34.2 581.5) rotate(-90)" font-size="13" text-anchor="middle" fill="#1c1c1c" stroke="#1c1c1c" stroke-width="0.28">SSC</text>
<text transform="translate(208.9 575)" font-size="13" text-anchor="middle" fill="#1c1c1c" textLength="57.7" lengthAdjust="spacingAndGlyphs" stroke="#1c1c1c" stroke-width="0.28">Total cells</text>
<text transform="translate(208.9 594.6)" font-size="13" text-anchor="middle" fill="#1c1c1c" stroke="#1c1c1c" stroke-width="0.28">95.9</text>
<path d="M422 330.3C422.5 330.2 424.1 330.1 425 329.6C425.9 329.1 426.9 328.9 427.7 327C428.5 325.1 429.3 321.2 430 318C430.7 314.8 431.3 314 432.1 306.8C432.9 299.6 434.2 289.2 435.2 273C436.2 256.8 437 226.9 438.2 205.3C439.4 183.7 441.4 154.5 442.6 137.7C443.8 120.9 444.9 108 445.6 100C446.3 92 446.6 90.6 446.9 88C447.2 85.4 447.4 83.6 447.7 83.6C448 83.6 448.2 85.4 448.5 88C448.8 90.6 449.2 92 449.7 100C450.2 108 450.8 120.9 451.8 137.7C452.8 154.5 454.6 183.7 455.8 205.3C457 226.9 458.1 256.8 459.2 273C460.3 289.2 461.7 299.6 462.6 306.8C463.5 314 464.2 315.3 465 318C465.8 320.7 466.5 322.2 467.7 323.8C468.9 325.4 471.2 327.4 472.7 328.3C474.2 329.2 474.3 329 477 329.2C479.7 329.4 487.3 329.1 489.5 329.3C491.7 329.5 490.8 330.3 491 330.5L491 330.7L422 330.7Z" fill="#8f9194" stroke="none"/>
<path d="M422 330.3C422.5 330.2 424.1 330.1 425 329.6C425.9 329.1 426.9 328.9 427.7 327C428.5 325.1 429.3 321.2 430 318C430.7 314.8 431.3 314 432.1 306.8C432.9 299.6 434.2 289.2 435.2 273C436.2 256.8 437 226.9 438.2 205.3C439.4 183.7 441.4 154.5 442.6 137.7C443.8 120.9 444.9 108 445.6 100C446.3 92 446.6 90.6 446.9 88C447.2 85.4 447.4 83.6 447.7 83.6C448 83.6 448.2 85.4 448.5 88C448.8 90.6 449.2 92 449.7 100C450.2 108 450.8 120.9 451.8 137.7C452.8 154.5 454.6 183.7 455.8 205.3C457 226.9 458.1 256.8 459.2 273C460.3 289.2 461.7 299.6 462.6 306.8C463.5 314 464.2 315.3 465 318C465.8 320.7 466.5 322.2 467.7 323.8C468.9 325.4 471.2 327.4 472.7 328.3C474.2 329.2 474.3 329 477 329.2C479.7 329.4 487.3 329.1 489.5 329.3C491.7 329.5 490.8 330.3 491 330.5" fill="none" stroke="#111" stroke-width="1.9" stroke-linejoin="round"/>
<rect x="408" y="56" width="268.4" height="274.7" fill="none" stroke="#1c1c1c" stroke-width="1.4"/>
<line x1="408" y1="330.7" x2="676.4" y2="330.7" stroke="#1c1c1c" stroke-width="1.8" stroke-linecap="butt"/>
<line x1="400" y1="330.7" x2="408" y2="330.7" stroke="#1c1c1c" stroke-width="2.2" stroke-linecap="butt"/>
<line x1="404.4" y1="318.7" x2="408" y2="318.7" stroke="#1c1c1c" stroke-width="1.3" stroke-linecap="butt"/>
<line x1="404.4" y1="306.7" x2="408" y2="306.7" stroke="#1c1c1c" stroke-width="1.3" stroke-linecap="butt"/>
<line x1="404.4" y1="294.7" x2="408" y2="294.7" stroke="#1c1c1c" stroke-width="1.3" stroke-linecap="butt"/>
<line x1="404.4" y1="282.7" x2="408" y2="282.7" stroke="#1c1c1c" stroke-width="1.3" stroke-linecap="butt"/>
<line x1="400" y1="270.7" x2="408" y2="270.7" stroke="#1c1c1c" stroke-width="2.2" stroke-linecap="butt"/>
<line x1="404.4" y1="258.7" x2="408" y2="258.7" stroke="#1c1c1c" stroke-width="1.3" stroke-linecap="butt"/>
<line x1="404.4" y1="246.7" x2="408" y2="246.7" stroke="#1c1c1c" stroke-width="1.3" stroke-linecap="butt"/>
<line x1="404.4" y1="234.7" x2="408" y2="234.7" stroke="#1c1c1c" stroke-width="1.3" stroke-linecap="butt"/>
<line x1="404.4" y1="222.7" x2="408" y2="222.7" stroke="#1c1c1c" stroke-width="1.3" stroke-linecap="butt"/>
<line x1="400" y1="210.7" x2="408" y2="210.7" stroke="#1c1c1c" stroke-width="2.2" stroke-linecap="butt"/>
<line x1="404.4" y1="198.7" x2="408" y2="198.7" stroke="#1c1c1c" stroke-width="1.3" stroke-linecap="butt"/>
<line x1="404.4" y1="186.7" x2="408" y2="186.7" stroke="#1c1c1c" stroke-width="1.3" stroke-linecap="butt"/>
<line x1="404.4" y1="174.7" x2="408" y2="174.7" stroke="#1c1c1c" stroke-width="1.3" stroke-linecap="butt"/>
<line x1="404.4" y1="162.7" x2="408" y2="162.7" stroke="#1c1c1c" stroke-width="1.3" stroke-linecap="butt"/>
<line x1="400" y1="150.7" x2="408" y2="150.7" stroke="#1c1c1c" stroke-width="2.2" stroke-linecap="butt"/>
<line x1="404.4" y1="138.7" x2="408" y2="138.7" stroke="#1c1c1c" stroke-width="1.3" stroke-linecap="butt"/>
<line x1="404.4" y1="126.7" x2="408" y2="126.7" stroke="#1c1c1c" stroke-width="1.3" stroke-linecap="butt"/>
<line x1="404.4" y1="114.7" x2="408" y2="114.7" stroke="#1c1c1c" stroke-width="1.3" stroke-linecap="butt"/>
<line x1="404.4" y1="102.7" x2="408" y2="102.7" stroke="#1c1c1c" stroke-width="1.3" stroke-linecap="butt"/>
<line x1="400" y1="90.7" x2="408" y2="90.7" stroke="#1c1c1c" stroke-width="2.2" stroke-linecap="butt"/>
<line x1="404.4" y1="78.7" x2="408" y2="78.7" stroke="#1c1c1c" stroke-width="1.3" stroke-linecap="butt"/>
<line x1="404.4" y1="66.7" x2="408" y2="66.7" stroke="#1c1c1c" stroke-width="1.3" stroke-linecap="butt"/>
<line x1="436.5" y1="330.7" x2="436.5" y2="334.3" stroke="#1c1c1c" stroke-width="1.3" stroke-linecap="butt"/>
<line x1="433.4" y1="330.7" x2="433.4" y2="334.3" stroke="#1c1c1c" stroke-width="1.3" stroke-linecap="butt"/>
<line x1="430.2" y1="330.7" x2="430.2" y2="334.3" stroke="#1c1c1c" stroke-width="1.3" stroke-linecap="butt"/>
<line x1="427" y1="330.7" x2="427" y2="334.3" stroke="#1c1c1c" stroke-width="1.3" stroke-linecap="butt"/>
<line x1="423.9" y1="330.7" x2="423.9" y2="335.9" stroke="#1c1c1c" stroke-width="1.5" stroke-linecap="butt"/>
<line x1="420.7" y1="330.7" x2="420.7" y2="334.3" stroke="#1c1c1c" stroke-width="1.3" stroke-linecap="butt"/>
<line x1="417.5" y1="330.7" x2="417.5" y2="334.3" stroke="#1c1c1c" stroke-width="1.3" stroke-linecap="butt"/>
<line x1="414.3" y1="330.7" x2="414.3" y2="334.3" stroke="#1c1c1c" stroke-width="1.3" stroke-linecap="butt"/>
<line x1="411.2" y1="330.7" x2="411.2" y2="334.3" stroke="#1c1c1c" stroke-width="1.3" stroke-linecap="butt"/>
<line x1="408" y1="330.7" x2="408" y2="338.7" stroke="#1c1c1c" stroke-width="2.2" stroke-linecap="butt"/>
<line x1="442.9" y1="330.7" x2="442.9" y2="334.3" stroke="#1c1c1c" stroke-width="1.3" stroke-linecap="butt"/>
<line x1="446" y1="330.7" x2="446" y2="334.3" stroke="#1c1c1c" stroke-width="1.3" stroke-linecap="butt"/>
<line x1="449.2" y1="330.7" x2="449.2" y2="334.3" stroke="#1c1c1c" stroke-width="1.3" stroke-linecap="butt"/>
<line x1="452.4" y1="330.7" x2="452.4" y2="334.3" stroke="#1c1c1c" stroke-width="1.3" stroke-linecap="butt"/>
<line x1="455.5" y1="330.7" x2="455.5" y2="335.9" stroke="#1c1c1c" stroke-width="1.5" stroke-linecap="butt"/>
<line x1="458.7" y1="330.7" x2="458.7" y2="334.3" stroke="#1c1c1c" stroke-width="1.3" stroke-linecap="butt"/>
<line x1="461.9" y1="330.7" x2="461.9" y2="334.3" stroke="#1c1c1c" stroke-width="1.3" stroke-linecap="butt"/>
<line x1="465.1" y1="330.7" x2="465.1" y2="334.3" stroke="#1c1c1c" stroke-width="1.3" stroke-linecap="butt"/>
<line x1="468.2" y1="330.7" x2="468.2" y2="334.3" stroke="#1c1c1c" stroke-width="1.3" stroke-linecap="butt"/>
<line x1="471.4" y1="330.7" x2="471.4" y2="338.7" stroke="#1c1c1c" stroke-width="2.2" stroke-linecap="butt"/>
<rect x="435.8" y="330.7" width="7.8" height="5.2" fill="#1c1c1c"/>
<line x1="436.7" y1="330.7" x2="436.7" y2="338.7" stroke="#1c1c1c" stroke-width="1.5" stroke-linecap="butt"/>
<line x1="438.7" y1="330.7" x2="438.7" y2="338.7" stroke="#1c1c1c" stroke-width="1.5" stroke-linecap="butt"/>
<line x1="440.7" y1="330.7" x2="440.7" y2="338.7" stroke="#1c1c1c" stroke-width="1.5" stroke-linecap="butt"/>
<line x1="442.7" y1="330.7" x2="442.7" y2="338.7" stroke="#1c1c1c" stroke-width="1.5" stroke-linecap="butt"/>
<line x1="492.8" y1="330.7" x2="492.8" y2="334.3" stroke="#1c1c1c" stroke-width="1.3" stroke-linecap="butt"/>
<line x1="505.4" y1="330.7" x2="505.4" y2="334.3" stroke="#1c1c1c" stroke-width="1.3" stroke-linecap="butt"/>
<line x1="514.3" y1="330.7" x2="514.3" y2="334.3" stroke="#1c1c1c" stroke-width="1.3" stroke-linecap="butt"/>
<line x1="521.2" y1="330.7" x2="521.2" y2="335.9" stroke="#1c1c1c" stroke-width="1.5" stroke-linecap="butt"/>
<line x1="526.8" y1="330.7" x2="526.8" y2="334.3" stroke="#1c1c1c" stroke-width="1.3" stroke-linecap="butt"/>
<line x1="531.6" y1="330.7" x2="531.6" y2="334.3" stroke="#1c1c1c" stroke-width="1.3" stroke-linecap="butt"/>
<line x1="535.7" y1="330.7" x2="535.7" y2="334.3" stroke="#1c1c1c" stroke-width="1.3" stroke-linecap="butt"/>
<line x1="539.3" y1="330.7" x2="539.3" y2="334.3" stroke="#1c1c1c" stroke-width="1.3" stroke-linecap="butt"/>
<line x1="542.6" y1="330.7" x2="542.6" y2="338.7" stroke="#1c1c1c" stroke-width="2.2" stroke-linecap="butt"/>
<line x1="562.8" y1="330.7" x2="562.8" y2="334.3" stroke="#1c1c1c" stroke-width="1.3" stroke-linecap="butt"/>
<line x1="574.6" y1="330.7" x2="574.6" y2="334.3" stroke="#1c1c1c" stroke-width="1.3" stroke-linecap="butt"/>
<line x1="583" y1="330.7" x2="583" y2="334.3" stroke="#1c1c1c" stroke-width="1.3" stroke-linecap="butt"/>
<line x1="589.5" y1="330.7" x2="589.5" y2="335.9" stroke="#1c1c1c" stroke-width="1.5" stroke-linecap="butt"/>
<line x1="594.8" y1="330.7" x2="594.8" y2="334.3" stroke="#1c1c1c" stroke-width="1.3" stroke-linecap="butt"/>
<line x1="599.3" y1="330.7" x2="599.3" y2="334.3" stroke="#1c1c1c" stroke-width="1.3" stroke-linecap="butt"/>
<line x1="603.2" y1="330.7" x2="603.2" y2="334.3" stroke="#1c1c1c" stroke-width="1.3" stroke-linecap="butt"/>
<line x1="606.6" y1="330.7" x2="606.6" y2="334.3" stroke="#1c1c1c" stroke-width="1.3" stroke-linecap="butt"/>
<line x1="609.7" y1="330.7" x2="609.7" y2="338.7" stroke="#1c1c1c" stroke-width="2.2" stroke-linecap="butt"/>
<line x1="629.8" y1="330.7" x2="629.8" y2="334.3" stroke="#1c1c1c" stroke-width="1.3" stroke-linecap="butt"/>
<line x1="641.5" y1="330.7" x2="641.5" y2="334.3" stroke="#1c1c1c" stroke-width="1.3" stroke-linecap="butt"/>
<line x1="649.9" y1="330.7" x2="649.9" y2="334.3" stroke="#1c1c1c" stroke-width="1.3" stroke-linecap="butt"/>
<line x1="656.3" y1="330.7" x2="656.3" y2="335.9" stroke="#1c1c1c" stroke-width="1.5" stroke-linecap="butt"/>
<line x1="661.6" y1="330.7" x2="661.6" y2="334.3" stroke="#1c1c1c" stroke-width="1.3" stroke-linecap="butt"/>
<line x1="666.1" y1="330.7" x2="666.1" y2="334.3" stroke="#1c1c1c" stroke-width="1.3" stroke-linecap="butt"/>
<line x1="669.9" y1="330.7" x2="669.9" y2="334.3" stroke="#1c1c1c" stroke-width="1.3" stroke-linecap="butt"/>
<line x1="673.3" y1="330.7" x2="673.3" y2="334.3" stroke="#1c1c1c" stroke-width="1.3" stroke-linecap="butt"/>
<line x1="676.4" y1="330.7" x2="676.4" y2="338.7" stroke="#1c1c1c" stroke-width="2.2" stroke-linecap="butt"/>
<text transform="translate(394.5 330.7) scale(1.12 1)" font-size="10.2" text-anchor="end" fill="#1c1c1c" stroke="#1c1c1c" stroke-width="0.28">0</text>
<text transform="translate(394.5 278.5) scale(1.12 1)" font-size="10.2" text-anchor="end" fill="#1c1c1c" stroke="#1c1c1c" stroke-width="0.28">50</text>
<text transform="translate(394.5 218.5) scale(1.12 1)" font-size="10.2" text-anchor="end" fill="#1c1c1c" stroke="#1c1c1c" stroke-width="0.28">100</text>
<text transform="translate(394.5 158.5) scale(1.12 1)" font-size="10.2" text-anchor="end" fill="#1c1c1c" stroke="#1c1c1c" stroke-width="0.28">150</text>
<text transform="translate(394.5 98.5) scale(1.12 1)" font-size="10.2" text-anchor="end" fill="#1c1c1c" stroke="#1c1c1c" stroke-width="0.28">200</text>
<text transform="translate(440.4 363.6) scale(1.12 1)" font-size="10.2" text-anchor="middle" fill="#1c1c1c" stroke="#1c1c1c" stroke-width="0.28">0</text>
<text transform="translate(537.9 363.6) scale(1.12 1)" font-size="10.2" text-anchor="start" fill="#1c1c1c" stroke="#1c1c1c" stroke-width="0.28" letter-spacing="-0.8">10</text>
<text transform="translate(549.5 355.6) scale(1.12 1)" font-size="10.2" text-anchor="start" fill="#1c1c1c" stroke="#1c1c1c" stroke-width="0.28">3</text>
<text transform="translate(605.1 363.6) scale(1.12 1)" font-size="10.2" text-anchor="start" fill="#1c1c1c" stroke="#1c1c1c" stroke-width="0.28" letter-spacing="-0.8">10</text>
<text transform="translate(616.7 355.6) scale(1.12 1)" font-size="10.2" text-anchor="start" fill="#1c1c1c" stroke="#1c1c1c" stroke-width="0.28">4</text>
<text transform="translate(657.7 363.6) scale(1.12 1)" font-size="10.2" text-anchor="start" fill="#1c1c1c" stroke="#1c1c1c" stroke-width="0.28" letter-spacing="-0.8">10</text>
<text transform="translate(669.3 355.6) scale(1.12 1)" font-size="10.2" text-anchor="start" fill="#1c1c1c" stroke="#1c1c1c" stroke-width="0.28">5</text>
<text transform="translate(370 193.3) rotate(-90)" font-size="13" text-anchor="middle" fill="#1c1c1c" stroke="#1c1c1c" stroke-width="0.28">Count</text>
<text transform="translate(542.2 386.7)" font-size="13" text-anchor="middle" fill="#1c1c1c" stroke="#1c1c1c" stroke-width="0.28">Comp-BluFL3</text>
<line x1="408" y1="115" x2="471.8" y2="115" stroke="#111" stroke-width="2.0" stroke-linecap="butt"/>
<line x1="471.8" y1="109.4" x2="471.8" y2="120.6" stroke="#111" stroke-width="2.0" stroke-linecap="butt"/>
<text transform="translate(522.9 199.8)" font-size="13" text-anchor="middle" fill="#1c1c1c" textLength="107.8" lengthAdjust="spacingAndGlyphs" stroke="#1c1c1c" stroke-width="0.28">7-AAD- Viable cells</text>
<text transform="translate(522.9 219.6)" font-size="13" text-anchor="middle" fill="#1c1c1c" stroke="#1c1c1c" stroke-width="0.28">97.8</text>
<path d="M421 717.8C421.5 717.7 423 718.2 424.4 717C425.8 715.8 428.4 713.5 429.8 710.3C431.2 707.1 432.1 704.4 433.2 696.8C434.3 689.2 435.6 679.2 436.9 663C438.2 646.8 440 616.9 441.3 595.3C442.6 573.7 444.3 543.9 445.3 527.7C446.3 511.5 446.9 501.1 447.4 493.8C447.9 486.5 448.2 484.7 448.6 482C449 479.3 449.6 477 450.1 477C450.6 477 451.3 479.3 451.8 482C452.3 484.7 452.6 486.5 453.1 493.8C453.6 501.1 454 511.5 454.8 527.7C455.6 543.9 457.1 573.7 458.2 595.3C459.3 616.9 460.8 646.8 461.9 663C463 679.2 463.9 689.2 465 696.8C466.1 704.4 467.1 707.3 468.7 710.3C470.3 713.3 473.3 714.6 475.1 715.6C476.9 716.6 478 716.2 480 716.3C482 716.4 485.9 716.2 487.3 716.4C488.7 716.6 488.7 717.6 489 717.8L489 718.2L421 718.2Z" fill="#8f9194" stroke="none"/>
<path d="M421 717.8C421.5 717.7 423 718.2 424.4 717C425.8 715.8 428.4 713.5 429.8 710.3C431.2 707.1 432.1 704.4 433.2 696.8C434.3 689.2 435.6 679.2 436.9 663C438.2 646.8 440 616.9 441.3 595.3C442.6 573.7 444.3 543.9 445.3 527.7C446.3 511.5 446.9 501.1 447.4 493.8C447.9 486.5 448.2 484.7 448.6 482C449 479.3 449.6 477 450.1 477C450.6 477 451.3 479.3 451.8 482C452.3 484.7 452.6 486.5 453.1 493.8C453.6 501.1 454 511.5 454.8 527.7C455.6 543.9 457.1 573.7 458.2 595.3C459.3 616.9 460.8 646.8 461.9 663C463 679.2 463.9 689.2 465 696.8C466.1 704.4 467.1 707.3 468.7 710.3C470.3 713.3 473.3 714.6 475.1 715.6C476.9 716.6 478 716.2 480 716.3C482 716.4 485.9 716.2 487.3 716.4C488.7 716.6 488.7 717.6 489 717.8" fill="none" stroke="#111" stroke-width="1.9" stroke-linejoin="round"/>
<rect x="409.5" y="443.4" width="268.7" height="274.8" fill="none" stroke="#1c1c1c" stroke-width="1.4"/>
<line x1="409.5" y1="718.2" x2="678.2" y2="718.2" stroke="#1c1c1c" stroke-width="1.8" stroke-linecap="butt"/>
<line x1="401.5" y1="718.2" x2="409.5" y2="718.2" stroke="#1c1c1c" stroke-width="2.2" stroke-linecap="butt"/>
<line x1="405.9" y1="697.9" x2="409.5" y2="697.9" stroke="#1c1c1c" stroke-width="1.3" stroke-linecap="butt"/>
<line x1="405.9" y1="677.6" x2="409.5" y2="677.6" stroke="#1c1c1c" stroke-width="1.3" stroke-linecap="butt"/>
<line x1="405.9" y1="657.2" x2="409.5" y2="657.2" stroke="#1c1c1c" stroke-width="1.3" stroke-linecap="butt"/>
<line x1="401.5" y1="636.9" x2="409.5" y2="636.9" stroke="#1c1c1c" stroke-width="2.2" stroke-linecap="butt"/>
<line x1="405.9" y1="616.6" x2="409.5" y2="616.6" stroke="#1c1c1c" stroke-width="1.3" stroke-linecap="butt"/>
<line x1="405.9" y1="596.3" x2="409.5" y2="596.3" stroke="#1c1c1c" stroke-width="1.3" stroke-linecap="butt"/>
<line x1="405.9" y1="576" x2="409.5" y2="576" stroke="#1c1c1c" stroke-width="1.3" stroke-linecap="butt"/>
<line x1="401.5" y1="555.7" x2="409.5" y2="555.7" stroke="#1c1c1c" stroke-width="2.2" stroke-linecap="butt"/>
<line x1="405.9" y1="535.3" x2="409.5" y2="535.3" stroke="#1c1c1c" stroke-width="1.3" stroke-linecap="butt"/>
<line x1="405.9" y1="515" x2="409.5" y2="515" stroke="#1c1c1c" stroke-width="1.3" stroke-linecap="butt"/>
<line x1="405.9" y1="494.7" x2="409.5" y2="494.7" stroke="#1c1c1c" stroke-width="1.3" stroke-linecap="butt"/>
<line x1="401.5" y1="474.4" x2="409.5" y2="474.4" stroke="#1c1c1c" stroke-width="2.2" stroke-linecap="butt"/>
<line x1="405.9" y1="454.1" x2="409.5" y2="454.1" stroke="#1c1c1c" stroke-width="1.3" stroke-linecap="butt"/>
<line x1="438.4" y1="718.2" x2="438.4" y2="721.8" stroke="#1c1c1c" stroke-width="1.3" stroke-linecap="butt"/>
<line x1="435.2" y1="718.2" x2="435.2" y2="721.8" stroke="#1c1c1c" stroke-width="1.3" stroke-linecap="butt"/>
<line x1="432" y1="718.2" x2="432" y2="721.8" stroke="#1c1c1c" stroke-width="1.3" stroke-linecap="butt"/>
<line x1="428.8" y1="718.2" x2="428.8" y2="721.8" stroke="#1c1c1c" stroke-width="1.3" stroke-linecap="butt"/>
<line x1="425.6" y1="718.2" x2="425.6" y2="723.4" stroke="#1c1c1c" stroke-width="1.5" stroke-linecap="butt"/>
<line x1="422.3" y1="718.2" x2="422.3" y2="721.8" stroke="#1c1c1c" stroke-width="1.3" stroke-linecap="butt"/>
<line x1="419.1" y1="718.2" x2="419.1" y2="721.8" stroke="#1c1c1c" stroke-width="1.3" stroke-linecap="butt"/>
<line x1="415.9" y1="718.2" x2="415.9" y2="721.8" stroke="#1c1c1c" stroke-width="1.3" stroke-linecap="butt"/>
<line x1="412.7" y1="718.2" x2="412.7" y2="721.8" stroke="#1c1c1c" stroke-width="1.3" stroke-linecap="butt"/>
<line x1="409.5" y1="718.2" x2="409.5" y2="726.2" stroke="#1c1c1c" stroke-width="2.2" stroke-linecap="butt"/>
<line x1="444.7" y1="718.2" x2="444.7" y2="721.8" stroke="#1c1c1c" stroke-width="1.3" stroke-linecap="butt"/>
<line x1="447.8" y1="718.2" x2="447.8" y2="721.8" stroke="#1c1c1c" stroke-width="1.3" stroke-linecap="butt"/>
<line x1="451" y1="718.2" x2="451" y2="721.8" stroke="#1c1c1c" stroke-width="1.3" stroke-linecap="butt"/>
<line x1="454.1" y1="718.2" x2="454.1" y2="721.8" stroke="#1c1c1c" stroke-width="1.3" stroke-linecap="butt"/>
<line x1="457.2" y1="718.2" x2="457.2" y2="723.4" stroke="#1c1c1c" stroke-width="1.5" stroke-linecap="butt"/>
<line x1="460.3" y1="718.2" x2="460.3" y2="721.8" stroke="#1c1c1c" stroke-width="1.3" stroke-linecap="butt"/>
<line x1="463.4" y1="718.2" x2="463.4" y2="721.8" stroke="#1c1c1c" stroke-width="1.3" stroke-linecap="butt"/>
<line x1="466.6" y1="718.2" x2="466.6" y2="721.8" stroke="#1c1c1c" stroke-width="1.3" stroke-linecap="butt"/>
<line x1="469.7" y1="718.2" x2="469.7" y2="721.8" stroke="#1c1c1c" stroke-width="1.3" stroke-linecap="butt"/>
<line x1="472.8" y1="718.2" x2="472.8" y2="726.2" stroke="#1c1c1c" stroke-width="2.2" stroke-linecap="butt"/>
<rect x="437.7" y="718.2" width="7.8" height="5.2" fill="#1c1c1c"/>
<line x1="438.6" y1="718.2" x2="438.6" y2="726.2" stroke="#1c1c1c" stroke-width="1.5" stroke-linecap="butt"/>
<line x1="440.6" y1="718.2" x2="440.6" y2="726.2" stroke="#1c1c1c" stroke-width="1.5" stroke-linecap="butt"/>
<line x1="442.6" y1="718.2" x2="442.6" y2="726.2" stroke="#1c1c1c" stroke-width="1.5" stroke-linecap="butt"/>
<line x1="444.6" y1="718.2" x2="444.6" y2="726.2" stroke="#1c1c1c" stroke-width="1.5" stroke-linecap="butt"/>
<line x1="494.3" y1="718.2" x2="494.3" y2="721.8" stroke="#1c1c1c" stroke-width="1.3" stroke-linecap="butt"/>
<line x1="506.9" y1="718.2" x2="506.9" y2="721.8" stroke="#1c1c1c" stroke-width="1.3" stroke-linecap="butt"/>
<line x1="515.8" y1="718.2" x2="515.8" y2="721.8" stroke="#1c1c1c" stroke-width="1.3" stroke-linecap="butt"/>
<line x1="522.7" y1="718.2" x2="522.7" y2="723.4" stroke="#1c1c1c" stroke-width="1.5" stroke-linecap="butt"/>
<line x1="528.4" y1="718.2" x2="528.4" y2="721.8" stroke="#1c1c1c" stroke-width="1.3" stroke-linecap="butt"/>
<line x1="533.1" y1="718.2" x2="533.1" y2="721.8" stroke="#1c1c1c" stroke-width="1.3" stroke-linecap="butt"/>
<line x1="537.3" y1="718.2" x2="537.3" y2="721.8" stroke="#1c1c1c" stroke-width="1.3" stroke-linecap="butt"/>
<line x1="540.9" y1="718.2" x2="540.9" y2="721.8" stroke="#1c1c1c" stroke-width="1.3" stroke-linecap="butt"/>
<line x1="544.2" y1="718.2" x2="544.2" y2="726.2" stroke="#1c1c1c" stroke-width="2.2" stroke-linecap="butt"/>
<line x1="564.4" y1="718.2" x2="564.4" y2="721.8" stroke="#1c1c1c" stroke-width="1.3" stroke-linecap="butt"/>
<line x1="576.2" y1="718.2" x2="576.2" y2="721.8" stroke="#1c1c1c" stroke-width="1.3" stroke-linecap="butt"/>
<line x1="584.6" y1="718.2" x2="584.6" y2="721.8" stroke="#1c1c1c" stroke-width="1.3" stroke-linecap="butt"/>
<line x1="591.1" y1="718.2" x2="591.1" y2="723.4" stroke="#1c1c1c" stroke-width="1.5" stroke-linecap="butt"/>
<line x1="596.4" y1="718.2" x2="596.4" y2="721.8" stroke="#1c1c1c" stroke-width="1.3" stroke-linecap="butt"/>
<line x1="600.9" y1="718.2" x2="600.9" y2="721.8" stroke="#1c1c1c" stroke-width="1.3" stroke-linecap="butt"/>
<line x1="604.8" y1="718.2" x2="604.8" y2="721.8" stroke="#1c1c1c" stroke-width="1.3" stroke-linecap="butt"/>
<line x1="608.2" y1="718.2" x2="608.2" y2="721.8" stroke="#1c1c1c" stroke-width="1.3" stroke-linecap="butt"/>
<line x1="611.3" y1="718.2" x2="611.3" y2="726.2" stroke="#1c1c1c" stroke-width="2.2" stroke-linecap="butt"/>
<line x1="631.4" y1="718.2" x2="631.4" y2="721.8" stroke="#1c1c1c" stroke-width="1.3" stroke-linecap="butt"/>
<line x1="643.2" y1="718.2" x2="643.2" y2="721.8" stroke="#1c1c1c" stroke-width="1.3" stroke-linecap="butt"/>
<line x1="651.6" y1="718.2" x2="651.6" y2="721.8" stroke="#1c1c1c" stroke-width="1.3" stroke-linecap="butt"/>
<line x1="658.1" y1="718.2" x2="658.1" y2="723.4" stroke="#1c1c1c" stroke-width="1.5" stroke-linecap="butt"/>
<line x1="663.4" y1="718.2" x2="663.4" y2="721.8" stroke="#1c1c1c" stroke-width="1.3" stroke-linecap="butt"/>
<line x1="667.8" y1="718.2" x2="667.8" y2="721.8" stroke="#1c1c1c" stroke-width="1.3" stroke-linecap="butt"/>
<line x1="671.7" y1="718.2" x2="671.7" y2="721.8" stroke="#1c1c1c" stroke-width="1.3" stroke-linecap="butt"/>
<line x1="675.1" y1="718.2" x2="675.1" y2="721.8" stroke="#1c1c1c" stroke-width="1.3" stroke-linecap="butt"/>
<line x1="678.2" y1="718.2" x2="678.2" y2="726.2" stroke="#1c1c1c" stroke-width="2.2" stroke-linecap="butt"/>
<text transform="translate(396 718.2) scale(1.12 1)" font-size="10.2" text-anchor="end" fill="#1c1c1c" stroke="#1c1c1c" stroke-width="0.28">0</text>
<text transform="translate(396 644.7) scale(1.12 1)" font-size="10.2" text-anchor="end" fill="#1c1c1c" stroke="#1c1c1c" stroke-width="0.28">100</text>
<text transform="translate(396 563.5) scale(1.12 1)" font-size="10.2" text-anchor="end" fill="#1c1c1c" stroke="#1c1c1c" stroke-width="0.28">200</text>
<text transform="translate(396 482.2) scale(1.12 1)" font-size="10.2" text-anchor="end" fill="#1c1c1c" stroke="#1c1c1c" stroke-width="0.28">300</text>
<text transform="translate(442.3 751.2) scale(1.12 1)" font-size="10.2" text-anchor="middle" fill="#1c1c1c" stroke="#1c1c1c" stroke-width="0.28">0</text>
<text transform="translate(539.5 751.2) scale(1.12 1)" font-size="10.2" text-anchor="start" fill="#1c1c1c" stroke="#1c1c1c" stroke-width="0.28" letter-spacing="-0.8">10</text>
<text transform="translate(551.1 743.2) scale(1.12 1)" font-size="10.2" text-anchor="start" fill="#1c1c1c" stroke="#1c1c1c" stroke-width="0.28">3</text>
<text transform="translate(606.7 751.2) scale(1.12 1)" font-size="10.2" text-anchor="start" fill="#1c1c1c" stroke="#1c1c1c" stroke-width="0.28" letter-spacing="-0.8">10</text>
<text transform="translate(618.3 743.2) scale(1.12 1)" font-size="10.2" text-anchor="start" fill="#1c1c1c" stroke="#1c1c1c" stroke-width="0.28">4</text>
<text transform="translate(659.5 751.2) scale(1.12 1)" font-size="10.2" text-anchor="start" fill="#1c1c1c" stroke="#1c1c1c" stroke-width="0.28" letter-spacing="-0.8">10</text>
<text transform="translate(671.1 743.2) scale(1.12 1)" font-size="10.2" text-anchor="start" fill="#1c1c1c" stroke="#1c1c1c" stroke-width="0.28">5</text>
<text transform="translate(371.5 580.8) rotate(-90)" font-size="13" text-anchor="middle" fill="#1c1c1c" stroke="#1c1c1c" stroke-width="0.28">Count</text>
<text transform="translate(543.9 776.2)" font-size="13" text-anchor="middle" fill="#1c1c1c" stroke="#1c1c1c" stroke-width="0.28">Comp-BluFL3</text>
<line x1="409.5" y1="502.5" x2="473.1" y2="502.5" stroke="#111" stroke-width="2.0" stroke-linecap="butt"/>
<line x1="473.1" y1="496.9" x2="473.1" y2="508.1" stroke="#111" stroke-width="2.0" stroke-linecap="butt"/>
<text transform="translate(524.5 587.6)" font-size="13" text-anchor="middle" fill="#1c1c1c" textLength="107.8" lengthAdjust="spacingAndGlyphs" stroke="#1c1c1c" stroke-width="0.28">7-AAD- Viable cells</text>
<text transform="translate(524.5 606.8)" font-size="13" text-anchor="middle" fill="#1c1c1c" stroke="#1c1c1c" stroke-width="0.28">98.6</text>
<g stroke-width="1.28" stroke-linecap="square" fill="none" opacity="0.92" transform="translate(0.5 0.5)">
<path stroke="#262662" d="M780 93zm7 3zm0 1zm-20 3zm24 0zm-11 1zm108 0zm-125 1zm24 0zm-3 1zm1 0zm1 1zm-9 1zm8 0zm1 0zm-15 1zm10 0zm2 0zm14 1zm3 0zm-25 1zm7 0zm2 0zm-9 1zm2 0zm12 0zm-11 1zm1 0zm12 0zm-21 1zm8 0zm5 0zm14 0zm-13 1zm1 0zm-4 1zm2 0zm2 0zm-6 1zm-2 1zm12 0zm82 0zm-101 1zm4 0zm12 0zm4 0zm-12 1zm1 0zm2 0zm2 0zm-19 1zm16 0zm1 0zm4 0zm1 0zm7 0zm30 0zm-49 1zm3 0zm3 0zm6 0zm1 0zm1 0zm6 0zm105 0zm-130 1zm2 0zm3 0zm4 0zm1 0zm1 0zm3 0zm4 0zm6 0zm102 0zm-125 1zm4 0zm1 0zm2 0zm8 0zm5 0zm15 0zm-43 1zm6 0zm3 0zm3 0zm12 0zm-8 1zm2 0zm1 0zm2 0zm1 0zm2 0zm2 0zm4 0zm4 0zm36 0zm10 0zm25 0zm-101 1zm5 0zm8 0zm4 0zm-10 1zm6 0zm2 0zm1 0zm3 0zm1 0zm1 0zm1 0zm1 0zm-20 1zm1 0zm3 0zm3 0zm6 0zm3 0zm1 0zm2 0zm1 0zm1 0zm3 0zm-20 1zm3 0zm2 0zm9 0zm-19 1zm4 0zm2 0zm9 0zm3 0zm1 0zm2 0zm5 0zm67 0zm21 0zm-110 1zm3 0zm1 0zm8 0zm1 0zm1 0zm-11 1zm10 0zm3 0zm6 0zm1 0zm-25 1zm2 0zm1 0zm1 0zm15 0zm1 0zm2 0zm2 0zm-27 1zm4 0zm1 0zm2 0zm13 0zm6 0zm29 0zm50 0zm-104 1zm23 0zm2 0zm1 0zm-30 1zm8 0zm3 0zm15 0zm2 0zm2 0zm1 0zm-26 1zm1 0zm26 0zm-31 1zm6 0zm1 0zm3 0zm14 0zm5 0zm39 0zm-60 1zm16 0zm2 0zm8 0zm-34 1zm7 0zm4 0zm14 0zm1 0zm-21 1zm4 0zm15 0zm3 0zm17 0zm50 0zm-87 1zm2 0zm22 0zm1 0zm-5 1zm2 0zm51 0zm-76 1zm4 0zm17 0zm13 0zm-30 1zm16 0zm0 1zm1 0zm2 0zm1 0zm67 0zm37 0zm-128 1zm25 0zm2 0zm-26 1zm22 0zm3 0zm-32 1zm7 0zm2 0zm22 0zm6 0zm-7 1zm-22 1zm31 0zm4 0zm40 0zm-83 1zm4 0zm25 0zm1 0zm5 0zm46 0zm-44 1zm61 0zm-97 1zm1 0zm3 0zm3 0zm21 0zm1 0zm1 0zm47 0zm-72 1zm1 0zm1 0zm20 0zm8 0zm43 0zm50 0zm-122 1zm22 0zm3 0zm-24 1zm1 0zm1 0zm21 0zm1 0zm3 0zm-27 1zm3 0zm18 0zm4 0zm-29 1zm4 0zm3 0zm19 0zm4 0zm1 0zm85 0zm-116 1zm24 0zm1 0zm1 0zm2 0zm26 0zm-54 1zm2 0zm2 0zm21 0zm2 0zm1 0zm95 0zm-119 1zm22 0zm100 0zm-123 1zm22 0zm3 0zm3 1zm8 0zm-33 1zm1 0zm19 0zm1 0zm16 0zm59 0zm-101 1zm4 0zm19 0zm4 0zm9 0zm34 0zm36 0zm27 0zm-133 1zm2 0zm2 0zm20 0zm1 0zm7 0zm92 0zm-128 1zm6 0zm2 0zm28 0zm-30 1zm22 0zm2 0zm60 0zm-81 1zm2 0zm17 0zm1 0zm1 0zm93 0zm-115 1zm2 0zm16 0zm2 0zm43 0zm-65 1zm2 0zm2 0zm2 0zm125 0zm-132 1zm2 0zm4 0zm20 0zm-26 1zm2 0zm6 0zm15 0zm66 1zm-86 1zm3 0zm1 0zm15 0zm110 0zm5 0zm-135 1zm5 0zm15 0zm-18 1zm101 0zm-98 1zm13 0zm2 0zm1 0zm3 0zm-20 1zm18 0zm69 0zm-91 1zm5 0zm12 0zm1 0zm2 0zm2 0zm-22 1zm1 0zm2 0zm1 0zm5 0zm6 0zm2 0zm2 0zm5 0zm-23 1zm5 0zm2 0zm7 0zm3 0zm6 0zm68 0zm55 0zm-146 1zm9 0zm4 0zm2 0zm5 0zm-17 1zm4 0zm3 0zm3 0zm3 0zm2 0zm5 0zm33 0zm-50 1zm2 0zm11 0zm2 0zm-19 1zm8 0zm2 0zm13 0zm68 0zm16 0zm-108 1zm2 0zm1 0zm1 0zm2 0zm2 0zm2 0zm6 0zm1 0zm2 0zm4 0zm8 0zm83 0zm13 0zm-123 1zm5 0zm8 0zm-17 1zm2 0zm2 0zm9 0zm2 0zm2 0zm63 0zm-74 1zm1 0zm2 0zm4 0zm1 0zm1 0zm7 0zm5 0zm63 0zm1 0zm-101 1zm11 0zm3 0zm2 0zm10 0zm83 0zm48 0zm-144 1zm4 0zm8 0zm2 0zm1 0zm67 0zm9 0zm-90 1zm6 0zm9 0zm-17 1zm1 0zm2 0zm3 0zm8 0zm3 0zm51 0zm-66 1zm4 0zm1 0zm12 0zm-22 1zm7 0zm7 0zm2 0zm1 0zm98 0zm-112 1zm3 0zm3 0zm2 0zm3 0zm3 0zm1 0zm1 0zm-16 1zm13 0zm28 0zm-43 1zm4 0zm1 0zm1 0zm1 0zm6 0zm-16 1zm6 0zm10 0zm66 0zm-71 1zm1 0zm5 0zm83 0zm-95 1zm2 0zm2 0zm5 0zm29 0zm41 0zm22 0zm43 0zm-135 1zm5 0zm-15 1zm2 0zm7 0zm5 0zm2 0zm4 0zm-21 1zm6 0zm2 0zm4 0zm-9 1zm6 0zm5 0zm59 0zm28 0zm9 0zm-98 1zm81 0zm26 0zm-110 1zm1 0zm4 0zm98 0zm-106 1zm3 0zm5 0zm74 0zm-75 1zm2 0zm-7 1zm7 0zm1 0zm5 0zm-17 1zm8 0zm4 0zm86 0zm-100 1zm108 0zm-98 1zm97 0zm-103 1zm5 0zm2 0zm6 0zm92 0zm-109 1zm4 0zm11 0zm-7 1zm5 0zm3 0zm66 0zm-78 1zm1 0zm2 0zm15 0zm20 0zm-43 1zm1 0zm6 0zm1 0zm1 1zm3 0zm5 0zm54 0zm-71 1zm7 0zm2 0zm4 0zm3 0zm2 0zm-11 1zm2 0zm90 0zm4 0zm-101 2zm6 0zm7 0zm8 0zm-20 1zm1 0zm-3 1zm3 0zm2 0zm1 0zm4 0zm4 0zm9 0zm-13 1zm7 0zm-12 1zm107 0zm-112 1zm5 0zm4 0zm103 0zm-109 1zm80 0zm-80 1zm6 0zm88 0zm7 0zm-103 1zm99 0zm6 0zm27 0zm-123 1zm93 0zm-95 1zm85 0zm-85 1zm86 0zm-94 1zm18 0zm-10 1zm77 0zm5 0zm38 1zm-130 1zm6 0zm5 0zm2 0zm89 0zm-104 1zm11 0zm1 0zm4 1zm3 0zm59 0zm-76 1zm7 0zm20 0zm92 0zm-118 1zm3 0zm6 0zm59 0zm-62 3zm85 0zm-85 1zm101 0zm-100 1zm5 0zm72 0zm-81 1zm3 0zm27 0zm30 0zm25 0zm9 0zm26 0zm-116 1zm4 0zm64 0zm5 0zm-68 1zm2 0zm36 0zm49 0zm14 0zm-110 1zm10 0zm85 0zm2 0zm8 0zm9 0zm-42 1zm9 0zm-90 1zm9 0zm8 0zm12 0zm7 0zm49 0zm14 0zm14 0zm6 0zm2 0zm12 1zm-129 1zm12 0zm6 0zm63 0zm1 0zm2 0zm43 0zm-128 1zm8 0zm1 0zm9 0zm66 0zm24 0zm3 0zm-45 1zm14 0zm35 0zm18 0zm-124 1zm4 0zm1 0zm61 0zm1 0zm33 0zm1 0zm-108 1zm4 0zm6 0zm4 0zm61 0zm6 0zm3 0zm9 0zm21 0zm8 0zm-123 1zm5 0zm2 0zm59 0zm7 0zm9 0zm7 0zm6 0zm1 0zm3 0zm26 0zm-115 1zm7 0zm7 0zm74 0zm8 0zm8 0zm25 0zm16 0zm-155 1zm9 0zm2 0zm61 0zm5 0zm9 0zm23 0zm12 0zm2 0zm1 0zm2 0zm3 0zm-122 1zm3 0zm4 0zm3 0zm35 0zm11 0zm7 0zm15 0zm7 0zm1 0zm4 0zm18 0zm17 0zm1 0zm-130 1zm2 0zm2 0zm2 0zm2 0zm2 0zm1 0zm70 0zm7 0zm1 0zm19 0zm2 0zm3 0zm3 0zm9 0zm-126 1zm8 0zm2 0zm2 0zm32 0zm14 0zm17 0zm1 0zm8 0zm4 0zm1 0zm8 0zm3 0zm2 0zm1 0zm3 0zm1 0zm7 0zm15 0zm-133 1zm10 0zm4 0zm1 0zm10 0zm24 0zm20 0zm7 0zm5 0zm6 0zm2 0zm18 0zm26 0zm2 0zm-134 1zm5 0zm1 0zm4 0zm1 0zm1 0zm2 0zm1 0zm1 0zm61 0zm10 0zm5 0zm1 0zm13 0zm1 0zm5 0zm4 0zm11 0zm4 0zm5 0zm17 0zm-153 1zm4 0zm4 0zm7 0zm39 0zm3 0zm3 0zm13 0zm2 0zm4 0zm2 0zm8 0zm2 0zm2 0zm4 0zm2 0zm3 0zm5 0zm7 0zm2 0zm14 0zm-134 1zm1 0zm1 0zm14 0zm2 0zm61 0zm7 0zm14 0zm2 0zm1 0zm4 0zm1 0zm3 0zm4 0zm5 0zm8 0zm-121 1zm3 0zm1 0zm1 0zm7 0zm2 0zm32 0zm3 0zm16 0zm5 0zm1 0zm13 0zm5 0zm3 0zm1 0zm3 0zm6 0zm1 0zm4 0zm1 0zm4 0zm1 0zm4 0zm14 0zm-128 1zm1 0zm3 0zm2 0zm3 0zm3 0zm3 0zm34 0zm2 0zm3 0zm6 0zm14 0zm1 0zm2 0zm3 0zm3 0zm1 0zm5 0zm3 0zm2 0zm2 0zm1 0zm4 0zm1 0zm3 0zm2 0zm7 0zm1 0zm2 0zm8 0zm-127 1zm1 0zm2 0zm2 0zm3 0zm1 0zm21 0zm29 0zm14 0zm1 0zm4 0zm1 0zm5 0zm2 0zm3 0zm1 0zm2 0zm5 0zm1 0zm2 0zm1 0zm11 0zm3 0zm5 0zm6 0zm34 0zm-162 1zm2 0zm7 0zm4 0zm2 0zm18 0zm10 0zm5 0zm24 0zm1 0zm7 0zm12 0zm4 0zm4 0zm5 0zm8 0zm7 0zm2 0zm2 0zm1 0zm1 0zm6 0zm16 0zm-149 1zm3 0zm3 0zm8 0zm43 0zm2 0zm3 0zm1 0zm6 0zm15 0zm3 0zm4 0zm3 0zm1 0zm4 0zm1 0zm9 0zm5 0zm1 0zm6 0zm7 0zm2 0zm1 0zm26 0zm-151 1zm2 0zm2 0zm2 0zm2 0zm4 0zm17 0zm46 0zm7 0zm3 0zm2 0zm8 0zm1 0zm3 0zm2 0zm15 0zm1 0zm2 0zm-132 1zm7 0zm5 0zm1 0zm1 0zm1 0zm3 0zm1 0zm3 0zm10 0zm25 0zm12 0zm11 0zm12 0zm9 0zm15 0zm2 0zm12 0zm17 0zm7 0zm-143 1zm1 0zm1 0zm5 0zm7 0zm3 0zm24 0zm1 0zm15 0zm4 0zm6 0zm2 0zm7 0zm1 0zm7 0zm6 0zm2 0zm6 0zm4 0zm8 0zm4 0zm3 0zm2 0zm-112 1zm20 0zm52 0zm2 0zm1 0zm7 0zm3 0zm1 0zm5 0zm4 0zm1 0zm3 0zm4 0zm5 0zm1 0zm2 0zm1 0zm10 0zm-131 1zm2 0zm2 0zm2 0zm1 0zm2 0zm46 0zm8 0zm2 0zm2 0zm2 0zm1 0zm1 0zm13 0zm6 0zm7 0zm1 0zm3 0zm1 0zm5 0zm1 0zm1 0zm5 0zm1 0zm3 0zm5 0zm2 0zm2 0zm2 0zm4 0zm-138 1zm1 0zm11 0zm4 0zm36 0zm43 0zm14 0zm5 0zm2 0zm3 0zm4 0zm2 0zm-130 1zm16 0zm8 0zm1 0zm11 0zm25 0zm5 0zm17 0zm2 0zm5 0zm6 0zm1 0zm8 0zm1 0zm5 0zm2 0zm4 0zm1 0zm4 0zm3 0zm5 0zm7 0zm-132 1zm4 0zm1 0zm3 0zm3 0zm3 0zm1 0zm2 0zm7 0zm39 0zm1 0zm12 0zm20 0zm1 0zm1 0zm14 0zm3 0zm6 0zm3 0zm19 0zm-136 1zm2 0zm3 0zm5 0zm2 0zm26 0zm21 0zm9 0zm2 0zm1 0zm3 0zm4 0zm2 0zm6 0zm2 0zm2 0zm2 0zm6 0zm3 0zm3 0zm1 0zm2 0zm9 0zm2 0zm14 0zm11 0zm2 0zm-151 1zm4 0zm1 0zm5 0zm53 0zm3 0zm20 0zm1 0zm1 0zm1 0zm7 0zm3 0zm5 0zm2 0zm5 0zm5 0zm9 0zm2 0zm11 0zm-136 1zm5 0zm1 0zm4 0zm1 0zm4 0zm40 0zm19 0zm8 0zm7 0zm7 0zm3 0zm5 0zm1 0zm2 0zm5 0zm2 0zm3 0zm5 0zm10 0zm-126 1zm2 0zm38 0zm40 0zm4 0zm7 0zm2 0zm2 0zm1 0zm1 0zm3 0zm1 0zm1 0zm4 0zm2 0zm2 0zm1 0zm1 0zm8 0zm-131 1zm15 0zm32 0zm14 0zm12 0zm8 0zm3 0zm6 0zm3 0zm6 0zm1 0zm13 0zm7 0zm4 0zm7 0zm-126 1zm11 0zm1 0zm2 0zm9 0zm18 0zm19 0zm30 0zm7 0zm5 0zm1 0zm2 0zm6 0zm3 0zm2 0zm8 0zm-122 1zm4 0zm7 0zm2 0zm1 0zm4 0zm23 0zm39 0zm2 0zm18 0zm1 0zm4 0zm6 0zm19 0zm-99 1zm15 0zm36 0zm2 0zm12 0zm3 0zm8 0zm3 0zm3 0zm6 0zm2 0zm4 0zm-124 1zm4 0zm4 0zm63 0zm6 0zm7 0zm1 0zm6 0zm12 0zm4 0zm11 0zm-112 1zm1 0zm1 0zm48 0zm21 0zm8 0zm2 0zm4 0zm7 0zm7 0zm2 0zm6 0zm5 0zm4 0zm-131 1zm3 0zm4 0zm10 0zm34 0zm11 0zm11 0zm7 0zm16 0zm22 0zm4 0zm4 0zm7 0zm14 0zm-150 1zm17 0zm4 0zm1 0zm73 0zm1 0zm6 0zm7 0zm6 0zm3 0zm3 0zm4 0zm1 0zm1 0zm8 0zm-122 1zm72 0zm27 0zm1 0zm24 0zm3 0zm-134 1zm12 0zm2 0zm2 0zm56 0zm17 0zm2 0zm12 0zm5 0zm5 0zm3 0zm1 0zm25 0zm-139 1zm5 0zm2 0zm8 0zm65 0zm18 0zm13 0zm22 0zm69 0zm-199 1zm1 0zm9 0zm32 0zm11 0zm5 0zm43 0zm2 0zm11 0zm5 0zm-112 1zm15 0zm51 0zm4 0zm46 0zm-126 1zm7 0zm16 0zm19 0zm48 0zm7 0zm5 0zm10 0zm-106 1zm35 0zm6 0zm13 0zm17 0zm20 0zm17 0zm-108 1zm4 0zm1 0zm4 0zm129 0zm-58 1zm51 0zm-130 1zm3 0zm47 0zm50 0zm-4 1zm24 0zm-126 1zm2 0zm90 0zm32 0zm-126 1zm14 0zm23 0zm73 0zm-96 1zm1 0zm54 0zm29 0zm-88 1zm3 0zm3 0zm4 0zm-6 1zm-4 1zm8 0zm-11 1zm3 0zm8 0zm-11 1zm111 0zm-109 1zm6 0zm82 1zm-84 1zm-5 1zm118 1zm-111 1zm-3 1zm110 0zm-113 5zm-13 4z"/>
<path stroke="#20409c" d="M785 122zm0 1zm-6 3zm1 0zm0 1zm-3 1zm4 0zm1 0zm-5 1zm1 1zm1 0zm1 0zm3 0zm1 0zm-3 1zm1 0zm1 0zm1 0zm1 1zm-1 1zm5 0zm-4 1zm1 0zm2 0zm-3 1zm-9 1zm11 0zm1 3zm-13 1zm1 0zm11 0zm-13 1zm2 0zm-2 1zm0 1zm-1 1zm2 0zm-2 2zm18 0zm-1 1zm-16 1zm1 0zm16 0zm1 0zm0 1zm-22 1zm2 0zm19 1zm-17 2zm-2 1zm0 2zm1 0zm17 0zm-16 2zm15 1zm-16 2zm17 1zm1 0zm-14 1zm-2 1zm14 1zm1 0zm-17 1zm17 0zm-17 1zm2 0zm2 0zm12 0zm1 0zm3 0zm-16 1zm11 0zm-10 1zm1 1zm9 0zm1 0zm-16 1zm6 0zm8 0zm3 0zm-17 1zm0 1zm6 0zm10 0zm1 0zm1 0zm-18 1zm4 0zm1 0zm8 1zm3 0zm1 0zm-12 1zm8 0zm2 0zm1 0zm-10 1zm7 0zm-8 1zm1 0zm-1 1zm1 0zm2 1zm1 1zm2 0zm-1 1zm1 0zm-5 95zm2 0zm98 0zm1 0zm1 0zm-101 1zm1 0zm85 0zm1 0zm-1 1zm2 3zm3 1zm1 0zm0 1zm1 0z"/>
<path stroke="#2a78cc" d="M781 127zm-1 1zm-1 1zm-1 2zm2 0zm5 0zm-9 1zm8 0zm-7 2zm10 0zm-11 1zm11 0zm-10 1zm0 1zm10 0zm-1 1zm1 0zm-1 1zm1 0zm-10 1zm1 1zm9 0zm-12 1zm1 0zm11 0zm-13 2zm0 1zm14 0zm0 1zm1 0zm1 0zm-17 1zm1 0zm15 0zm-16 1zm3 0zm13 0zm0 1zm-18 1zm2 0zm-2 1zm1 0zm1 0zm2 0zm15 0zm-18 1zm1 0zm2 0zm-1 2zm16 3zm-17 3zm1 1zm16 0zm-12 2zm10 0zm-11 1zm2 0zm10 0zm1 0zm-14 1zm-2 1zm1 0zm1 0zm13 0zm-10 2zm0 1zm6 0zm-7 1zm9 0zm3 0zm-9 1zm5 0zm3 0zm-7 1zm6 0zm-8 1zm5 0zm-5 1zm4 0zm3 0zm2 0zm-11 1zm6 0zm4 0zm-11 1zm10 0zm-6 2zm0 1zm2 0zm3 0zm-4 1zm1 0zm2 0z"/>
<path stroke="#38aede" d="M777 131zm1 1zm1 0zm1 0zm-4 1zm2 0zm3 0zm2 1zm-6 1zm1 0zm0 1zm8 0zm-1 1zm-7 1zm8 2zm-8 2zm3 0zm-5 1zm11 0zm-12 2zm-1 1zm1 0zm1 1zm11 1zm-11 2zm-2 1zm15 2zm-14 1zm13 4zm-14 1zm14 1zm1 0zm1 0zm-15 1zm2 0zm12 0zm0 1zm-9 2zm8 0zm-13 1zm2 0zm0 1zm1 0zm1 0zm1 0zm7 0zm1 0zm-10 1zm2 0zm-2 1zm2 1zm0 1zm3 1zm5 0zm-5 1zm2 0zm-4 1zm5 0zm-4 1zm6 0zm-9 2zm6 1zm-3 1zm1 0zm1 0zm1 1z"/>
<path stroke="#3cc6b4" d="M777 133zm3 0zm-1 1zm3 0zm-3 2zm4 0zm1 0zm0 1zm0 1zm1 0zm-7 2zm8 1zm0 6zm2 1zm0 1zm-11 1zm-1 1zm0 1zm13 0zm0 2zm-14 1zm1 2zm11 1zm0 1zm0 1zm0 1zm-8 1zm9 0zm-1 1zm-6 1zm0 1zm-2 2zm6 3zm-1 2zm2 0zm-4 1zm5 0zm-4 1zm-3 1zm1 0zm1 1zm-1 1zm2 0zm1 0z"/>
<path stroke="#46b850" d="M779 133zm1 1zm1 0zm-1 1zm1 0zm1 0zm0 1zm-3 1zm1 0zm1 0zm1 0zm1 0zm-4 1zm3 0zm-1 1zm3 0zm-5 1zm1 0zm1 0zm1 0zm2 0zm-4 1zm2 0zm2 0zm1 0zm-6 1zm7 0zm-8 1zm1 0zm3 0zm4 0zm-9 1zm9 0zm1 0zm-11 1zm1 0zm9 0zm-10 1zm1 0zm8 0zm1 0zm1 0zm-10 2zm9 1zm1 0zm-1 1zm1 0zm1 0zm-11 1zm8 0zm3 0zm-11 1zm1 0zm7 0zm-9 1zm1 0zm2 0zm-3 1zm12 0zm-12 1zm4 0zm-4 1zm1 0zm2 0zm1 0zm9 0zm-12 1zm1 0zm1 0zm7 0zm1 0zm1 0zm1 0zm-13 1zm1 0zm1 0zm8 0zm-11 1zm1 0zm1 0zm1 0zm8 0zm2 0zm-13 1zm1 0zm2 0zm8 0zm-8 1zm8 0zm-6 1zm1 0zm5 0zm-4 1zm4 0zm-4 1zm0 1zm4 0zm-5 1zm0 1zm4 0zm1 0zm-5 1zm3 0zm-3 1zm1 1zm2 0zm0 1zm1 0zm-3 6z"/>
<path stroke="#96d038" d="M780 138zm1 0zm-2 1zm4 0zm0 1zm0 1zm-1 1zm2 0zm1 0zm-2 1zm-5 1zm2 0zm1 0zm1 0zm3 0zm-3 1zm1 0zm1 0zm1 0zm-2 1zm1 1zm-6 1zm0 1zm1 0zm1 0zm1 0zm3 0zm1 0zm-7 1zm1 0zm1 0zm5 0zm-7 1zm2 1zm6 0zm1 0zm1 0zm-10 1zm2 0zm1 0zm5 0zm1 0zm1 0zm-10 1zm3 0zm1 0zm-5 1zm1 0zm1 0zm4 0zm4 0zm1 0zm-7 1zm1 0zm3 0zm2 0zm1 0zm-8 1zm5 0zm-6 1zm6 0zm-6 2zm6 0zm-6 1zm1 0zm1 0zm1 1zm3 0zm0 1zm-3 3zm1 0zm3 0zm-4 1zm1 0zm-1 1zm1 0zm-1 1zm1 0zm1 0z"/>
<path stroke="#e6e032" d="M783 142zm1 1zm1 0zm-6 1zm5 0zm-6 1zm3 0zm-3 1zm3 0zm1 0zm-1 1zm1 0zm1 0zm-4 1zm1 0zm1 0zm1 0zm1 0zm1 0zm-1 1zm-2 1zm1 0zm-1 1zm3 0zm-3 1zm3 0zm-2 1zm3 0zm-8 1zm6 0zm1 0zm2 0zm-2 1zm1 0zm1 0zm-3 1zm1 0zm-2 1zm1 0zm1 0zm-4 1zm1 0zm3 0zm-5 1zm1 0zm4 0zm1 0zm-5 1zm2 1zm2 0zm1 0zm-2 1zm1 0zm0 1zm-1 1zm2 0zm-2 1zm2 0zm-1 1zm1 0z"/>
<path stroke="#f5a020" d="M779 145zm1 0zm-1 1zm0 1zm1 0zm2 2zm1 1zm1 0zm-1 1zm-1 1zm1 0zm0 1zm2 1zm-3 4zm1 0zm-2 1zm1 0zm1 0zm-2 1zm1 0zm1 0zm1 0zm0 4zm0 1z"/>
<path stroke="#ec5a18" d="M780 146zm2 5z"/>
</g>
<rect x="837.4" y="133.5" width="120" height="38.2" fill="#fff" opacity="0.8"/>
<rect x="742" y="55.2" width="268.4" height="275.5" fill="none" stroke="#1c1c1c" stroke-width="1.4"/>
<line x1="770.6" y1="330.7" x2="770.6" y2="334.3" stroke="#1c1c1c" stroke-width="1.3" stroke-linecap="butt"/>
<line x1="767.4" y1="330.7" x2="767.4" y2="334.3" stroke="#1c1c1c" stroke-width="1.3" stroke-linecap="butt"/>
<line x1="764.3" y1="330.7" x2="764.3" y2="334.3" stroke="#1c1c1c" stroke-width="1.3" stroke-linecap="butt"/>
<line x1="761.1" y1="330.7" x2="761.1" y2="334.3" stroke="#1c1c1c" stroke-width="1.3" stroke-linecap="butt"/>
<line x1="757.9" y1="330.7" x2="757.9" y2="335.9" stroke="#1c1c1c" stroke-width="1.5" stroke-linecap="butt"/>
<line x1="754.7" y1="330.7" x2="754.7" y2="334.3" stroke="#1c1c1c" stroke-width="1.3" stroke-linecap="butt"/>
<line x1="751.5" y1="330.7" x2="751.5" y2="334.3" stroke="#1c1c1c" stroke-width="1.3" stroke-linecap="butt"/>
<line x1="748.4" y1="330.7" x2="748.4" y2="334.3" stroke="#1c1c1c" stroke-width="1.3" stroke-linecap="butt"/>
<line x1="745.2" y1="330.7" x2="745.2" y2="334.3" stroke="#1c1c1c" stroke-width="1.3" stroke-linecap="butt"/>
<line x1="742" y1="330.7" x2="742" y2="338.7" stroke="#1c1c1c" stroke-width="2.2" stroke-linecap="butt"/>
<line x1="776.9" y1="330.7" x2="776.9" y2="334.3" stroke="#1c1c1c" stroke-width="1.3" stroke-linecap="butt"/>
<line x1="780.1" y1="330.7" x2="780.1" y2="334.3" stroke="#1c1c1c" stroke-width="1.3" stroke-linecap="butt"/>
<line x1="783.2" y1="330.7" x2="783.2" y2="334.3" stroke="#1c1c1c" stroke-width="1.3" stroke-linecap="butt"/>
<line x1="786.4" y1="330.7" x2="786.4" y2="334.3" stroke="#1c1c1c" stroke-width="1.3" stroke-linecap="butt"/>
<line x1="789.5" y1="330.7" x2="789.5" y2="335.9" stroke="#1c1c1c" stroke-width="1.5" stroke-linecap="butt"/>
<line x1="792.6" y1="330.7" x2="792.6" y2="334.3" stroke="#1c1c1c" stroke-width="1.3" stroke-linecap="butt"/>
<line x1="795.8" y1="330.7" x2="795.8" y2="334.3" stroke="#1c1c1c" stroke-width="1.3" stroke-linecap="butt"/>
<line x1="798.9" y1="330.7" x2="798.9" y2="334.3" stroke="#1c1c1c" stroke-width="1.3" stroke-linecap="butt"/>
<line x1="802.1" y1="330.7" x2="802.1" y2="334.3" stroke="#1c1c1c" stroke-width="1.3" stroke-linecap="butt"/>
<line x1="805.2" y1="330.7" x2="805.2" y2="338.7" stroke="#1c1c1c" stroke-width="2.2" stroke-linecap="butt"/>
<rect x="769.9" y="330.7" width="7.8" height="5.2" fill="#1c1c1c"/>
<line x1="770.8" y1="330.7" x2="770.8" y2="338.7" stroke="#1c1c1c" stroke-width="1.5" stroke-linecap="butt"/>
<line x1="772.8" y1="330.7" x2="772.8" y2="338.7" stroke="#1c1c1c" stroke-width="1.5" stroke-linecap="butt"/>
<line x1="774.8" y1="330.7" x2="774.8" y2="338.7" stroke="#1c1c1c" stroke-width="1.5" stroke-linecap="butt"/>
<line x1="776.8" y1="330.7" x2="776.8" y2="338.7" stroke="#1c1c1c" stroke-width="1.5" stroke-linecap="butt"/>
<line x1="826.7" y1="330.7" x2="826.7" y2="334.3" stroke="#1c1c1c" stroke-width="1.3" stroke-linecap="butt"/>
<line x1="839.2" y1="330.7" x2="839.2" y2="334.3" stroke="#1c1c1c" stroke-width="1.3" stroke-linecap="butt"/>
<line x1="848.1" y1="330.7" x2="848.1" y2="334.3" stroke="#1c1c1c" stroke-width="1.3" stroke-linecap="butt"/>
<line x1="855" y1="330.7" x2="855" y2="335.9" stroke="#1c1c1c" stroke-width="1.5" stroke-linecap="butt"/>
<line x1="860.7" y1="330.7" x2="860.7" y2="334.3" stroke="#1c1c1c" stroke-width="1.3" stroke-linecap="butt"/>
<line x1="865.5" y1="330.7" x2="865.5" y2="334.3" stroke="#1c1c1c" stroke-width="1.3" stroke-linecap="butt"/>
<line x1="869.6" y1="330.7" x2="869.6" y2="334.3" stroke="#1c1c1c" stroke-width="1.3" stroke-linecap="butt"/>
<line x1="873.2" y1="330.7" x2="873.2" y2="334.3" stroke="#1c1c1c" stroke-width="1.3" stroke-linecap="butt"/>
<line x1="876.5" y1="330.7" x2="876.5" y2="338.7" stroke="#1c1c1c" stroke-width="2.2" stroke-linecap="butt"/>
<line x1="896.9" y1="330.7" x2="896.9" y2="334.3" stroke="#1c1c1c" stroke-width="1.3" stroke-linecap="butt"/>
<line x1="908.8" y1="330.7" x2="908.8" y2="334.3" stroke="#1c1c1c" stroke-width="1.3" stroke-linecap="butt"/>
<line x1="917.3" y1="330.7" x2="917.3" y2="334.3" stroke="#1c1c1c" stroke-width="1.3" stroke-linecap="butt"/>
<line x1="923.8" y1="330.7" x2="923.8" y2="335.9" stroke="#1c1c1c" stroke-width="1.5" stroke-linecap="butt"/>
<line x1="929.2" y1="330.7" x2="929.2" y2="334.3" stroke="#1c1c1c" stroke-width="1.3" stroke-linecap="butt"/>
<line x1="933.7" y1="330.7" x2="933.7" y2="334.3" stroke="#1c1c1c" stroke-width="1.3" stroke-linecap="butt"/>
<line x1="937.6" y1="330.7" x2="937.6" y2="334.3" stroke="#1c1c1c" stroke-width="1.3" stroke-linecap="butt"/>
<line x1="941.1" y1="330.7" x2="941.1" y2="334.3" stroke="#1c1c1c" stroke-width="1.3" stroke-linecap="butt"/>
<line x1="944.2" y1="330.7" x2="944.2" y2="338.7" stroke="#1c1c1c" stroke-width="2.2" stroke-linecap="butt"/>
<line x1="964.1" y1="330.7" x2="964.1" y2="334.3" stroke="#1c1c1c" stroke-width="1.3" stroke-linecap="butt"/>
<line x1="975.8" y1="330.7" x2="975.8" y2="334.3" stroke="#1c1c1c" stroke-width="1.3" stroke-linecap="butt"/>
<line x1="984.1" y1="330.7" x2="984.1" y2="334.3" stroke="#1c1c1c" stroke-width="1.3" stroke-linecap="butt"/>
<line x1="990.5" y1="330.7" x2="990.5" y2="335.9" stroke="#1c1c1c" stroke-width="1.5" stroke-linecap="butt"/>
<line x1="995.7" y1="330.7" x2="995.7" y2="334.3" stroke="#1c1c1c" stroke-width="1.3" stroke-linecap="butt"/>
<line x1="1000.1" y1="330.7" x2="1000.1" y2="334.3" stroke="#1c1c1c" stroke-width="1.3" stroke-linecap="butt"/>
<line x1="1004" y1="330.7" x2="1004" y2="334.3" stroke="#1c1c1c" stroke-width="1.3" stroke-linecap="butt"/>
<line x1="1007.4" y1="330.7" x2="1007.4" y2="334.3" stroke="#1c1c1c" stroke-width="1.3" stroke-linecap="butt"/>
<line x1="1010.4" y1="330.7" x2="1010.4" y2="338.7" stroke="#1c1c1c" stroke-width="2.2" stroke-linecap="butt"/>
<line x1="738.4" y1="299.8" x2="742" y2="299.8" stroke="#1c1c1c" stroke-width="1.3" stroke-linecap="butt"/>
<line x1="738.4" y1="303.1" x2="742" y2="303.1" stroke="#1c1c1c" stroke-width="1.3" stroke-linecap="butt"/>
<line x1="738.4" y1="306.3" x2="742" y2="306.3" stroke="#1c1c1c" stroke-width="1.3" stroke-linecap="butt"/>
<line x1="738.4" y1="309.6" x2="742" y2="309.6" stroke="#1c1c1c" stroke-width="1.3" stroke-linecap="butt"/>
<line x1="736.8" y1="312.8" x2="742" y2="312.8" stroke="#1c1c1c" stroke-width="1.5" stroke-linecap="butt"/>
<line x1="738.4" y1="316" x2="742" y2="316" stroke="#1c1c1c" stroke-width="1.3" stroke-linecap="butt"/>
<line x1="738.4" y1="319.3" x2="742" y2="319.3" stroke="#1c1c1c" stroke-width="1.3" stroke-linecap="butt"/>
<line x1="738.4" y1="322.5" x2="742" y2="322.5" stroke="#1c1c1c" stroke-width="1.3" stroke-linecap="butt"/>
<line x1="738.4" y1="325.8" x2="742" y2="325.8" stroke="#1c1c1c" stroke-width="1.3" stroke-linecap="butt"/>
<line x1="734" y1="329" x2="742" y2="329" stroke="#1c1c1c" stroke-width="2.2" stroke-linecap="butt"/>
<line x1="738.4" y1="293.3" x2="742" y2="293.3" stroke="#1c1c1c" stroke-width="1.3" stroke-linecap="butt"/>
<line x1="738.4" y1="290" x2="742" y2="290" stroke="#1c1c1c" stroke-width="1.3" stroke-linecap="butt"/>
<line x1="738.4" y1="286.7" x2="742" y2="286.7" stroke="#1c1c1c" stroke-width="1.3" stroke-linecap="butt"/>
<line x1="738.4" y1="283.4" x2="742" y2="283.4" stroke="#1c1c1c" stroke-width="1.3" stroke-linecap="butt"/>
<line x1="736.8" y1="280.1" x2="742" y2="280.1" stroke="#1c1c1c" stroke-width="1.5" stroke-linecap="butt"/>
<line x1="738.4" y1="276.8" x2="742" y2="276.8" stroke="#1c1c1c" stroke-width="1.3" stroke-linecap="butt"/>
<line x1="738.4" y1="273.5" x2="742" y2="273.5" stroke="#1c1c1c" stroke-width="1.3" stroke-linecap="butt"/>
<line x1="738.4" y1="270.2" x2="742" y2="270.2" stroke="#1c1c1c" stroke-width="1.3" stroke-linecap="butt"/>
<line x1="738.4" y1="266.9" x2="742" y2="266.9" stroke="#1c1c1c" stroke-width="1.3" stroke-linecap="butt"/>
<line x1="734" y1="263.6" x2="742" y2="263.6" stroke="#1c1c1c" stroke-width="2.2" stroke-linecap="butt"/>
<rect x="736.8" y="293" width="5.2" height="7.2" fill="#1c1c1c"/>
<line x1="734" y1="293.8" x2="742" y2="293.8" stroke="#1c1c1c" stroke-width="1.4" stroke-linecap="butt"/>
<line x1="734" y1="295.7" x2="742" y2="295.7" stroke="#1c1c1c" stroke-width="1.4" stroke-linecap="butt"/>
<line x1="734" y1="297.5" x2="742" y2="297.5" stroke="#1c1c1c" stroke-width="1.4" stroke-linecap="butt"/>
<line x1="734" y1="299.4" x2="742" y2="299.4" stroke="#1c1c1c" stroke-width="1.4" stroke-linecap="butt"/>
<line x1="738.4" y1="241.7" x2="742" y2="241.7" stroke="#1c1c1c" stroke-width="1.3" stroke-linecap="butt"/>
<line x1="738.4" y1="229" x2="742" y2="229" stroke="#1c1c1c" stroke-width="1.3" stroke-linecap="butt"/>
<line x1="738.4" y1="219.9" x2="742" y2="219.9" stroke="#1c1c1c" stroke-width="1.3" stroke-linecap="butt"/>
<line x1="736.8" y1="212.9" x2="742" y2="212.9" stroke="#1c1c1c" stroke-width="1.5" stroke-linecap="butt"/>
<line x1="738.4" y1="207.1" x2="742" y2="207.1" stroke="#1c1c1c" stroke-width="1.3" stroke-linecap="butt"/>
<line x1="738.4" y1="202.2" x2="742" y2="202.2" stroke="#1c1c1c" stroke-width="1.3" stroke-linecap="butt"/>
<line x1="738.4" y1="198" x2="742" y2="198" stroke="#1c1c1c" stroke-width="1.3" stroke-linecap="butt"/>
<line x1="738.4" y1="194.3" x2="742" y2="194.3" stroke="#1c1c1c" stroke-width="1.3" stroke-linecap="butt"/>
<line x1="734" y1="191" x2="742" y2="191" stroke="#1c1c1c" stroke-width="2.2" stroke-linecap="butt"/>
<line x1="738.4" y1="170.3" x2="742" y2="170.3" stroke="#1c1c1c" stroke-width="1.3" stroke-linecap="butt"/>
<line x1="738.4" y1="158.1" x2="742" y2="158.1" stroke="#1c1c1c" stroke-width="1.3" stroke-linecap="butt"/>
<line x1="738.4" y1="149.5" x2="742" y2="149.5" stroke="#1c1c1c" stroke-width="1.3" stroke-linecap="butt"/>
<line x1="736.8" y1="142.8" x2="742" y2="142.8" stroke="#1c1c1c" stroke-width="1.5" stroke-linecap="butt"/>
<line x1="738.4" y1="137.4" x2="742" y2="137.4" stroke="#1c1c1c" stroke-width="1.3" stroke-linecap="butt"/>
<line x1="738.4" y1="132.8" x2="742" y2="132.8" stroke="#1c1c1c" stroke-width="1.3" stroke-linecap="butt"/>
<line x1="738.4" y1="128.8" x2="742" y2="128.8" stroke="#1c1c1c" stroke-width="1.3" stroke-linecap="butt"/>
<line x1="738.4" y1="125.3" x2="742" y2="125.3" stroke="#1c1c1c" stroke-width="1.3" stroke-linecap="butt"/>
<line x1="734" y1="122.1" x2="742" y2="122.1" stroke="#1c1c1c" stroke-width="2.2" stroke-linecap="butt"/>
<line x1="738.4" y1="102.2" x2="742" y2="102.2" stroke="#1c1c1c" stroke-width="1.3" stroke-linecap="butt"/>
<line x1="738.4" y1="90.5" x2="742" y2="90.5" stroke="#1c1c1c" stroke-width="1.3" stroke-linecap="butt"/>
<line x1="738.4" y1="82.2" x2="742" y2="82.2" stroke="#1c1c1c" stroke-width="1.3" stroke-linecap="butt"/>
<line x1="736.8" y1="75.8" x2="742" y2="75.8" stroke="#1c1c1c" stroke-width="1.5" stroke-linecap="butt"/>
<line x1="738.4" y1="70.6" x2="742" y2="70.6" stroke="#1c1c1c" stroke-width="1.3" stroke-linecap="butt"/>
<line x1="738.4" y1="66.2" x2="742" y2="66.2" stroke="#1c1c1c" stroke-width="1.3" stroke-linecap="butt"/>
<line x1="738.4" y1="62.3" x2="742" y2="62.3" stroke="#1c1c1c" stroke-width="1.3" stroke-linecap="butt"/>
<line x1="738.4" y1="58.9" x2="742" y2="58.9" stroke="#1c1c1c" stroke-width="1.3" stroke-linecap="butt"/>
<line x1="734" y1="55.9" x2="742" y2="55.9" stroke="#1c1c1c" stroke-width="2.2" stroke-linecap="butt"/>
<path d="M742 86.5H819.6M742 242.3H819.6" stroke="#1c1c1c" stroke-width="1.4" fill="none"/>
<line x1="819.2" y1="85.8" x2="819.2" y2="243" stroke="#1c1c1c" stroke-width="2.1" stroke-linecap="butt"/>
<text transform="translate(774.5 362.5) scale(1.12 1)" font-size="10.2" text-anchor="middle" fill="#1c1c1c" stroke="#1c1c1c" stroke-width="0.28">0</text>
<text transform="translate(872.2 362.5) scale(1.12 1)" font-size="10.2" text-anchor="start" fill="#1c1c1c" stroke="#1c1c1c" stroke-width="0.28" letter-spacing="-0.8">10</text>
<text transform="translate(883.8 354.5) scale(1.12 1)" font-size="10.2" text-anchor="start" fill="#1c1c1c" stroke="#1c1c1c" stroke-width="0.28">3</text>
<text transform="translate(939.5 362.5) scale(1.12 1)" font-size="10.2" text-anchor="start" fill="#1c1c1c" stroke="#1c1c1c" stroke-width="0.28" letter-spacing="-0.8">10</text>
<text transform="translate(951.1 354.5) scale(1.12 1)" font-size="10.2" text-anchor="start" fill="#1c1c1c" stroke="#1c1c1c" stroke-width="0.28">4</text>
<text transform="translate(992 362.5) scale(1.12 1)" font-size="10.2" text-anchor="start" fill="#1c1c1c" stroke="#1c1c1c" stroke-width="0.28" letter-spacing="-0.8">10</text>
<text transform="translate(1003.6 354.5) scale(1.12 1)" font-size="10.2" text-anchor="start" fill="#1c1c1c" stroke="#1c1c1c" stroke-width="0.28">5</text>
<text transform="translate(710.8 75.4) scale(1.12 1)" font-size="10.2" text-anchor="start" fill="#1c1c1c" stroke="#1c1c1c" stroke-width="0.28" letter-spacing="-0.8">10</text>
<text transform="translate(722.4 67.4) scale(1.12 1)" font-size="10.2" text-anchor="start" fill="#1c1c1c" stroke="#1c1c1c" stroke-width="0.28">5</text>
<text transform="translate(710.8 129.1) scale(1.12 1)" font-size="10.2" text-anchor="start" fill="#1c1c1c" stroke="#1c1c1c" stroke-width="0.28" letter-spacing="-0.8">10</text>
<text transform="translate(722.4 121.1) scale(1.12 1)" font-size="10.2" text-anchor="start" fill="#1c1c1c" stroke="#1c1c1c" stroke-width="0.28">4</text>
<text transform="translate(710.8 198) scale(1.12 1)" font-size="10.2" text-anchor="start" fill="#1c1c1c" stroke="#1c1c1c" stroke-width="0.28" letter-spacing="-0.8">10</text>
<text transform="translate(722.4 190) scale(1.12 1)" font-size="10.2" text-anchor="start" fill="#1c1c1c" stroke="#1c1c1c" stroke-width="0.28">3</text>
<text transform="translate(710.8 270.6) scale(1.12 1)" font-size="10.2" text-anchor="start" fill="#1c1c1c" stroke="#1c1c1c" stroke-width="0.28" letter-spacing="-0.8">10</text>
<text transform="translate(722.4 262.6) scale(1.12 1)" font-size="10.2" text-anchor="start" fill="#1c1c1c" stroke="#1c1c1c" stroke-width="0.28">2</text>
<text transform="translate(719.3 300.2) scale(1.12 1)" font-size="10.2" text-anchor="middle" fill="#1c1c1c" stroke="#1c1c1c" stroke-width="0.28">0</text>
<text transform="translate(705.2 329.2) scale(1.12 1)" font-size="10.2" text-anchor="start" fill="#1c1c1c" stroke="#1c1c1c" stroke-width="0.28" letter-spacing="-0.8">-10</text>
<text transform="translate(722.8 321.2) scale(1.12 1)" font-size="10.2" text-anchor="start" fill="#1c1c1c" stroke="#1c1c1c" stroke-width="0.28">2</text>
<text transform="translate(704.3 193.9) rotate(-90)" font-size="13" text-anchor="middle" fill="#1c1c1c" stroke="#1c1c1c" stroke-width="0.28">Comp-RedFL1</text>
<text transform="translate(876.2 386.7)" font-size="13" text-anchor="middle" fill="#1c1c1c" stroke="#1c1c1c" stroke-width="0.28">Comp-BluFL2</text>
<text transform="translate(897.4 147.5)" font-size="13" text-anchor="middle" fill="#1c1c1c" textLength="113.5" lengthAdjust="spacingAndGlyphs" stroke="#1c1c1c" stroke-width="0.28">CD3-&amp; CD56+ cells</text>
<text transform="translate(897.4 166.7)" font-size="13" text-anchor="middle" fill="#1c1c1c" stroke="#1c1c1c" stroke-width="0.28">68.6</text>
<g stroke-width="1.28" stroke-linecap="square" fill="none" opacity="0.92" transform="translate(0.5 0.5)">
<path stroke="#262662" d="M861 443zm17 22zm-123 11zm152 6zm-113 1zm-46 1zm45 0zm-34 1zm30 0zm-33 2zm29 0zm-27 1zm27 0zm9 0zm-37 1zm7 0zm-10 1zm9 0zm5 0zm11 0zm5 0zm-22 1zm19 0zm7 0zm103 0zm-122 1zm15 0zm2 0zm-26 1zm5 0zm4 0zm5 0zm3 0zm1 0zm6 0zm57 0zm-94 1zm20 0zm4 0zm7 0zm10 0zm114 0zm-138 1zm8 0zm2 0zm5 0zm10 0zm14 0zm-41 1zm5 0zm7 0zm1 0zm6 0zm-17 1zm13 0zm1 0zm7 0zm22 0zm-46 1zm5 0zm2 0zm5 0zm9 0zm8 0zm-42 1zm1 0zm1 0zm4 0zm4 0zm6 0zm8 0zm19 0zm3 0zm122 0zm-160 1zm9 0zm3 0zm3 0zm8 0zm5 0zm7 0zm2 0zm-48 1zm18 0zm6 0zm13 0zm2 0zm3 0zm2 0zm1 0zm-39 1zm5 0zm3 0zm14 0zm3 0zm4 0zm3 0zm2 0zm-32 1zm17 0zm7 0zm1 0zm3 0zm3 0zm-26 1zm5 0zm3 0zm1 0zm7 0zm1 0zm6 0zm8 0zm2 0zm2 0zm3 0zm11 0zm-46 1zm5 0zm1 0zm1 0zm2 0zm6 0zm1 0zm2 0zm6 0zm5 0zm70 0zm-105 1zm7 0zm1 0zm7 0zm4 0zm4 0zm4 0zm2 0zm8 0zm10 0zm1 0zm3 0zm3 0zm7 0zm-59 1zm10 0zm1 0zm5 0zm4 0zm9 0zm6 0zm8 0zm-45 1zm4 0zm1 0zm5 0zm2 0zm2 0zm3 0zm6 0zm1 0zm1 0zm1 0zm1 0zm3 0zm2 0zm3 0zm3 0zm-42 1zm7 0zm6 0zm1 0zm4 0zm4 0zm3 0zm4 0zm4 0zm8 0zm3 0zm2 0zm3 0zm5 0zm-55 1zm16 0zm1 0zm1 0zm1 0zm2 0zm2 0zm7 0zm1 0zm1 0zm3 0zm1 0zm3 0zm2 0zm1 0zm2 0zm2 0zm19 0zm-65 1zm3 0zm5 0zm6 0zm4 0zm15 0zm4 0zm3 0zm3 0zm1 0zm18 0zm-54 1zm2 0zm2 0zm2 0zm1 0zm1 0zm1 0zm2 0zm2 0zm8 0zm6 0zm7 0zm1 0zm5 0zm6 0zm-51 1zm2 0zm3 0zm1 0zm2 0zm4 0zm3 0zm2 0zm17 0zm1 0zm5 0zm6 0zm7 0zm60 0zm-114 1zm10 0zm6 0zm21 0zm5 0zm21 0zm-61 1zm2 0zm2 0zm1 0zm4 0zm1 0zm25 0zm4 0zm7 0zm7 0zm-60 1zm10 0zm12 0zm1 0zm14 0zm6 0zm1 0zm3 0zm12 0zm2 0zm3 0zm124 0zm-187 1zm9 0zm2 0zm4 0zm36 0zm3 0zm-57 1zm8 0zm3 0zm2 0zm3 0zm33 0zm2 0zm16 0zm-67 1zm1 0zm1 0zm5 0zm3 0zm1 0zm33 0zm12 0zm5 0zm-61 1zm7 0zm8 0zm1 0zm33 0zm1 0zm3 0zm3 0zm1 0zm2 0zm3 0zm7 0zm1 0zm-61 1zm3 0zm1 0zm1 0zm37 0zm1 0zm6 0zm4 0zm-62 1zm9 0zm1 0zm4 0zm1 0zm3 0zm33 0zm5 0zm3 0zm-57 1zm10 0zm2 0zm9 0zm33 0zm4 0zm-55 1zm4 0zm7 0zm2 0zm23 0zm11 0zm3 0zm4 0zm9 0zm25 0zm-86 1zm4 0zm3 0zm11 0zm34 0zm2 0zm6 0zm-63 1zm1 0zm8 0zm39 0zm2 0zm1 0zm1 0zm-51 1zm6 0zm3 0zm42 0zm4 0zm-60 1zm7 0zm3 0zm9 0zm29 0zm9 0zm1 0zm4 0zm7 0zm-69 1zm2 0zm5 0zm1 0zm2 0zm1 0zm1 0zm3 0zm49 0zm6 0zm-66 1zm3 0zm1 0zm6 0zm6 0zm29 0zm5 0zm4 0zm-58 1zm8 0zm1 0zm1 0zm2 0zm7 0zm32 0zm7 0zm21 0zm-79 1zm4 0zm1 0zm1 0zm3 0zm1 0zm4 0zm31 0zm6 0zm2 0zm2 0zm7 0zm-59 1zm5 0zm46 0zm4 0zm-56 1zm3 0zm3 0zm38 0zm7 0zm1 0zm2 0zm2 0zm1 0zm32 0zm-91 1zm8 0zm3 0zm33 0zm1 0zm3 0zm1 0zm16 0zm53 0zm-118 1zm4 0zm3 0zm1 0zm2 0zm42 0zm1 0zm5 0zm3 0zm22 0zm14 0zm-97 1zm4 0zm7 0zm2 0zm1 0zm39 0zm4 0zm2 0zm1 0zm1 0zm-61 1zm1 0zm8 0zm4 0zm2 0zm29 0zm9 0zm4 0zm3 0zm-56 1zm5 0zm7 0zm49 0zm1 0zm11 0zm20 0zm32 0zm-129 1zm6 0zm4 0zm1 0zm47 0zm1 0zm15 0zm55 0zm30 0zm-158 1zm1 0zm4 0zm2 0zm3 0zm5 0zm39 0zm4 0zm-52 1zm1 0zm4 0zm4 0zm1 0zm1 0zm33 0zm2 0zm3 0zm3 0zm5 0zm-59 1zm6 0zm6 0zm35 0zm1 0zm2 0zm5 0zm1 0zm8 0zm-65 1zm4 0zm2 0zm1 0zm43 0zm11 0zm1 0zm8 0zm-66 1zm3 0zm39 0zm2 0zm1 0zm14 0zm12 0zm6 0zm34 0zm-116 1zm2 0zm46 0zm4 0zm5 0zm5 0zm76 0zm-141 1zm3 0zm7 0zm41 0zm1 0zm2 0zm1 0zm7 0zm44 0zm-95 1zm2 0zm42 0zm5 0zm2 0zm2 0zm1 0zm14 0zm91 0zm-163 1zm4 0zm3 0zm1 0zm36 0zm1 0zm3 0zm2 0zm1 0zm1 0zm1 0zm69 0zm-129 1zm7 0zm2 0zm1 0zm6 0zm37 0zm2 0zm1 0zm1 0zm3 0zm7 0zm2 0zm55 0zm-123 1zm2 0zm9 0zm42 0zm2 0zm14 0zm-68 1zm9 0zm1 0zm1 0zm1 0zm3 0zm34 0zm1 0zm5 0zm1 0zm2 0zm1 0zm9 0zm47 0zm40 0zm-157 1zm1 0zm6 0zm1 0zm1 0zm7 0zm33 0zm1 0zm6 0zm12 0zm3 0zm76 0zm-147 1zm4 0zm6 0zm3 0zm2 0zm37 0zm3 0zm1 0zm3 0zm-59 1zm9 0zm1 0zm2 0zm9 0zm30 0zm1 0zm7 0zm2 0zm3 0zm5 0zm47 0zm28 0zm-144 1zm7 0zm1 0zm2 0zm1 0zm2 0zm38 0zm4 0zm1 0zm5 0zm2 0zm5 0zm3 0zm-71 1zm2 0zm18 0zm2 0zm26 0zm7 0zm5 0zm3 0zm5 0zm13 0zm20 0zm26 0zm-122 1zm4 0zm2 0zm2 0zm35 0zm2 0zm2 0zm-52 1zm6 0zm5 0zm3 0zm38 0zm3 0zm1 0zm6 0zm-62 1zm9 0zm1 0zm1 0zm1 0zm4 0zm31 0zm14 0zm36 0zm-96 1zm11 0zm2 0zm34 0zm2 0zm6 0zm3 0zm13 0zm68 0zm-140 1zm8 0zm39 0zm2 0zm3 0zm1 0zm2 0zm4 0zm1 0zm7 0zm20 0zm81 0zm-168 1zm47 0zm2 0zm1 0zm1 0zm3 0zm1 0zm1 0zm46 0zm7 0zm-101 1zm2 0zm3 0zm14 0zm24 0zm1 0zm5 0zm4 0zm8 0zm61 0zm-130 1zm3 0zm5 0zm3 0zm1 0zm8 0zm33 0zm1 0zm2 0zm9 0zm-62 1zm7 0zm4 0zm5 0zm2 0zm27 0zm3 0zm5 0zm1 0zm1 0zm9 0zm3 0zm3 0zm77 0zm-147 1zm9 0zm4 0zm29 0zm2 0zm1 0zm8 0zm33 0zm-89 1zm1 0zm14 0zm2 0zm25 0zm2 0zm9 0zm2 0zm1 0zm12 0zm38 0zm30 0zm-131 1zm5 0zm1 0zm1 0zm1 0zm34 0zm2 0zm3 0zm6 0zm4 0zm13 0zm13 0zm24 0zm21 0zm-129 1zm2 0zm3 0zm42 0zm17 0zm1 0zm61 0zm-120 1zm1 0zm5 0zm5 0zm28 0zm1 0zm8 0zm37 0zm-94 1zm3 0zm1 0zm7 0zm1 0zm1 0zm1 0zm35 0zm3 0zm2 0zm5 0zm15 0zm35 0zm-110 1zm6 0zm5 0zm3 0zm2 0zm4 0zm1 0zm9 0zm8 0zm9 0zm2 0zm6 0zm16 0zm11 0zm43 0zm53 0zm-174 1zm13 0zm9 0zm10 0zm2 0zm10 0zm1 0zm1 0zm4 0zm4 0zm-51 1zm9 0zm5 0zm19 0zm1 0zm6 0zm9 0zm17 0zm66 0zm-138 1zm8 0zm4 0zm2 0zm1 0zm9 0zm13 0zm1 0zm13 0zm3 0zm1 0zm4 0zm2 0zm10 0zm38 0zm-96 1zm1 0zm2 0zm2 0zm2 0zm12 0zm4 0zm1 0zm5 0zm1 0zm1 0zm1 0zm6 0zm4 0zm1 0zm1 0zm39 0zm82 0zm19 0zm-190 1zm4 0zm1 0zm31 0zm3 0zm1 0zm11 0zm-57 1zm1 0zm7 0zm5 0zm4 0zm3 0zm4 0zm10 0zm4 0zm5 0zm4 0zm5 0zm3 0zm48 0zm7 0zm35 0zm2 0zm-144 1zm4 0zm6 0zm8 0zm21 0zm6 0zm3 0zm13 0zm-54 1zm1 0zm1 0zm7 0zm1 0zm11 0zm9 0zm3 0zm1 0zm1 0zm2 0zm1 0zm6 0zm25 0zm30 0zm-101 1zm2 0zm22 0zm3 0zm3 0zm7 0zm-47 1zm2 0zm13 0zm4 0zm3 0zm2 0zm1 0zm1 0zm7 0zm1 0zm1 0zm1 0zm2 0zm3 0zm1 0zm13 0zm3 0zm51 0zm30 0zm15 0zm-154 1zm8 0zm2 0zm9 0zm6 0zm12 0zm2 0zm1 0zm1 0zm10 0zm21 0zm98 0zm-169 1zm6 0zm7 0zm2 0zm11 0zm4 0zm3 0zm1 0zm2 0zm1 0zm2 0zm5 0zm1 0zm1 0zm4 0zm4 0zm10 0zm51 0zm1 0zm-106 1zm3 0zm1 0zm7 0zm7 0zm1 0zm3 0zm5 0zm4 0zm7 0zm3 0zm75 0zm30 0zm-147 1zm3 0zm11 0zm3 0zm3 0zm7 0zm1 0zm2 0zm2 0zm3 0zm8 0zm2 0zm14 0zm45 0zm-111 1zm33 0zm2 0zm1 0zm3 0zm2 0zm1 0zm2 0zm7 0zm68 0zm-111 1zm2 0zm4 0zm4 0zm1 0zm1 0zm4 0zm4 0zm4 0zm6 0zm2 0zm110 0zm49 0zm-198 1zm11 0zm5 0zm1 0zm6 0zm1 0zm5 0zm3 0zm3 0zm3 0zm1 0zm2 0zm2 0zm3 0zm5 0zm77 0zm36 0zm-157 1zm5 0zm3 0zm5 0zm9 0zm2 0zm3 0zm5 0zm1 0zm4 0zm4 0zm8 0zm7 0zm33 0zm5 0zm94 0zm22 0zm-211 1zm5 0zm4 0zm2 0zm1 0zm4 0zm2 0zm2 0zm2 0zm4 0zm5 0zm5 0zm4 0zm6 0zm23 0zm42 0zm41 0zm-152 1zm15 0zm6 0zm3 0zm1 0zm6 0zm2 0zm1 0zm5 0zm91 0zm92 0zm-224 1zm10 0zm4 0zm4 0zm1 0zm4 0zm4 0zm12 0zm13 0zm45 0zm39 0zm-122 1zm4 0zm2 0zm8 0zm4 0zm104 0zm-142 1zm2 0zm1 0zm4 0zm10 0zm6 0zm3 0zm9 0zm15 0zm33 0zm-83 1zm27 0zm2 0zm2 0zm7 0zm94 0zm31 0zm-146 1zm10 0zm7 0zm1 0zm2 0zm4 0zm8 0zm6 0zm5 0zm31 0zm31 0zm1 0zm50 0zm-140 1zm1 0zm4 0zm1 0zm11 0zm16 0zm39 0zm11 0zm11 0zm-91 1zm9 0zm75 0zm2 0zm-102 1zm16 0zm1 0zm2 0zm-24 1zm4 0zm1 0zm1 0zm13 0zm3 0zm9 0zm1 0zm17 0zm76 0zm10 0zm-119 1zm13 0zm1 0zm18 0zm45 0zm21 0zm-124 1zm15 0zm10 0zm4 0zm3 0zm2 0zm2 0zm20 0zm60 0zm44 0zm-138 1zm10 0zm36 0zm24 0zm23 0zm36 0zm-123 1zm3 0zm4 0zm1 0zm4 0zm4 0zm1 0zm1 0zm80 0zm-96 1zm11 0zm53 0zm30 0zm35 0zm-137 1zm1 0zm6 0zm9 0zm13 0zm28 0zm28 0zm17 0zm7 0zm1 0zm2 0zm-98 1zm2 0zm2 0zm59 0zm13 0zm15 0zm4 0zm9 0zm14 0zm34 0zm-166 1zm5 0zm1 0zm3 0zm35 0zm29 0zm15 0zm27 0zm-109 1zm3 0zm94 0zm-129 1zm24 0zm13 0zm6 0zm55 0zm5 0zm17 0zm14 0zm-106 1zm6 0zm7 0zm6 0zm3 0zm2 0zm14 0zm76 0zm-127 1zm24 0zm1 0zm1 0zm4 0zm12 0zm59 0zm8 0zm1 0zm3 0zm8 0zm6 0zm-121 1zm8 0zm42 0zm2 0zm30 0zm23 0zm12 0zm9 0zm-124 1zm10 0zm5 0zm5 0zm15 0zm58 0zm27 0zm45 0zm-184 1zm4 0zm19 0zm6 0zm6 0zm1 0zm15 0zm75 0zm1 0zm20 0zm21 0zm9 0zm-160 1zm3 0zm11 0zm1 0zm15 0zm18 0zm44 0zm21 0zm19 0zm-128 1zm5 0zm5 0zm3 0zm4 0zm3 0zm4 0zm15 0zm35 0zm7 0zm16 0zm14 0zm-111 1zm3 0zm5 0zm2 0zm7 0zm3 0zm79 0zm3 0zm-125 1zm4 0zm22 0zm5 0zm3 0zm5 0zm3 0zm3 0zm6 0zm73 0zm3 0zm2 0zm43 0zm-164 1zm31 0zm31 0zm15 0zm4 0zm1 0zm9 0zm15 0zm13 0zm3 0zm2 0zm-95 1zm6 0zm3 0zm67 0zm5 0zm1 0zm7 0zm10 0zm-111 1zm6 0zm1 0zm2 0zm3 0zm5 0zm9 0zm31 0zm32 0zm19 0zm4 0zm1 0zm-111 1zm4 0zm1 0zm3 0zm5 0zm71 0zm9 0zm14 0zm1 0zm12 0zm-133 1zm11 0zm9 0zm5 0zm69 0zm5 0zm10 0zm8 0zm-106 1zm1 0zm1 0zm6 0zm2 0zm48 0zm10 0zm24 0zm4 0zm8 0zm7 0zm6 0zm10 0zm-123 1zm7 0zm85 0zm5 0zm1 0zm5 0zm4 0zm9 0zm-128 1zm9 0zm1 0zm3 0zm5 0zm5 0zm52 0zm30 0zm2 0zm6 0zm19 0zm13 0zm-139 1zm9 0zm3 0zm1 0zm4 0zm60 0zm38 0zm7 0zm13 0zm-130 1zm7 0zm15 0zm33 0zm33 0zm4 0zm9 0zm9 0zm2 0zm4 0zm-117 1zm4 0zm1 0zm2 0zm1 0zm2 0zm5 0zm8 0zm57 0zm22 0zm6 0zm4 0zm11 0zm5 0zm17 0zm-161 1zm14 0zm2 0zm10 0zm4 0zm2 0zm3 0zm7 0zm49 0zm16 0zm18 0zm-108 1zm4 0zm3 0zm1 0zm2 0zm1 0zm7 0zm62 0zm9 0zm1 0zm3 0zm2 0zm1 0zm6 0zm5 0zm-116 1zm4 0zm2 0zm4 0zm6 0zm1 0zm89 0zm2 0zm4 0zm-107 1zm4 0zm5 0zm1 0zm3 0zm2 0zm69 0zm10 0zm7 0zm4 0zm5 0zm4 0zm-111 1zm10 0zm1 0zm66 0zm11 0zm8 0zm8 0zm4 0zm3 0zm-114 1zm2 0zm2 0zm4 0zm83 0zm2 0zm1 0zm9 0zm1 0zm12 0zm-117 1zm3 0zm1 0zm3 0zm5 0zm2 0zm2 0zm76 0zm4 0zm2 0zm5 0zm2 0zm7 0zm-125 1zm12 0zm2 0zm6 0zm73 0zm6 0zm8 0zm2 0zm1 0zm7 0zm6 0zm4 0zm8 0zm3 0zm3 0zm9 0zm-131 1zm3 0zm1 0zm1 0zm80 0zm11 0zm9 0zm4 0zm2 0zm18 0zm7 0zm-147 1zm12 0zm3 0zm1 0zm2 0zm3 0zm67 0zm8 0zm1 0zm1 0zm2 0zm2 0zm2 0zm7 0zm3 0zm2 0zm3 0zm5 0zm-117 1zm21 0zm43 0zm10 0zm3 0zm7 0zm11 0zm5 0zm3 0zm5 0zm10 0zm-143 1zm34 0zm68 0zm11 0zm1 0zm5 0zm2 0zm2 0zm6 0zm15 0zm11 0zm6 0zm-153 1zm12 0zm8 0zm1 0zm3 0zm3 0zm2 0zm3 0zm76 0zm9 0zm7 0zm16 0zm2 0zm27 0zm-182 1zm41 0zm12 0zm42 0zm15 0zm6 0zm5 0zm1 0zm18 0zm5 0zm5 0zm-122 1zm2 0zm5 0zm79 0zm1 0zm8 0zm5 0zm2 0zm1 0zm6 0zm2 0zm3 0zm4 0zm4 0zm4 0zm-126 1zm10 0zm7 0zm55 0zm25 0zm2 0zm5 0zm4 0zm4 0zm7 0zm14 0zm-127 1zm2 0zm8 0zm14 0zm49 0zm1 0zm9 0zm2 0zm5 0zm2 0zm5 0zm8 0zm4 0zm2 0zm2 0zm4 0zm2 0zm4 0zm7 0zm-136 1zm8 0zm2 0zm20 0zm33 0zm15 0zm11 0zm3 0zm4 0zm19 0zm9 0zm5 0zm-157 1zm35 0zm2 0zm4 0zm6 0zm61 0zm10 0zm4 0zm3 0zm6 0zm4 0zm7 0zm2 0zm1 0zm1 0zm22 0zm-168 1zm21 0zm2 0zm6 0zm3 0zm7 0zm1 0zm1 0zm2 0zm3 0zm25 0zm46 0zm10 0zm7 0zm3 0zm1 0zm2 0zm19 0zm-124 1zm5 0zm3 0zm7 0zm2 0zm66 0zm2 0zm8 0zm1 0zm1 0zm4 0zm7 0zm3 0zm9 0zm12 0zm-129 1zm79 0zm2 0zm4 0zm2 0zm5 0zm6 0zm4 0zm3 0zm6 0zm-111 1zm2 0zm6 0zm65 0zm23 0zm6 0zm4 0zm3 0zm5 0zm7 0zm7 0zm59 0zm-193 1zm11 0zm2 0zm70 0zm14 0zm14 0zm5 0zm1 0zm1 0zm5 0zm-127 1zm6 0zm1 0zm3 0zm3 0zm3 0zm78 0zm3 0zm2 0zm3 0zm4 0zm1 0zm16 0zm61 0zm-210 1zm40 0zm3 0zm5 0zm72 0zm2 0zm2 0zm3 0zm2 0zm1 0zm4 0zm6 0zm4 0zm1 0zm4 0zm1 0zm32 0zm-154 1zm10 0zm9 0zm66 0zm9 0zm1 0zm8 0zm4 0zm2 0zm6 0zm4 0zm2 0zm3 0zm6 0zm-145 1zm18 0zm6 0zm11 0zm53 0zm16 0zm3 0zm5 0zm6 0zm5 0zm7 0zm1 0zm4 0zm11 0zm6 0zm8 0zm-173 1zm33 0zm3 0zm2 0zm11 0zm23 0zm53 0zm2 0zm5 0zm1 0zm3 0zm2 0zm1 0zm2 0zm9 0zm-126 1zm20 0zm75 0zm2 0zm3 0zm3 0zm5 0zm3 0zm2 0zm6 0zm2 0zm4 0zm2 0zm3 0zm2 0zm9 0zm-148 1zm16 0zm14 0zm59 0zm11 0zm1 0zm4 0zm2 0zm3 0zm2 0zm5 0zm7 0zm7 0zm8 0zm2 0zm-125 1zm16 0zm55 0zm13 0zm10 0zm2 0zm38 0zm2 0zm-159 1zm13 0zm8 0zm91 0zm3 0zm3 0zm3 0zm4 0zm1 0zm6 0zm3 0zm1 0zm8 0zm11 0zm-143 1zm14 0zm5 0zm6 0zm19 0zm26 0zm22 0zm11 0zm5 0zm5 0zm1 0zm5 0zm6 0zm-134 1zm17 0zm12 0zm13 0zm44 0zm7 0zm11 0zm1 0zm7 0zm2 0zm4 0zm20 0zm-119 1zm10 0zm2 0zm62 0zm1 0zm9 0zm1 0zm12 0zm11 0zm1 0zm3 0zm2 0zm18 0zm-136 1zm5 0zm7 0zm3 0zm61 0zm27 0zm7 0zm1 0zm3 0zm17 0zm8 0zm11 0zm-178 1zm20 0zm9 0zm9 0zm6 0zm7 0zm71 0zm1 0zm4 0zm5 0zm6 0zm2 0zm4 0zm2 0zm1 0zm2 0zm-124 1zm1 0zm91 0zm24 0zm2 0zm4 0zm4 0zm70 0zm-200 1zm6 0zm4 0zm5 0zm1 0zm4 0zm74 0zm8 0zm8 0zm11 0zm5 0zm5 0zm5 0zm16 0zm-173 1zm17 0zm6 0zm6 0zm13 0zm75 0zm13 0zm2 0zm3 0zm5 0zm1 0zm1 0zm8 0zm6 0zm6 0zm3 0zm-161 1zm120 0zm3 0zm1 0zm2 0zm2 0zm1 0zm1 0zm3 0zm11 0zm14 0zm-151 1zm21 0zm18 0zm37 0zm18 0zm14 0zm14 0zm2 0zm5 0zm7 0zm2 0zm2 0zm-151 1zm1 0zm25 0zm1 0zm4 0zm3 0zm1 0zm2 0zm2 0zm63 0zm7 0zm5 0zm2 0zm11 0zm10 0zm6 0zm7 0zm5 0zm-129 1zm3 0zm3 0zm1 0zm1 0zm1 0zm5 0zm2 0zm1 0zm9 0zm79 0zm1 0zm4 0zm1 0zm5 0zm3 0zm5 0zm1 0zm1 0zm3 0zm-146 1zm10 0zm16 0zm55 0zm23 0zm5 0zm4 0zm5 0zm6 0zm1 0zm6 0zm2 0zm8 0zm2 0zm1 0zm-133 1zm6 0zm10 0zm3 0zm63 0zm10 0zm19 0zm1 0zm27 0zm5 0zm-130 1zm13 0zm61 0zm11 0zm2 0zm2 0zm20 0zm3 0zm1 0zm2 0zm1 0zm19 0zm-151 1zm5 0zm5 0zm11 0zm12 0zm50 0zm10 0zm13 0zm7 0zm2 0zm2 0zm3 0zm1 0zm2 0zm14 0zm-122 1zm1 0zm6 0zm86 0zm4 0zm4 0zm1 0zm4 0zm7 0zm1 0zm15 0zm16 0zm-158 1zm21 0zm85 0zm3 0zm12 0zm1 0zm16 0zm-152 1zm4 0zm20 0zm3 0zm73 0zm4 0zm14 0zm1 0zm2 0zm3 0zm2 0zm6 0zm1 0zm2 0zm3 0zm-115 1zm8 0zm74 0zm10 0zm8 0zm4 0zm1 0zm11 0zm26 0zm-155 1zm98 0zm7 0zm11 0zm8 0zm5 0zm27 0zm-139 1zm16 0zm58 0zm24 0zm1 0zm3 0zm1 0zm1 0zm-110 1zm4 0zm12 0zm1 0zm82 0zm19 0zm19 0zm-129 1zm2 0zm100 0zm1 0zm10 0zm7 0zm-153 1zm12 0zm3 0zm108 0zm19 0zm4 0zm4 0zm-136 1zm4 0zm3 0zm104 0zm13 0zm12 0zm-135 1zm25 0zm93 0zm20 0zm1 0zm2 0zm-78 1zm39 0zm2 0zm7 0zm10 0zm1 0zm2 0zm-141 1zm3 0zm14 0zm20 0zm8 0zm86 0zm10 0zm15 0zm1 0zm18 0zm-173 1zm1 0zm41 0zm91 0zm3 0zm1 0zm13 0zm-152 1zm9 0zm30 0zm18 0zm61 0zm11 0zm5 0zm5 0zm8 0zm2 0zm-140 1zm17 0zm21 0zm50 0zm7 0zm3 0zm26 0zm8 0zm-137 1zm13 0zm27 0zm68 0zm2 0zm2 0zm2 0zm1 0zm15 0zm1 0zm5 0zm13 0zm-44 1zm21 0zm4 0zm1 0zm22 0zm-113 1zm83 0zm15 0zm25 0zm-45 1zm6 0zm9 0zm29 0zm-87 1zm40 0zm30 0zm-126 1zm1 0zm74 0zm26 0zm9 0zm8 0zm4 0zm4 0zm9 0zm-133 1zm5 0zm11 0zm4 0zm83 0zm7 0zm2 0zm33 0zm-129 1zm53 0zm16 0zm17 0zm5 0zm12 0zm-144 1zm57 0zm69 0zm8 0zm-134 1zm43 0zm1 0zm89 0zm21 0zm4 0zm-137 1zm11 0zm7 0zm106 0zm3 0zm-16 1zm6 0zm-109 1zm4 0zm84 0zm8 0zm-109 1zm13 0zm92 0zm9 0zm18 0zm-108 1zm97 0zm-16 1zm1 0zm-92 1zm126 0zm-113 1zm57 0zm29 0zm18 0zm-147 1zm1 0zm14 0zm1 0zm7 0zm1 0zm1 0zm2 0zm2 0zm3 0zm5 0zm2 0zm1 0zm3 0zm2 0zm2 0zm4 0zm9 0zm4 0zm2 0zm2 0zm3 0zm14 0zm18 0zm2 0zm2 0zm1 0zm2 0zm5 0zm2 0zm1 0zm1 0zm2 0zm1 0zm8 0zm3 0zm1 0zm1 0zm2 0zm1 0zm2 0zm1 0zm3 0zm2 0zm3 0zm3 0zm1 0zm4 0zm1 0zm1 0zm1 0zm1 0zm12 0zm13 0zm13 0zm14 0z"/>
<path stroke="#20409c" d="M775 506zm2 0zm-2 1zm0 1zm0 1zm-11 1zm10 0zm3 2zm3 0zm2 0zm1 0zm-12 1zm1 0zm12 0zm-19 1zm7 0zm7 0zm4 0zm3 0zm-21 1zm1 0zm16 0zm2 0zm3 0zm1 0zm-21 1zm4 0zm8 0zm7 0zm1 0zm1 0zm-24 1zm1 0zm1 0zm4 0zm10 0zm3 0zm2 0zm3 0zm3 0zm1 0zm-29 1zm1 0zm21 0zm1 0zm5 0zm1 0zm-23 1zm1 0zm11 0zm6 0zm1 0zm2 0zm1 0zm1 0zm-10 1zm2 0zm7 0zm-28 1zm2 0zm0 1zm19 0zm2 0zm1 0zm2 0zm1 0zm-34 1zm37 0zm-37 1zm9 0zm3 0zm-6 1zm1 0zm2 0zm-5 1zm26 0zm4 0zm3 0zm3 0zm-8 1zm2 0zm3 0zm3 0zm2 0zm-37 1zm6 0zm23 0zm8 0zm-6 1zm1 0zm3 0zm3 0zm-38 1zm30 0zm1 0zm5 0zm1 0zm-33 1zm25 0zm-25 1zm27 0zm2 0zm-30 1zm24 0zm2 0zm2 0zm1 0zm3 0zm2 0zm-2 1zm1 0zm-38 1zm5 0zm1 0zm1 0zm26 0zm4 0zm-37 1zm30 0zm1 0zm6 0zm-41 1zm7 0zm4 0zm1 0zm23 0zm5 0zm-40 1zm7 0zm6 0zm28 0zm-38 1zm4 0zm-4 1zm1 0zm37 0zm1 0zm-38 1zm6 0zm32 0zm-52 1zm14 0zm6 0zm-19 1zm11 0zm1 0zm2 0zm1 0zm4 0zm29 0zm1 0zm-50 1zm1 0zm13 0zm-4 1zm5 0zm1 0zm1 0zm-9 1zm1 0zm5 0zm1 0zm3 0zm-9 1zm5 0zm2 0zm33 0zm-33 1zm33 0zm-30 1zm-1 1zm1 0zm-1 1zm30 0zm-30 1zm29 0zm3 0zm-32 1zm3 0zm5 0zm-8 1zm2 0zm5 0zm2 0zm20 0zm-31 1zm2 0zm11 0zm16 0zm1 0zm1 0zm-32 1zm10 0zm1 0zm19 0zm3 0zm-34 1zm4 0zm1 0zm4 0zm1 0zm23 0zm-22 1zm1 0zm20 0zm-33 1zm3 0zm1 0zm3 0zm2 0zm2 0zm22 0zm-28 1zm3 0zm5 0zm20 0zm-30 1zm-1 1zm12 0zm-12 1zm13 0zm16 0zm1 0zm-23 1zm24 0zm1 0zm1 0zm-33 1zm3 0zm11 0zm15 0zm4 0zm-32 1zm7 0zm-3 1zm3 0zm18 0zm-20 1zm20 0zm-19 1zm2 0zm10 0zm2 0zm3 0zm4 0zm1 0zm10 0zm-35 1zm1 0zm13 0zm5 0zm4 0zm4 0zm1 0zm1 0zm4 0zm2 0zm-34 1zm12 0zm1 0zm2 0zm2 0zm1 0zm8 0zm1 0zm5 0zm1 0zm1 0zm-31 1zm1 0zm2 0zm2 0zm7 0zm-9 1zm1 0zm4 0zm14 0zm1 0zm-24 1zm2 0zm7 0zm1 0zm13 0zm-23 1zm1 0zm1 0zm3 0zm2 0zm2 0zm4 0zm9 0zm-26 1zm1 0zm7 0zm4 0zm3 0zm-11 1zm1 0zm3 0zm5 0zm3 0zm-12 1zm4 0zm3 0zm2 0zm-4 1zm4 0zm1 0zm5 0zm-9 1zm2 0zm2 0zm2 0zm4 0zm-9 1zm3 0zm6 0zm3 0zm-14 1zm1 0zm10 0zm-11 1zm1 0zm1 0zm-1 1zm1 0zm2 0zm12 0zm1 0zm-2 1zm2 0zm-10 1zm10 0zm-10 1zm-1 1zm1 0zm-2 1zm2 0zm11 2zm1 0z"/>
<path stroke="#2a78cc" d="M774 509zm1 1zm2 3zm-3 1zm2 0zm1 0zm3 0zm-4 1zm1 0zm1 0zm5 0zm-11 1zm5 0zm1 0zm0 1zm3 0zm1 0zm-15 1zm4 0zm1 0zm7 0zm3 0zm5 0zm3 0zm-22 1zm14 0zm3 0zm1 0zm-23 1zm6 0zm1 0zm15 0zm2 0zm-25 1zm8 0zm1 0zm9 0zm1 0zm1 0zm3 0zm1 0zm-20 1zm5 0zm10 0zm4 0zm-13 1zm13 0zm4 0zm1 0zm2 0zm-26 1zm1 0zm18 0zm3 0zm6 0zm1 0zm-28 1zm1 0zm19 0zm2 0zm6 0zm1 0zm-34 1zm6 0zm19 0zm2 0zm3 0zm3 0zm-34 1zm1 0zm6 0zm19 1zm2 0zm8 0zm-35 1zm5 0zm1 0zm30 0zm-35 2zm5 0zm4 0zm-10 1zm2 0zm3 0zm-1 1zm-6 1zm7 0zm-7 1zm28 0zm-24 1zm1 0zm-2 1zm6 0zm24 0zm-18 1zm12 0zm1 0zm6 0zm1 0zm-30 1zm20 0zm4 0zm-25 1zm22 0zm8 0zm0 1zm-36 1zm36 0zm-49 1zm47 0zm1 0zm-30 1zm-9 1zm39 1zm1 0zm-34 1zm4 0zm-5 1zm3 0zm2 0zm30 1zm-1 1zm1 0zm1 0zm-30 1zm0 1zm28 0zm-29 1zm4 0zm1 0zm4 0zm-7 1zm2 1zm1 0zm24 0zm-32 1zm2 0zm4 0zm2 0zm3 0zm2 0zm-14 1zm1 0zm1 0zm8 0zm20 0zm-31 1zm3 0zm2 0zm-1 1zm4 1zm23 0zm-28 1zm9 0zm1 0zm18 0zm-28 1zm2 0zm2 0zm23 0zm-25 1zm16 0zm-17 1zm1 0zm6 0zm14 0zm-23 1zm1 0zm6 0zm2 0zm5 0zm1 0zm14 0zm-20 1zm2 0zm14 0zm3 0zm-4 1zm-6 1zm2 0zm3 0zm-18 1zm4 0zm13 0zm-17 1zm5 0zm11 0zm2 0zm1 0zm5 0zm-19 1zm1 0zm12 0zm-14 1zm9 0zm10 0zm-10 1zm6 0zm4 0zm-11 1zm1 1zm9 0zm-15 1zm-3 1zm8 1zm-5 1zm5 0zm1 0zm7 1zm-11 2zm1 0zm-1 1zm13 2z"/>
<path stroke="#38aede" d="M775 511zm-1 2zm6 0zm1 0zm1 0zm-1 1zm-8 1zm2 0zm-9 1zm7 0zm1 0zm-3 1zm2 0zm-7 1zm-2 1zm3 0zm4 0zm-5 1zm1 0zm5 0zm1 0zm6 0zm7 0zm-7 1zm-7 1zm7 0zm1 1zm1 0zm2 0zm8 0zm-16 1zm16 0zm-25 1zm6 0zm19 0zm1 0zm2 0zm-23 1zm13 0zm-15 1zm1 0zm-1 1zm2 0zm10 0zm4 0zm1 0zm-23 1zm0 1zm7 0zm2 0zm8 0zm-13 1zm6 0zm-12 2zm1 0zm5 0zm20 0zm4 0zm-29 1zm24 0zm-25 1zm1 0zm14 1zm12 0zm-24 1zm1 0zm22 0zm5 0zm2 0zm-30 1zm2 0zm10 0zm9 0zm-22 1zm4 0zm1 0zm-3 1zm1 0zm2 0zm8 0zm9 0zm5 0zm-24 1zm21 0zm2 0zm-22 1zm19 1zm-22 1zm1 0zm20 0zm-21 1zm1 0zm1 4zm-1 1zm25 0zm1 1zm1 0zm-21 1zm17 1zm1 0zm-21 1zm1 0zm22 0zm-24 1zm21 0zm-26 1zm14 0zm-4 1zm1 0zm14 0zm-15 1zm13 0zm-12 1zm-8 1zm8 0zm16 0zm-25 1zm1 0zm1 0zm4 0zm4 0zm-4 1zm3 0zm-11 1zm1 0zm4 0zm7 0zm-12 1zm7 0zm10 0zm2 0zm1 0zm6 0zm1 0zm1 0zm-21 1zm11 0zm1 0zm3 0zm3 0zm1 0zm-11 1zm5 0zm1 0zm-9 1zm2 0zm2 0zm2 0zm4 0zm-14 1zm12 0zm-10 1zm10 0zm-9 1zm15 0zm1 0zm-15 1zm2 0zm9 0zm1 0zm3 0zm-4 1zm1 0zm-7 2zm1 0zm8 0zm-9 4zm-4 3zm1 2z"/>
<path stroke="#3cc6b4" d="M776 511zm-1 1zm1 0zm-4 5zm6 1zm-13 1zm13 0zm-13 1zm8 1zm7 3zm3 0zm-2 1zm2 0zm7 0zm-18 1zm9 1zm-11 1zm9 0zm1 0zm4 0zm-15 1zm3 0zm2 0zm5 0zm1 0zm5 0zm3 0zm1 0zm-16 1zm6 0zm7 0zm3 0zm-9 1zm4 0zm2 0zm1 0zm-19 1zm2 0zm3 0zm9 0zm3 0zm1 0zm-3 1zm3 0zm-25 1zm26 1zm-18 1zm14 0zm2 1zm1 0zm-16 1zm4 0zm17 0zm1 0zm-22 1zm6 0zm-9 1zm21 1zm3 0zm-7 1zm2 0zm1 0zm-20 1zm18 0zm-19 1zm1 1zm2 0zm18 0zm-23 1zm28 0zm-27 1zm25 0zm2 0zm-27 1zm27 0zm-6 1zm2 0zm2 0zm-21 1zm1 0zm-3 1zm3 0zm1 0zm3 2zm1 0zm5 0zm6 0zm4 0zm-23 1zm14 0zm1 0zm6 0zm-13 1zm-2 1zm15 0zm-13 1zm1 0zm10 0zm2 0zm-15 1zm2 0zm1 0zm1 0zm7 0zm4 0zm1 0zm-6 1zm1 0zm5 0zm-20 1zm15 0zm2 0zm-19 1zm2 0zm15 0zm4 0zm-20 1zm14 0zm3 0zm-24 1zm7 0zm1 0zm6 0zm6 0zm1 0zm1 0zm1 0zm2 0zm1 0zm1 0zm-13 1zm1 0zm4 0zm5 0zm1 0zm1 0zm-8 1zm6 0zm-6 1zm1 0zm1 0zm3 0zm-13 1zm2 0zm9 0zm1 0zm-12 1zm2 0zm5 0zm-3 2zm0 1zm12 0zm0 1zm0 1zm0 1z"/>
<path stroke="#46b850" d="M775 513zm-1 4zm1 0zm1 0zm-2 1zm3 0zm-3 1zm3 0zm0 1zm-3 1zm1 0zm1 0zm1 0zm1 0zm-5 1zm1 0zm1 0zm1 0zm1 0zm1 0zm-5 1zm1 0zm2 0zm2 0zm-5 1zm1 0zm2 0zm2 0zm1 0zm-6 1zm1 0zm5 0zm1 0zm-6 1zm6 0zm1 0zm1 0zm-10 1zm1 0zm1 0zm4 0zm1 0zm1 0zm2 0zm1 0zm-11 1zm1 0zm1 0zm8 0zm1 0zm-8 1zm7 0zm2 0zm-15 1zm6 0zm3 0zm4 0zm1 0zm1 0zm3 0zm1 0zm-10 1zm3 0zm1 0zm1 0zm-14 1zm5 0zm1 0zm3 0zm1 0zm5 0zm-16 1zm2 0zm1 0zm1 0zm1 0zm6 0zm1 0zm1 0zm3 0zm1 0zm-4 1zm1 0zm1 0zm1 0zm1 0zm-17 1zm2 0zm5 0zm1 0zm7 0zm1 0zm1 0zm-15 1zm7 0zm5 0zm3 0zm2 0zm-16 1zm6 0zm4 0zm2 0zm1 0zm-13 1zm6 0zm4 0zm2 0zm0 1zm8 0zm2 0zm-23 1zm2 0zm1 0zm10 0zm1 0zm8 0zm-25 1zm2 0zm3 0zm2 0zm1 0zm1 0zm1 0zm6 0zm1 0zm1 0zm7 0zm-24 1zm1 0zm1 0zm15 0zm3 0zm1 0zm3 0zm1 0zm-24 1zm1 0zm1 0zm6 0zm7 0zm-17 1zm1 0zm20 0zm3 0zm1 0zm-26 1zm4 0zm13 0zm1 0zm1 0zm3 0zm1 0zm1 0zm1 0zm-25 1zm1 0zm1 0zm17 0zm1 0zm1 0zm1 0zm3 0zm-25 1zm1 0zm1 0zm1 0zm1 0zm1 0zm13 0zm2 0zm1 0zm1 0zm1 0zm-23 1zm1 0zm2 0zm1 0zm2 0zm13 0zm3 0zm2 0zm1 0zm-24 1zm1 0zm1 0zm1 0zm1 0zm1 0zm5 0zm7 0zm3 0zm4 0zm-25 1zm1 0zm1 0zm3 0zm1 0zm1 0zm13 0zm1 0zm1 0zm3 0zm-23 1zm5 0zm6 0zm7 0zm1 0zm1 0zm1 0zm-21 1zm1 0zm4 0zm1 0zm3 0zm2 0zm6 0zm2 0zm2 0zm1 0zm-14 1zm2 0zm4 0zm3 0zm-7 1zm1 0zm4 0zm1 0zm1 0zm-9 1zm1 0zm1 0zm2 0zm1 0zm1 0zm4 0zm1 0zm-10 1zm4 0zm1 0zm1 0zm2 0zm1 0zm1 0zm-13 1zm3 0zm1 0zm3 0zm1 0zm3 0zm-7 1zm1 0zm1 0zm2 0zm1 0zm4 0zm-13 1zm1 0zm2 0zm2 0zm1 0zm1 0zm6 0zm1 0zm-20 1zm7 0zm6 0zm1 0zm5 0zm1 0zm-20 1zm7 0zm6 0zm2 0zm3 0zm1 0zm-18 1zm6 0zm4 0zm1 0zm1 0zm2 0zm3 0zm1 0zm1 0zm-10 1zm-1 1zm1 0zm-6 3zm3 1zm1 0zm1 0zm-4 1zm1 0zm1 0zm1 0zm1 0zm-1 1zm1 0zm11 2zm0 1z"/>
<path stroke="#96d038" d="M775 518zm1 0zm-1 1zm1 0zm-1 1zm1 0zm1 3zm0 2zm1 0zm-5 1zm2 0zm1 0zm1 0zm1 0zm-3 1zm1 0zm1 0zm-2 1zm1 0zm0 1zm7 0zm-7 1zm1 0zm-1 1zm-7 2zm6 0zm2 0zm1 0zm-9 1zm1 0zm1 0zm2 0zm1 0zm1 0zm1 0zm1 0zm1 0zm1 0zm1 0zm-7 1zm1 0zm3 0zm1 0zm2 0zm1 0zm1 0zm-10 1zm2 0zm4 0zm1 0zm1 0zm1 0zm-8 1zm5 0zm-6 1zm1 0zm5 0zm1 0zm1 0zm-7 1zm5 0zm2 0zm1 0zm1 0zm10 0zm-21 1zm7 0zm1 0zm2 0zm-11 1zm1 0zm7 0zm1 0zm1 0zm1 0zm-10 1zm1 0zm1 0zm1 0zm1 0zm2 0zm5 0zm1 0zm0 1zm5 0zm1 0zm-20 1zm1 0zm1 0zm1 0zm5 0zm6 0zm6 0zm-18 1zm11 0zm-11 1zm4 0zm7 0zm1 0zm1 0zm-12 1zm1 1zm1 0zm1 0zm1 0zm3 0zm1 0zm1 0zm1 0zm1 0zm1 0zm-10 1zm2 0zm2 0zm1 0zm1 0zm1 0zm1 0zm-8 1zm4 0zm1 0zm1 0zm4 0zm-10 1zm3 0zm1 0zm2 0zm5 0zm-10 1zm1 0zm5 0zm1 0zm1 0zm1 0zm0 1zm-5 2zm4 0zm1 0zm1 0zm-7 1zm1 0zm1 0zm4 0zm-4 1zm3 0zm1 0zm-6 2zm-2 1zm1 0zm1 0zm1 0zm-3 1zm2 0zm1 0zm1 0zm-4 1zm1 0zm-1 1zm1 0z"/>
<path stroke="#e6e032" d="M777 529zm0 2zm0 1zm2 3zm-7 2zm7 0zm1 0zm-8 2zm6 3zm1 0zm2 0zm-8 1zm1 0zm1 0zm1 0zm2 0zm4 0zm-8 1zm1 0zm1 0zm2 0zm1 0zm3 0zm-10 1zm1 0zm1 0zm1 0zm1 0zm2 0zm-5 1zm5 0zm1 0zm2 0zm-8 1zm1 0zm1 0zm5 0zm1 0zm-4 1zm1 0zm-3 1zm8 0zm-8 1zm1 0zm6 0zm1 0zm-8 1zm1 0zm5 0zm1 0zm1 0zm1 0zm-7 10z"/>
<path stroke="#f5a020" d="M780 542zm-1 1zm2 0zm-8 1zm7 0zm1 0zm-4 1zm2 0zm1 0zm1 0zm-5 1zm1 0zm-1 1zm1 0zm1 0zm1 0z"/>
<path stroke="#ec5a18" d="M780 543zm0 3z"/>
</g>
<rect x="838.9" y="520.7" width="120" height="38.5" fill="#fff" opacity="0.8"/>
<rect x="743.8" y="442.6" width="268.3" height="275.6" fill="none" stroke="#1c1c1c" stroke-width="1.4"/>
<line x1="772.1" y1="718.2" x2="772.1" y2="721.8" stroke="#1c1c1c" stroke-width="1.3" stroke-linecap="butt"/>
<line x1="769" y1="718.2" x2="769" y2="721.8" stroke="#1c1c1c" stroke-width="1.3" stroke-linecap="butt"/>
<line x1="765.8" y1="718.2" x2="765.8" y2="721.8" stroke="#1c1c1c" stroke-width="1.3" stroke-linecap="butt"/>
<line x1="762.7" y1="718.2" x2="762.7" y2="721.8" stroke="#1c1c1c" stroke-width="1.3" stroke-linecap="butt"/>
<line x1="759.5" y1="718.2" x2="759.5" y2="723.4" stroke="#1c1c1c" stroke-width="1.5" stroke-linecap="butt"/>
<line x1="756.4" y1="718.2" x2="756.4" y2="721.8" stroke="#1c1c1c" stroke-width="1.3" stroke-linecap="butt"/>
<line x1="753.2" y1="718.2" x2="753.2" y2="721.8" stroke="#1c1c1c" stroke-width="1.3" stroke-linecap="butt"/>
<line x1="750.1" y1="718.2" x2="750.1" y2="721.8" stroke="#1c1c1c" stroke-width="1.3" stroke-linecap="butt"/>
<line x1="746.9" y1="718.2" x2="746.9" y2="721.8" stroke="#1c1c1c" stroke-width="1.3" stroke-linecap="butt"/>
<line x1="743.8" y1="718.2" x2="743.8" y2="726.2" stroke="#1c1c1c" stroke-width="2.2" stroke-linecap="butt"/>
<line x1="778.5" y1="718.2" x2="778.5" y2="721.8" stroke="#1c1c1c" stroke-width="1.3" stroke-linecap="butt"/>
<line x1="781.6" y1="718.2" x2="781.6" y2="721.8" stroke="#1c1c1c" stroke-width="1.3" stroke-linecap="butt"/>
<line x1="784.8" y1="718.2" x2="784.8" y2="721.8" stroke="#1c1c1c" stroke-width="1.3" stroke-linecap="butt"/>
<line x1="788" y1="718.2" x2="788" y2="721.8" stroke="#1c1c1c" stroke-width="1.3" stroke-linecap="butt"/>
<line x1="791.1" y1="718.2" x2="791.1" y2="723.4" stroke="#1c1c1c" stroke-width="1.5" stroke-linecap="butt"/>
<line x1="794.3" y1="718.2" x2="794.3" y2="721.8" stroke="#1c1c1c" stroke-width="1.3" stroke-linecap="butt"/>
<line x1="797.5" y1="718.2" x2="797.5" y2="721.8" stroke="#1c1c1c" stroke-width="1.3" stroke-linecap="butt"/>
<line x1="800.7" y1="718.2" x2="800.7" y2="721.8" stroke="#1c1c1c" stroke-width="1.3" stroke-linecap="butt"/>
<line x1="803.8" y1="718.2" x2="803.8" y2="721.8" stroke="#1c1c1c" stroke-width="1.3" stroke-linecap="butt"/>
<line x1="807" y1="718.2" x2="807" y2="726.2" stroke="#1c1c1c" stroke-width="2.2" stroke-linecap="butt"/>
<rect x="771.4" y="718.2" width="7.8" height="5.2" fill="#1c1c1c"/>
<line x1="772.3" y1="718.2" x2="772.3" y2="726.2" stroke="#1c1c1c" stroke-width="1.5" stroke-linecap="butt"/>
<line x1="774.3" y1="718.2" x2="774.3" y2="726.2" stroke="#1c1c1c" stroke-width="1.5" stroke-linecap="butt"/>
<line x1="776.3" y1="718.2" x2="776.3" y2="726.2" stroke="#1c1c1c" stroke-width="1.5" stroke-linecap="butt"/>
<line x1="778.3" y1="718.2" x2="778.3" y2="726.2" stroke="#1c1c1c" stroke-width="1.5" stroke-linecap="butt"/>
<line x1="828.5" y1="718.2" x2="828.5" y2="721.8" stroke="#1c1c1c" stroke-width="1.3" stroke-linecap="butt"/>
<line x1="841" y1="718.2" x2="841" y2="721.8" stroke="#1c1c1c" stroke-width="1.3" stroke-linecap="butt"/>
<line x1="849.9" y1="718.2" x2="849.9" y2="721.8" stroke="#1c1c1c" stroke-width="1.3" stroke-linecap="butt"/>
<line x1="856.8" y1="718.2" x2="856.8" y2="723.4" stroke="#1c1c1c" stroke-width="1.5" stroke-linecap="butt"/>
<line x1="862.5" y1="718.2" x2="862.5" y2="721.8" stroke="#1c1c1c" stroke-width="1.3" stroke-linecap="butt"/>
<line x1="867.3" y1="718.2" x2="867.3" y2="721.8" stroke="#1c1c1c" stroke-width="1.3" stroke-linecap="butt"/>
<line x1="871.4" y1="718.2" x2="871.4" y2="721.8" stroke="#1c1c1c" stroke-width="1.3" stroke-linecap="butt"/>
<line x1="875" y1="718.2" x2="875" y2="721.8" stroke="#1c1c1c" stroke-width="1.3" stroke-linecap="butt"/>
<line x1="878.3" y1="718.2" x2="878.3" y2="726.2" stroke="#1c1c1c" stroke-width="2.2" stroke-linecap="butt"/>
<line x1="898.6" y1="718.2" x2="898.6" y2="721.8" stroke="#1c1c1c" stroke-width="1.3" stroke-linecap="butt"/>
<line x1="910.5" y1="718.2" x2="910.5" y2="721.8" stroke="#1c1c1c" stroke-width="1.3" stroke-linecap="butt"/>
<line x1="918.9" y1="718.2" x2="918.9" y2="721.8" stroke="#1c1c1c" stroke-width="1.3" stroke-linecap="butt"/>
<line x1="925.4" y1="718.2" x2="925.4" y2="723.4" stroke="#1c1c1c" stroke-width="1.5" stroke-linecap="butt"/>
<line x1="930.7" y1="718.2" x2="930.7" y2="721.8" stroke="#1c1c1c" stroke-width="1.3" stroke-linecap="butt"/>
<line x1="935.3" y1="718.2" x2="935.3" y2="721.8" stroke="#1c1c1c" stroke-width="1.3" stroke-linecap="butt"/>
<line x1="939.2" y1="718.2" x2="939.2" y2="721.8" stroke="#1c1c1c" stroke-width="1.3" stroke-linecap="butt"/>
<line x1="942.6" y1="718.2" x2="942.6" y2="721.8" stroke="#1c1c1c" stroke-width="1.3" stroke-linecap="butt"/>
<line x1="945.7" y1="718.2" x2="945.7" y2="726.2" stroke="#1c1c1c" stroke-width="2.2" stroke-linecap="butt"/>
<line x1="965.7" y1="718.2" x2="965.7" y2="721.8" stroke="#1c1c1c" stroke-width="1.3" stroke-linecap="butt"/>
<line x1="977.4" y1="718.2" x2="977.4" y2="721.8" stroke="#1c1c1c" stroke-width="1.3" stroke-linecap="butt"/>
<line x1="985.7" y1="718.2" x2="985.7" y2="721.8" stroke="#1c1c1c" stroke-width="1.3" stroke-linecap="butt"/>
<line x1="992.1" y1="718.2" x2="992.1" y2="723.4" stroke="#1c1c1c" stroke-width="1.5" stroke-linecap="butt"/>
<line x1="997.4" y1="718.2" x2="997.4" y2="721.8" stroke="#1c1c1c" stroke-width="1.3" stroke-linecap="butt"/>
<line x1="1001.8" y1="718.2" x2="1001.8" y2="721.8" stroke="#1c1c1c" stroke-width="1.3" stroke-linecap="butt"/>
<line x1="1005.7" y1="718.2" x2="1005.7" y2="721.8" stroke="#1c1c1c" stroke-width="1.3" stroke-linecap="butt"/>
<line x1="1009.1" y1="718.2" x2="1009.1" y2="721.8" stroke="#1c1c1c" stroke-width="1.3" stroke-linecap="butt"/>
<line x1="1012.1" y1="718.2" x2="1012.1" y2="726.2" stroke="#1c1c1c" stroke-width="2.2" stroke-linecap="butt"/>
<line x1="740.2" y1="687.4" x2="743.8" y2="687.4" stroke="#1c1c1c" stroke-width="1.3" stroke-linecap="butt"/>
<line x1="740.2" y1="690.6" x2="743.8" y2="690.6" stroke="#1c1c1c" stroke-width="1.3" stroke-linecap="butt"/>
<line x1="740.2" y1="693.9" x2="743.8" y2="693.9" stroke="#1c1c1c" stroke-width="1.3" stroke-linecap="butt"/>
<line x1="740.2" y1="697.1" x2="743.8" y2="697.1" stroke="#1c1c1c" stroke-width="1.3" stroke-linecap="butt"/>
<line x1="738.6" y1="700.3" x2="743.8" y2="700.3" stroke="#1c1c1c" stroke-width="1.5" stroke-linecap="butt"/>
<line x1="740.2" y1="703.5" x2="743.8" y2="703.5" stroke="#1c1c1c" stroke-width="1.3" stroke-linecap="butt"/>
<line x1="740.2" y1="706.7" x2="743.8" y2="706.7" stroke="#1c1c1c" stroke-width="1.3" stroke-linecap="butt"/>
<line x1="740.2" y1="710" x2="743.8" y2="710" stroke="#1c1c1c" stroke-width="1.3" stroke-linecap="butt"/>
<line x1="740.2" y1="713.2" x2="743.8" y2="713.2" stroke="#1c1c1c" stroke-width="1.3" stroke-linecap="butt"/>
<line x1="735.8" y1="716.4" x2="743.8" y2="716.4" stroke="#1c1c1c" stroke-width="2.2" stroke-linecap="butt"/>
<line x1="740.2" y1="680.9" x2="743.8" y2="680.9" stroke="#1c1c1c" stroke-width="1.3" stroke-linecap="butt"/>
<line x1="740.2" y1="677.6" x2="743.8" y2="677.6" stroke="#1c1c1c" stroke-width="1.3" stroke-linecap="butt"/>
<line x1="740.2" y1="674.3" x2="743.8" y2="674.3" stroke="#1c1c1c" stroke-width="1.3" stroke-linecap="butt"/>
<line x1="740.2" y1="671" x2="743.8" y2="671" stroke="#1c1c1c" stroke-width="1.3" stroke-linecap="butt"/>
<line x1="738.6" y1="667.8" x2="743.8" y2="667.8" stroke="#1c1c1c" stroke-width="1.5" stroke-linecap="butt"/>
<line x1="740.2" y1="664.5" x2="743.8" y2="664.5" stroke="#1c1c1c" stroke-width="1.3" stroke-linecap="butt"/>
<line x1="740.2" y1="661.2" x2="743.8" y2="661.2" stroke="#1c1c1c" stroke-width="1.3" stroke-linecap="butt"/>
<line x1="740.2" y1="657.9" x2="743.8" y2="657.9" stroke="#1c1c1c" stroke-width="1.3" stroke-linecap="butt"/>
<line x1="740.2" y1="654.6" x2="743.8" y2="654.6" stroke="#1c1c1c" stroke-width="1.3" stroke-linecap="butt"/>
<line x1="735.8" y1="651.3" x2="743.8" y2="651.3" stroke="#1c1c1c" stroke-width="2.2" stroke-linecap="butt"/>
<rect x="738.6" y="680.6" width="5.2" height="7.2" fill="#1c1c1c"/>
<line x1="735.8" y1="681.4" x2="743.8" y2="681.4" stroke="#1c1c1c" stroke-width="1.4" stroke-linecap="butt"/>
<line x1="735.8" y1="683.3" x2="743.8" y2="683.3" stroke="#1c1c1c" stroke-width="1.4" stroke-linecap="butt"/>
<line x1="735.8" y1="685.1" x2="743.8" y2="685.1" stroke="#1c1c1c" stroke-width="1.4" stroke-linecap="butt"/>
<line x1="735.8" y1="687" x2="743.8" y2="687" stroke="#1c1c1c" stroke-width="1.4" stroke-linecap="butt"/>
<line x1="740.2" y1="629.4" x2="743.8" y2="629.4" stroke="#1c1c1c" stroke-width="1.3" stroke-linecap="butt"/>
<line x1="740.2" y1="616.7" x2="743.8" y2="616.7" stroke="#1c1c1c" stroke-width="1.3" stroke-linecap="butt"/>
<line x1="740.2" y1="607.6" x2="743.8" y2="607.6" stroke="#1c1c1c" stroke-width="1.3" stroke-linecap="butt"/>
<line x1="738.6" y1="600.6" x2="743.8" y2="600.6" stroke="#1c1c1c" stroke-width="1.5" stroke-linecap="butt"/>
<line x1="740.2" y1="594.8" x2="743.8" y2="594.8" stroke="#1c1c1c" stroke-width="1.3" stroke-linecap="butt"/>
<line x1="740.2" y1="589.9" x2="743.8" y2="589.9" stroke="#1c1c1c" stroke-width="1.3" stroke-linecap="butt"/>
<line x1="740.2" y1="585.7" x2="743.8" y2="585.7" stroke="#1c1c1c" stroke-width="1.3" stroke-linecap="butt"/>
<line x1="740.2" y1="582" x2="743.8" y2="582" stroke="#1c1c1c" stroke-width="1.3" stroke-linecap="butt"/>
<line x1="735.8" y1="578.7" x2="743.8" y2="578.7" stroke="#1c1c1c" stroke-width="2.2" stroke-linecap="butt"/>
<line x1="740.2" y1="557.7" x2="743.8" y2="557.7" stroke="#1c1c1c" stroke-width="1.3" stroke-linecap="butt"/>
<line x1="740.2" y1="545.5" x2="743.8" y2="545.5" stroke="#1c1c1c" stroke-width="1.3" stroke-linecap="butt"/>
<line x1="740.2" y1="536.8" x2="743.8" y2="536.8" stroke="#1c1c1c" stroke-width="1.3" stroke-linecap="butt"/>
<line x1="738.6" y1="530.1" x2="743.8" y2="530.1" stroke="#1c1c1c" stroke-width="1.5" stroke-linecap="butt"/>
<line x1="740.2" y1="524.5" x2="743.8" y2="524.5" stroke="#1c1c1c" stroke-width="1.3" stroke-linecap="butt"/>
<line x1="740.2" y1="519.9" x2="743.8" y2="519.9" stroke="#1c1c1c" stroke-width="1.3" stroke-linecap="butt"/>
<line x1="740.2" y1="515.8" x2="743.8" y2="515.8" stroke="#1c1c1c" stroke-width="1.3" stroke-linecap="butt"/>
<line x1="740.2" y1="512.3" x2="743.8" y2="512.3" stroke="#1c1c1c" stroke-width="1.3" stroke-linecap="butt"/>
<line x1="735.8" y1="509.1" x2="743.8" y2="509.1" stroke="#1c1c1c" stroke-width="2.2" stroke-linecap="butt"/>
<line x1="740.2" y1="489.3" x2="743.8" y2="489.3" stroke="#1c1c1c" stroke-width="1.3" stroke-linecap="butt"/>
<line x1="740.2" y1="477.8" x2="743.8" y2="477.8" stroke="#1c1c1c" stroke-width="1.3" stroke-linecap="butt"/>
<line x1="740.2" y1="469.5" x2="743.8" y2="469.5" stroke="#1c1c1c" stroke-width="1.3" stroke-linecap="butt"/>
<line x1="738.6" y1="463.2" x2="743.8" y2="463.2" stroke="#1c1c1c" stroke-width="1.5" stroke-linecap="butt"/>
<line x1="740.2" y1="458" x2="743.8" y2="458" stroke="#1c1c1c" stroke-width="1.3" stroke-linecap="butt"/>
<line x1="740.2" y1="453.6" x2="743.8" y2="453.6" stroke="#1c1c1c" stroke-width="1.3" stroke-linecap="butt"/>
<line x1="740.2" y1="449.8" x2="743.8" y2="449.8" stroke="#1c1c1c" stroke-width="1.3" stroke-linecap="butt"/>
<line x1="740.2" y1="446.4" x2="743.8" y2="446.4" stroke="#1c1c1c" stroke-width="1.3" stroke-linecap="butt"/>
<line x1="735.8" y1="443.4" x2="743.8" y2="443.4" stroke="#1c1c1c" stroke-width="2.2" stroke-linecap="butt"/>
<path d="M743.8 473.7H820.8M743.8 629.9H820.8" stroke="#1c1c1c" stroke-width="1.4" fill="none"/>
<line x1="820.4" y1="473" x2="820.4" y2="630.6" stroke="#1c1c1c" stroke-width="2.1" stroke-linecap="butt"/>
<text transform="translate(776 750.3) scale(1.12 1)" font-size="10.2" text-anchor="middle" fill="#1c1c1c" stroke="#1c1c1c" stroke-width="0.28">0</text>
<text transform="translate(874 750.3) scale(1.12 1)" font-size="10.2" text-anchor="start" fill="#1c1c1c" stroke="#1c1c1c" stroke-width="0.28" letter-spacing="-0.8">10</text>
<text transform="translate(885.6 742.3) scale(1.12 1)" font-size="10.2" text-anchor="start" fill="#1c1c1c" stroke="#1c1c1c" stroke-width="0.28">3</text>
<text transform="translate(941 750.3) scale(1.12 1)" font-size="10.2" text-anchor="start" fill="#1c1c1c" stroke="#1c1c1c" stroke-width="0.28" letter-spacing="-0.8">10</text>
<text transform="translate(952.6 742.3) scale(1.12 1)" font-size="10.2" text-anchor="start" fill="#1c1c1c" stroke="#1c1c1c" stroke-width="0.28">4</text>
<text transform="translate(993.7 750.3) scale(1.12 1)" font-size="10.2" text-anchor="start" fill="#1c1c1c" stroke="#1c1c1c" stroke-width="0.28" letter-spacing="-0.8">10</text>
<text transform="translate(1005.3 742.3) scale(1.12 1)" font-size="10.2" text-anchor="start" fill="#1c1c1c" stroke="#1c1c1c" stroke-width="0.28">5</text>
<text transform="translate(712.8 462.9) scale(1.12 1)" font-size="10.2" text-anchor="start" fill="#1c1c1c" stroke="#1c1c1c" stroke-width="0.28" letter-spacing="-0.8">10</text>
<text transform="translate(724.4 454.9) scale(1.12 1)" font-size="10.2" text-anchor="start" fill="#1c1c1c" stroke="#1c1c1c" stroke-width="0.28">5</text>
<text transform="translate(712.8 516.1) scale(1.12 1)" font-size="10.2" text-anchor="start" fill="#1c1c1c" stroke="#1c1c1c" stroke-width="0.28" letter-spacing="-0.8">10</text>
<text transform="translate(724.4 508.1) scale(1.12 1)" font-size="10.2" text-anchor="start" fill="#1c1c1c" stroke="#1c1c1c" stroke-width="0.28">4</text>
<text transform="translate(712.8 585.7) scale(1.12 1)" font-size="10.2" text-anchor="start" fill="#1c1c1c" stroke="#1c1c1c" stroke-width="0.28" letter-spacing="-0.8">10</text>
<text transform="translate(724.4 577.7) scale(1.12 1)" font-size="10.2" text-anchor="start" fill="#1c1c1c" stroke="#1c1c1c" stroke-width="0.28">3</text>
<text transform="translate(712.8 658.3) scale(1.12 1)" font-size="10.2" text-anchor="start" fill="#1c1c1c" stroke="#1c1c1c" stroke-width="0.28" letter-spacing="-0.8">10</text>
<text transform="translate(724.4 650.3) scale(1.12 1)" font-size="10.2" text-anchor="start" fill="#1c1c1c" stroke="#1c1c1c" stroke-width="0.28">2</text>
<text transform="translate(721.3 687.8) scale(1.12 1)" font-size="10.2" text-anchor="middle" fill="#1c1c1c" stroke="#1c1c1c" stroke-width="0.28">0</text>
<text transform="translate(707.2 716.6) scale(1.12 1)" font-size="10.2" text-anchor="start" fill="#1c1c1c" stroke="#1c1c1c" stroke-width="0.28" letter-spacing="-0.8">-10</text>
<text transform="translate(724.8 708.6) scale(1.12 1)" font-size="10.2" text-anchor="start" fill="#1c1c1c" stroke="#1c1c1c" stroke-width="0.28">2</text>
<text transform="translate(706 580.4) rotate(-90)" font-size="13" text-anchor="middle" fill="#1c1c1c" stroke="#1c1c1c" stroke-width="0.28">Comp-RedFL1</text>
<text transform="translate(878 776.2)" font-size="13" text-anchor="middle" fill="#1c1c1c" stroke="#1c1c1c" stroke-width="0.28">Comp-BluFL2</text>
<text transform="translate(898.9 534.7)" font-size="13" text-anchor="middle" fill="#1c1c1c" textLength="113.5" lengthAdjust="spacingAndGlyphs" stroke="#1c1c1c" stroke-width="0.28">CD3-&amp; CD56+ cells</text>
<text transform="translate(898.9 554.2)" font-size="13" text-anchor="middle" fill="#1c1c1c" stroke="#1c1c1c" stroke-width="0.28">68.7</text>
<path d="M1090 331.4C1090.5 331.3 1091.9 331.7 1093 330.5C1094.1 329.3 1095.9 327.5 1097.1 323.7C1098.3 319.9 1099.3 314.9 1100.4 306.8C1101.5 298.7 1102.6 289.2 1103.8 273C1105 256.8 1106.8 227.2 1107.9 205.3C1109 183.4 1110 152.8 1110.9 136C1111.8 119.2 1112.9 107.3 1113.6 100C1114.3 92.7 1114.5 90.3 1115 90.3C1115.5 90.3 1115.8 92.7 1116.6 100C1117.4 107.3 1118.6 119.2 1119.7 136C1120.8 152.8 1122.5 183.4 1123.5 205.3C1124.5 227.2 1125.4 256.8 1126.2 273C1127 289.2 1127.4 298.7 1128.2 306.8C1129 314.9 1129.7 319.9 1130.9 323.7C1132.1 327.5 1134.7 329.3 1136 330.5C1137.3 331.7 1138.5 331.3 1139 331.4L1139 332L1090 332Z" fill="#8f9194" stroke="none"/>
<path d="M1090 331.4C1090.5 331.3 1091.9 331.7 1093 330.5C1094.1 329.3 1095.9 327.5 1097.1 323.7C1098.3 319.9 1099.3 314.9 1100.4 306.8C1101.5 298.7 1102.6 289.2 1103.8 273C1105 256.8 1106.8 227.2 1107.9 205.3C1109 183.4 1110 152.8 1110.9 136C1111.8 119.2 1112.9 107.3 1113.6 100C1114.3 92.7 1114.5 90.3 1115 90.3C1115.5 90.3 1115.8 92.7 1116.6 100C1117.4 107.3 1118.6 119.2 1119.7 136C1120.8 152.8 1122.5 183.4 1123.5 205.3C1124.5 227.2 1125.4 256.8 1126.2 273C1127 289.2 1127.4 298.7 1128.2 306.8C1129 314.9 1129.7 319.9 1130.9 323.7C1132.1 327.5 1134.7 329.3 1136 330.5C1137.3 331.7 1138.5 331.3 1139 331.4" fill="none" stroke="#111" stroke-width="1.9" stroke-linejoin="round"/>
<rect x="1086" y="86" width="172" height="49.6" fill="#fff" opacity="0.68"/>
<rect x="1076.4" y="57.3" width="268.3" height="274.7" fill="none" stroke="#1c1c1c" stroke-width="1.4"/>
<line x1="1076.4" y1="332" x2="1344.7" y2="332" stroke="#1c1c1c" stroke-width="1.8" stroke-linecap="butt"/>
<line x1="1068.4" y1="331.8" x2="1076.4" y2="331.8" stroke="#1c1c1c" stroke-width="2.2" stroke-linecap="butt"/>
<line x1="1072.8" y1="315.5" x2="1076.4" y2="315.5" stroke="#1c1c1c" stroke-width="1.3" stroke-linecap="butt"/>
<line x1="1072.8" y1="299.3" x2="1076.4" y2="299.3" stroke="#1c1c1c" stroke-width="1.3" stroke-linecap="butt"/>
<line x1="1072.8" y1="283" x2="1076.4" y2="283" stroke="#1c1c1c" stroke-width="1.3" stroke-linecap="butt"/>
<line x1="1072.8" y1="266.7" x2="1076.4" y2="266.7" stroke="#1c1c1c" stroke-width="1.3" stroke-linecap="butt"/>
<line x1="1068.4" y1="250.5" x2="1076.4" y2="250.5" stroke="#1c1c1c" stroke-width="2.2" stroke-linecap="butt"/>
<line x1="1072.8" y1="234.2" x2="1076.4" y2="234.2" stroke="#1c1c1c" stroke-width="1.3" stroke-linecap="butt"/>
<line x1="1072.8" y1="217.9" x2="1076.4" y2="217.9" stroke="#1c1c1c" stroke-width="1.3" stroke-linecap="butt"/>
<line x1="1072.8" y1="201.6" x2="1076.4" y2="201.6" stroke="#1c1c1c" stroke-width="1.3" stroke-linecap="butt"/>
<line x1="1072.8" y1="185.4" x2="1076.4" y2="185.4" stroke="#1c1c1c" stroke-width="1.3" stroke-linecap="butt"/>
<line x1="1068.4" y1="169.1" x2="1076.4" y2="169.1" stroke="#1c1c1c" stroke-width="2.2" stroke-linecap="butt"/>
<line x1="1072.8" y1="152.8" x2="1076.4" y2="152.8" stroke="#1c1c1c" stroke-width="1.3" stroke-linecap="butt"/>
<line x1="1072.8" y1="136.6" x2="1076.4" y2="136.6" stroke="#1c1c1c" stroke-width="1.3" stroke-linecap="butt"/>
<line x1="1072.8" y1="120.3" x2="1076.4" y2="120.3" stroke="#1c1c1c" stroke-width="1.3" stroke-linecap="butt"/>
<line x1="1072.8" y1="104" x2="1076.4" y2="104" stroke="#1c1c1c" stroke-width="1.3" stroke-linecap="butt"/>
<line x1="1068.4" y1="87.8" x2="1076.4" y2="87.8" stroke="#1c1c1c" stroke-width="2.2" stroke-linecap="butt"/>
<line x1="1072.8" y1="71.5" x2="1076.4" y2="71.5" stroke="#1c1c1c" stroke-width="1.3" stroke-linecap="butt"/>
<line x1="1104.8" y1="332" x2="1104.8" y2="335.6" stroke="#1c1c1c" stroke-width="1.3" stroke-linecap="butt"/>
<line x1="1101.7" y1="332" x2="1101.7" y2="335.6" stroke="#1c1c1c" stroke-width="1.3" stroke-linecap="butt"/>
<line x1="1098.5" y1="332" x2="1098.5" y2="335.6" stroke="#1c1c1c" stroke-width="1.3" stroke-linecap="butt"/>
<line x1="1095.4" y1="332" x2="1095.4" y2="335.6" stroke="#1c1c1c" stroke-width="1.3" stroke-linecap="butt"/>
<line x1="1092.2" y1="332" x2="1092.2" y2="337.2" stroke="#1c1c1c" stroke-width="1.5" stroke-linecap="butt"/>
<line x1="1089" y1="332" x2="1089" y2="335.6" stroke="#1c1c1c" stroke-width="1.3" stroke-linecap="butt"/>
<line x1="1085.9" y1="332" x2="1085.9" y2="335.6" stroke="#1c1c1c" stroke-width="1.3" stroke-linecap="butt"/>
<line x1="1082.7" y1="332" x2="1082.7" y2="335.6" stroke="#1c1c1c" stroke-width="1.3" stroke-linecap="butt"/>
<line x1="1079.6" y1="332" x2="1079.6" y2="335.6" stroke="#1c1c1c" stroke-width="1.3" stroke-linecap="butt"/>
<line x1="1076.4" y1="332" x2="1076.4" y2="340" stroke="#1c1c1c" stroke-width="2.2" stroke-linecap="butt"/>
<line x1="1111.1" y1="332" x2="1111.1" y2="335.6" stroke="#1c1c1c" stroke-width="1.3" stroke-linecap="butt"/>
<line x1="1114.2" y1="332" x2="1114.2" y2="335.6" stroke="#1c1c1c" stroke-width="1.3" stroke-linecap="butt"/>
<line x1="1117.4" y1="332" x2="1117.4" y2="335.6" stroke="#1c1c1c" stroke-width="1.3" stroke-linecap="butt"/>
<line x1="1120.5" y1="332" x2="1120.5" y2="335.6" stroke="#1c1c1c" stroke-width="1.3" stroke-linecap="butt"/>
<line x1="1123.6" y1="332" x2="1123.6" y2="337.2" stroke="#1c1c1c" stroke-width="1.5" stroke-linecap="butt"/>
<line x1="1126.7" y1="332" x2="1126.7" y2="335.6" stroke="#1c1c1c" stroke-width="1.3" stroke-linecap="butt"/>
<line x1="1129.8" y1="332" x2="1129.8" y2="335.6" stroke="#1c1c1c" stroke-width="1.3" stroke-linecap="butt"/>
<line x1="1133" y1="332" x2="1133" y2="335.6" stroke="#1c1c1c" stroke-width="1.3" stroke-linecap="butt"/>
<line x1="1136.1" y1="332" x2="1136.1" y2="335.6" stroke="#1c1c1c" stroke-width="1.3" stroke-linecap="butt"/>
<line x1="1139.2" y1="332" x2="1139.2" y2="340" stroke="#1c1c1c" stroke-width="2.2" stroke-linecap="butt"/>
<rect x="1104.1" y="332" width="7.8" height="5.2" fill="#1c1c1c"/>
<line x1="1105" y1="332" x2="1105" y2="340" stroke="#1c1c1c" stroke-width="1.5" stroke-linecap="butt"/>
<line x1="1107" y1="332" x2="1107" y2="340" stroke="#1c1c1c" stroke-width="1.5" stroke-linecap="butt"/>
<line x1="1109" y1="332" x2="1109" y2="340" stroke="#1c1c1c" stroke-width="1.5" stroke-linecap="butt"/>
<line x1="1111" y1="332" x2="1111" y2="340" stroke="#1c1c1c" stroke-width="1.5" stroke-linecap="butt"/>
<line x1="1160.8" y1="332" x2="1160.8" y2="335.6" stroke="#1c1c1c" stroke-width="1.3" stroke-linecap="butt"/>
<line x1="1173.4" y1="332" x2="1173.4" y2="335.6" stroke="#1c1c1c" stroke-width="1.3" stroke-linecap="butt"/>
<line x1="1182.3" y1="332" x2="1182.3" y2="335.6" stroke="#1c1c1c" stroke-width="1.3" stroke-linecap="butt"/>
<line x1="1189.2" y1="332" x2="1189.2" y2="337.2" stroke="#1c1c1c" stroke-width="1.5" stroke-linecap="butt"/>
<line x1="1194.9" y1="332" x2="1194.9" y2="335.6" stroke="#1c1c1c" stroke-width="1.3" stroke-linecap="butt"/>
<line x1="1199.7" y1="332" x2="1199.7" y2="335.6" stroke="#1c1c1c" stroke-width="1.3" stroke-linecap="butt"/>
<line x1="1203.9" y1="332" x2="1203.9" y2="335.6" stroke="#1c1c1c" stroke-width="1.3" stroke-linecap="butt"/>
<line x1="1207.5" y1="332" x2="1207.5" y2="335.6" stroke="#1c1c1c" stroke-width="1.3" stroke-linecap="butt"/>
<line x1="1210.8" y1="332" x2="1210.8" y2="340" stroke="#1c1c1c" stroke-width="2.2" stroke-linecap="butt"/>
<line x1="1231.1" y1="332" x2="1231.1" y2="335.6" stroke="#1c1c1c" stroke-width="1.3" stroke-linecap="butt"/>
<line x1="1243" y1="332" x2="1243" y2="335.6" stroke="#1c1c1c" stroke-width="1.3" stroke-linecap="butt"/>
<line x1="1251.4" y1="332" x2="1251.4" y2="335.6" stroke="#1c1c1c" stroke-width="1.3" stroke-linecap="butt"/>
<line x1="1257.9" y1="332" x2="1257.9" y2="337.2" stroke="#1c1c1c" stroke-width="1.5" stroke-linecap="butt"/>
<line x1="1263.2" y1="332" x2="1263.2" y2="335.6" stroke="#1c1c1c" stroke-width="1.3" stroke-linecap="butt"/>
<line x1="1267.8" y1="332" x2="1267.8" y2="335.6" stroke="#1c1c1c" stroke-width="1.3" stroke-linecap="butt"/>
<line x1="1271.7" y1="332" x2="1271.7" y2="335.6" stroke="#1c1c1c" stroke-width="1.3" stroke-linecap="butt"/>
<line x1="1275.1" y1="332" x2="1275.1" y2="335.6" stroke="#1c1c1c" stroke-width="1.3" stroke-linecap="butt"/>
<line x1="1278.2" y1="332" x2="1278.2" y2="340" stroke="#1c1c1c" stroke-width="2.2" stroke-linecap="butt"/>
<line x1="1298.2" y1="332" x2="1298.2" y2="335.6" stroke="#1c1c1c" stroke-width="1.3" stroke-linecap="butt"/>
<line x1="1309.9" y1="332" x2="1309.9" y2="335.6" stroke="#1c1c1c" stroke-width="1.3" stroke-linecap="butt"/>
<line x1="1318.2" y1="332" x2="1318.2" y2="335.6" stroke="#1c1c1c" stroke-width="1.3" stroke-linecap="butt"/>
<line x1="1324.7" y1="332" x2="1324.7" y2="337.2" stroke="#1c1c1c" stroke-width="1.5" stroke-linecap="butt"/>
<line x1="1329.9" y1="332" x2="1329.9" y2="335.6" stroke="#1c1c1c" stroke-width="1.3" stroke-linecap="butt"/>
<line x1="1334.4" y1="332" x2="1334.4" y2="335.6" stroke="#1c1c1c" stroke-width="1.3" stroke-linecap="butt"/>
<line x1="1338.3" y1="332" x2="1338.3" y2="335.6" stroke="#1c1c1c" stroke-width="1.3" stroke-linecap="butt"/>
<line x1="1341.7" y1="332" x2="1341.7" y2="335.6" stroke="#1c1c1c" stroke-width="1.3" stroke-linecap="butt"/>
<line x1="1344.7" y1="332" x2="1344.7" y2="340" stroke="#1c1c1c" stroke-width="2.2" stroke-linecap="butt"/>
<text transform="translate(1062.8 331.8) scale(1.12 1)" font-size="10.2" text-anchor="end" fill="#1c1c1c" stroke="#1c1c1c" stroke-width="0.28">0</text>
<text transform="translate(1062.8 258.2) scale(1.12 1)" font-size="10.2" text-anchor="end" fill="#1c1c1c" stroke="#1c1c1c" stroke-width="0.28">50</text>
<text transform="translate(1062.8 176.9) scale(1.12 1)" font-size="10.2" text-anchor="end" fill="#1c1c1c" stroke="#1c1c1c" stroke-width="0.28">100</text>
<text transform="translate(1062.8 95.6) scale(1.12 1)" font-size="10.2" text-anchor="end" fill="#1c1c1c" stroke="#1c1c1c" stroke-width="0.28">150</text>
<text transform="translate(1108.7 365) scale(1.12 1)" font-size="10.2" text-anchor="middle" fill="#1c1c1c" stroke="#1c1c1c" stroke-width="0.28">0</text>
<text transform="translate(1206.1 365) scale(1.12 1)" font-size="10.2" text-anchor="start" fill="#1c1c1c" stroke="#1c1c1c" stroke-width="0.28" letter-spacing="-0.8">10</text>
<text transform="translate(1217.7 357) scale(1.12 1)" font-size="10.2" text-anchor="start" fill="#1c1c1c" stroke="#1c1c1c" stroke-width="0.28">3</text>
<text transform="translate(1273.6 365) scale(1.12 1)" font-size="10.2" text-anchor="start" fill="#1c1c1c" stroke="#1c1c1c" stroke-width="0.28" letter-spacing="-0.8">10</text>
<text transform="translate(1285.2 357) scale(1.12 1)" font-size="10.2" text-anchor="start" fill="#1c1c1c" stroke="#1c1c1c" stroke-width="0.28">4</text>
<text transform="translate(1326 365) scale(1.12 1)" font-size="10.2" text-anchor="start" fill="#1c1c1c" stroke="#1c1c1c" stroke-width="0.28" letter-spacing="-0.8">10</text>
<text transform="translate(1337.6 357) scale(1.12 1)" font-size="10.2" text-anchor="start" fill="#1c1c1c" stroke="#1c1c1c" stroke-width="0.28">5</text>
<text transform="translate(1038 194.7) rotate(-90)" font-size="13" text-anchor="middle" fill="#1c1c1c" stroke="#1c1c1c" stroke-width="0.28">Count</text>
<text transform="translate(1210.6 388.5)" font-size="13" text-anchor="middle" fill="#1c1c1c" stroke="#1c1c1c" stroke-width="0.28">Comp-BluFL1</text>
<line x1="1130.8" y1="166.8" x2="1337.6" y2="166.8" stroke="#111" stroke-width="2.0" stroke-linecap="butt"/>
<line x1="1337.6" y1="161.2" x2="1337.6" y2="172.4" stroke="#111" stroke-width="2.0" stroke-linecap="butt"/>
<line x1="1130.8" y1="161.2" x2="1130.8" y2="172.4" stroke="#111" stroke-width="2.0" stroke-linecap="butt"/>
<text transform="translate(1172.1 106.3)" font-size="13" text-anchor="middle" fill="#1c1c1c" textLength="162.3" lengthAdjust="spacingAndGlyphs" stroke="#1c1c1c" stroke-width="0.28">GFP+ in CD3-&amp; CD56+ cells</text>
<text transform="translate(1172.1 125.8)" font-size="13" text-anchor="middle" fill="#1c1c1c" stroke="#1c1c1c" stroke-width="0.28">0.63</text>
<defs><filter id="b" x="-5%" y="-20%" width="110%" height="140%"><feGaussianBlur stdDeviation="0.9"/></filter></defs>
<g transform="translate(1.3 1.3)" fill="#9a9a9a" opacity="0.42" filter="url(#b)">
<g transform="translate(1160 757.5) rotate(45)"><rect x="-19" y="-19" width="38" height="38" rx="4"/></g>
<text transform="translate(1196 763) skewX(-12)" font-size="32.5" font-family="'Liberation Sans','Noto Sans CJK SC',sans-serif" font-weight="bold" textLength="163" lengthAdjust="spacingAndGlyphs">仪器信息网</text>
<text transform="translate(1196 778.6) skewX(-12)" font-size="10.5" font-family="'Liberation Sans','Noto Sans CJK SC',sans-serif" font-weight="bold" textLength="160" lengthAdjust="spacingAndGlyphs">www.instrument.com.cn</text>
</g>
<g transform="translate(0 0)" fill="#fff" opacity="1">
<g transform="translate(1160 757.5) rotate(45)"><rect x="-19" y="-19" width="38" height="38" rx="4"/></g>
<text transform="translate(1196 763) skewX(-12)" font-size="32.5" font-family="'Liberation Sans','Noto Sans CJK SC',sans-serif" font-weight="bold" textLength="163" lengthAdjust="spacingAndGlyphs">仪器信息网</text>
<text transform="translate(1196 778.6) skewX(-12)" font-size="10.5" font-family="'Liberation Sans','Noto Sans CJK SC',sans-serif" font-weight="bold" textLength="160" lengthAdjust="spacingAndGlyphs">www.instrument.com.cn</text>
</g>
<path d="M1146 747c3 5 4 11 7 17l4-13c3 6 4 13 7 19l5-13" fill="none" stroke="#dcdcdc" stroke-width="2.2" stroke-linejoin="round" stroke-linecap="round"/>
<circle cx="1163.5" cy="741.5" r="1.7" fill="#dedede"/><circle cx="1171.5" cy="749.5" r="1.7" fill="#dedede"/>
<path d="M1077.2 686.7C1077.5 687.8 1078.3 690.7 1078.8 693.6C1079.3 696.4 1079.6 701.8 1080.4 704.5C1081.1 707.3 1082.2 709.4 1083.5 710.8C1084.7 712.1 1086.7 712.5 1088.2 713C1089.7 713.5 1091.4 713.7 1092.9 713.9C1094.4 714.1 1096.1 714.4 1097.6 714.2C1099.1 714.1 1100.8 713.8 1102.3 713C1103.8 712.2 1105.5 710.9 1107 709.2C1108.5 707.5 1110.3 704.8 1111.7 702.3C1113.1 699.8 1114.6 695.8 1115.7 693.6C1116.9 691.3 1117.9 688.8 1118.9 688.2C1119.8 687.6 1120.7 689.1 1121.7 689.8C1122.7 690.6 1124 692.6 1125.1 692.9C1126.3 693.3 1127.7 692.4 1128.9 692C1130.1 691.6 1131.4 690.7 1132.7 690.4C1133.9 690.2 1135.4 691.2 1136.7 690.4C1138 689.7 1139.5 687.5 1140.8 685.7C1142.1 684 1143.5 680.4 1144.6 679.5C1145.7 678.6 1146.7 679.5 1147.7 680.1C1148.7 680.8 1149.6 683.3 1150.8 683.5C1152.1 683.8 1154.1 683.3 1155.5 681.7C1156.9 680 1158.3 676.1 1159.6 673.2C1160.8 670.4 1162.1 667.1 1163.4 663.8C1164.6 660.6 1166.1 656 1167.1 652.9C1168.1 649.7 1168.8 645.6 1169.6 644.1C1170.4 642.6 1171.3 645.1 1172.1 643.5C1172.9 641.9 1173.8 638.1 1174.6 634.1C1175.5 630.1 1176.6 622.7 1177.4 618.4C1178.3 614.1 1179.2 609 1179.9 607.4C1180.7 605.8 1181.4 609.6 1182.1 608.4C1182.9 607.1 1183.8 603.5 1184.6 599.6C1185.4 595.7 1186.4 590 1187.2 584C1188 577.9 1189 568.3 1189.7 562C1190.4 555.8 1190.9 547.1 1191.5 544.8C1192.1 542.6 1192.8 549.2 1193.4 547.9C1194 546.7 1194.7 541.2 1195.3 537C1195.9 532.7 1196.5 524.6 1197.2 521.3C1197.8 518.1 1198.5 518.4 1199.4 516.6C1200.2 514.9 1201.5 511.6 1202.5 510.4C1203.5 509.1 1204.8 509.6 1205.6 508.8C1206.5 507.9 1207.2 505.3 1207.8 505C1208.5 504.8 1209.1 505.6 1209.7 507.2C1210.4 508.8 1211.2 512.5 1211.9 515.1C1212.6 517.6 1213.3 520.1 1214.1 522.9C1214.8 525.6 1215.8 529.3 1216.6 532.3C1217.4 535.3 1218.3 539.2 1219.1 541.7C1219.9 544.2 1220.9 544.7 1221.6 547.9C1222.3 551.2 1222.9 555.8 1223.5 562C1224.1 568.3 1224.7 580.1 1225.4 587.1C1226 594.1 1226.7 601.6 1227.6 605.9C1228.4 610.1 1229.8 610.2 1230.7 613.7C1231.5 617.2 1232.1 622 1232.9 627.8C1233.6 633.6 1234.5 642.7 1235.4 649.7C1236.3 656.7 1237.5 666.1 1238.5 671.6C1239.5 677.2 1240.6 680.4 1241.6 684.2C1242.6 687.9 1243.8 692.1 1244.8 695.1C1245.8 698.1 1246.8 700.7 1247.9 703C1249 705.2 1250.4 707.6 1251.7 709.2C1252.9 710.9 1254.3 712.2 1255.7 713.3C1257.1 714.4 1258.7 715.4 1260.4 716.1C1262.2 716.8 1264.7 717.3 1266.7 717.7C1268.7 718 1272 718.2 1273 718.3L1273 718.5L1077.2 718.5Z" fill="#8f9194" stroke="none"/>
<path d="M1077.2 686.7C1077.5 687.8 1078.3 690.7 1078.8 693.6C1079.3 696.4 1079.6 701.8 1080.4 704.5C1081.1 707.3 1082.2 709.4 1083.5 710.8C1084.7 712.1 1086.7 712.5 1088.2 713C1089.7 713.5 1091.4 713.7 1092.9 713.9C1094.4 714.1 1096.1 714.4 1097.6 714.2C1099.1 714.1 1100.8 713.8 1102.3 713C1103.8 712.2 1105.5 710.9 1107 709.2C1108.5 707.5 1110.3 704.8 1111.7 702.3C1113.1 699.8 1114.6 695.8 1115.7 693.6C1116.9 691.3 1117.9 688.8 1118.9 688.2C1119.8 687.6 1120.7 689.1 1121.7 689.8C1122.7 690.6 1124 692.6 1125.1 692.9C1126.3 693.3 1127.7 692.4 1128.9 692C1130.1 691.6 1131.4 690.7 1132.7 690.4C1133.9 690.2 1135.4 691.2 1136.7 690.4C1138 689.7 1139.5 687.5 1140.8 685.7C1142.1 684 1143.5 680.4 1144.6 679.5C1145.7 678.6 1146.7 679.5 1147.7 680.1C1148.7 680.8 1149.6 683.3 1150.8 683.5C1152.1 683.8 1154.1 683.3 1155.5 681.7C1156.9 680 1158.3 676.1 1159.6 673.2C1160.8 670.4 1162.1 667.1 1163.4 663.8C1164.6 660.6 1166.1 656 1167.1 652.9C1168.1 649.7 1168.8 645.6 1169.6 644.1C1170.4 642.6 1171.3 645.1 1172.1 643.5C1172.9 641.9 1173.8 638.1 1174.6 634.1C1175.5 630.1 1176.6 622.7 1177.4 618.4C1178.3 614.1 1179.2 609 1179.9 607.4C1180.7 605.8 1181.4 609.6 1182.1 608.4C1182.9 607.1 1183.8 603.5 1184.6 599.6C1185.4 595.7 1186.4 590 1187.2 584C1188 577.9 1189 568.3 1189.7 562C1190.4 555.8 1190.9 547.1 1191.5 544.8C1192.1 542.6 1192.8 549.2 1193.4 547.9C1194 546.7 1194.7 541.2 1195.3 537C1195.9 532.7 1196.5 524.6 1197.2 521.3C1197.8 518.1 1198.5 518.4 1199.4 516.6C1200.2 514.9 1201.5 511.6 1202.5 510.4C1203.5 509.1 1204.8 509.6 1205.6 508.8C1206.5 507.9 1207.2 505.3 1207.8 505C1208.5 504.8 1209.1 505.6 1209.7 507.2C1210.4 508.8 1211.2 512.5 1211.9 515.1C1212.6 517.6 1213.3 520.1 1214.1 522.9C1214.8 525.6 1215.8 529.3 1216.6 532.3C1217.4 535.3 1218.3 539.2 1219.1 541.7C1219.9 544.2 1220.9 544.7 1221.6 547.9C1222.3 551.2 1222.9 555.8 1223.5 562C1224.1 568.3 1224.7 580.1 1225.4 587.1C1226 594.1 1226.7 601.6 1227.6 605.9C1228.4 610.1 1229.8 610.2 1230.7 613.7C1231.5 617.2 1232.1 622 1232.9 627.8C1233.6 633.6 1234.5 642.7 1235.4 649.7C1236.3 656.7 1237.5 666.1 1238.5 671.6C1239.5 677.2 1240.6 680.4 1241.6 684.2C1242.6 687.9 1243.8 692.1 1244.8 695.1C1245.8 698.1 1246.8 700.7 1247.9 703C1249 705.2 1250.4 707.6 1251.7 709.2C1252.9 710.9 1254.3 712.2 1255.7 713.3C1257.1 714.4 1258.7 715.4 1260.4 716.1C1262.2 716.8 1264.7 717.3 1266.7 717.7C1268.7 718 1272 718.2 1273 718.3" fill="none" stroke="#111" stroke-width="1.9" stroke-linejoin="round"/>
<rect x="1087" y="473" width="173" height="49.4" fill="#fff" opacity="0.68"/>
<rect x="1077.5" y="444.2" width="268.1" height="274.3" fill="none" stroke="#1c1c1c" stroke-width="1.4"/>
<line x1="1077.5" y1="718.5" x2="1345.6" y2="718.5" stroke="#1c1c1c" stroke-width="1.8" stroke-linecap="butt"/>
<line x1="1069.5" y1="718.5" x2="1077.5" y2="718.5" stroke="#1c1c1c" stroke-width="2.2" stroke-linecap="butt"/>
<line x1="1073.9" y1="698" x2="1077.5" y2="698" stroke="#1c1c1c" stroke-width="1.3" stroke-linecap="butt"/>
<line x1="1073.9" y1="677.6" x2="1077.5" y2="677.6" stroke="#1c1c1c" stroke-width="1.3" stroke-linecap="butt"/>
<line x1="1073.9" y1="657.1" x2="1077.5" y2="657.1" stroke="#1c1c1c" stroke-width="1.3" stroke-linecap="butt"/>
<line x1="1069.5" y1="636.7" x2="1077.5" y2="636.7" stroke="#1c1c1c" stroke-width="2.2" stroke-linecap="butt"/>
<line x1="1073.9" y1="616.2" x2="1077.5" y2="616.2" stroke="#1c1c1c" stroke-width="1.3" stroke-linecap="butt"/>
<line x1="1073.9" y1="595.8" x2="1077.5" y2="595.8" stroke="#1c1c1c" stroke-width="1.3" stroke-linecap="butt"/>
<line x1="1073.9" y1="575.4" x2="1077.5" y2="575.4" stroke="#1c1c1c" stroke-width="1.3" stroke-linecap="butt"/>
<line x1="1069.5" y1="554.9" x2="1077.5" y2="554.9" stroke="#1c1c1c" stroke-width="2.2" stroke-linecap="butt"/>
<line x1="1073.9" y1="534.5" x2="1077.5" y2="534.5" stroke="#1c1c1c" stroke-width="1.3" stroke-linecap="butt"/>
<line x1="1073.9" y1="514" x2="1077.5" y2="514" stroke="#1c1c1c" stroke-width="1.3" stroke-linecap="butt"/>
<line x1="1073.9" y1="493.6" x2="1077.5" y2="493.6" stroke="#1c1c1c" stroke-width="1.3" stroke-linecap="butt"/>
<line x1="1069.5" y1="473.1" x2="1077.5" y2="473.1" stroke="#1c1c1c" stroke-width="2.2" stroke-linecap="butt"/>
<line x1="1073.9" y1="452.7" x2="1077.5" y2="452.7" stroke="#1c1c1c" stroke-width="1.3" stroke-linecap="butt"/>
<line x1="1106.6" y1="718.5" x2="1106.6" y2="722.1" stroke="#1c1c1c" stroke-width="1.3" stroke-linecap="butt"/>
<line x1="1103.3" y1="718.5" x2="1103.3" y2="722.1" stroke="#1c1c1c" stroke-width="1.3" stroke-linecap="butt"/>
<line x1="1100.1" y1="718.5" x2="1100.1" y2="722.1" stroke="#1c1c1c" stroke-width="1.3" stroke-linecap="butt"/>
<line x1="1096.9" y1="718.5" x2="1096.9" y2="722.1" stroke="#1c1c1c" stroke-width="1.3" stroke-linecap="butt"/>
<line x1="1093.7" y1="718.5" x2="1093.7" y2="723.7" stroke="#1c1c1c" stroke-width="1.5" stroke-linecap="butt"/>
<line x1="1090.4" y1="718.5" x2="1090.4" y2="722.1" stroke="#1c1c1c" stroke-width="1.3" stroke-linecap="butt"/>
<line x1="1087.2" y1="718.5" x2="1087.2" y2="722.1" stroke="#1c1c1c" stroke-width="1.3" stroke-linecap="butt"/>
<line x1="1084" y1="718.5" x2="1084" y2="722.1" stroke="#1c1c1c" stroke-width="1.3" stroke-linecap="butt"/>
<line x1="1080.7" y1="718.5" x2="1080.7" y2="722.1" stroke="#1c1c1c" stroke-width="1.3" stroke-linecap="butt"/>
<line x1="1077.5" y1="718.5" x2="1077.5" y2="726.5" stroke="#1c1c1c" stroke-width="2.2" stroke-linecap="butt"/>
<line x1="1113" y1="718.5" x2="1113" y2="722.1" stroke="#1c1c1c" stroke-width="1.3" stroke-linecap="butt"/>
<line x1="1116.2" y1="718.5" x2="1116.2" y2="722.1" stroke="#1c1c1c" stroke-width="1.3" stroke-linecap="butt"/>
<line x1="1119.5" y1="718.5" x2="1119.5" y2="722.1" stroke="#1c1c1c" stroke-width="1.3" stroke-linecap="butt"/>
<line x1="1122.7" y1="718.5" x2="1122.7" y2="722.1" stroke="#1c1c1c" stroke-width="1.3" stroke-linecap="butt"/>
<line x1="1125.9" y1="718.5" x2="1125.9" y2="723.7" stroke="#1c1c1c" stroke-width="1.5" stroke-linecap="butt"/>
<line x1="1129.1" y1="718.5" x2="1129.1" y2="722.1" stroke="#1c1c1c" stroke-width="1.3" stroke-linecap="butt"/>
<line x1="1132.3" y1="718.5" x2="1132.3" y2="722.1" stroke="#1c1c1c" stroke-width="1.3" stroke-linecap="butt"/>
<line x1="1135.6" y1="718.5" x2="1135.6" y2="722.1" stroke="#1c1c1c" stroke-width="1.3" stroke-linecap="butt"/>
<line x1="1138.8" y1="718.5" x2="1138.8" y2="722.1" stroke="#1c1c1c" stroke-width="1.3" stroke-linecap="butt"/>
<line x1="1142" y1="718.5" x2="1142" y2="726.5" stroke="#1c1c1c" stroke-width="2.2" stroke-linecap="butt"/>
<rect x="1105.9" y="718.5" width="7.8" height="5.2" fill="#1c1c1c"/>
<line x1="1106.8" y1="718.5" x2="1106.8" y2="726.5" stroke="#1c1c1c" stroke-width="1.5" stroke-linecap="butt"/>
<line x1="1108.8" y1="718.5" x2="1108.8" y2="726.5" stroke="#1c1c1c" stroke-width="1.5" stroke-linecap="butt"/>
<line x1="1110.8" y1="718.5" x2="1110.8" y2="726.5" stroke="#1c1c1c" stroke-width="1.5" stroke-linecap="butt"/>
<line x1="1112.8" y1="718.5" x2="1112.8" y2="726.5" stroke="#1c1c1c" stroke-width="1.5" stroke-linecap="butt"/>
<line x1="1163.3" y1="718.5" x2="1163.3" y2="722.1" stroke="#1c1c1c" stroke-width="1.3" stroke-linecap="butt"/>
<line x1="1175.8" y1="718.5" x2="1175.8" y2="722.1" stroke="#1c1c1c" stroke-width="1.3" stroke-linecap="butt"/>
<line x1="1184.6" y1="718.5" x2="1184.6" y2="722.1" stroke="#1c1c1c" stroke-width="1.3" stroke-linecap="butt"/>
<line x1="1191.5" y1="718.5" x2="1191.5" y2="723.7" stroke="#1c1c1c" stroke-width="1.5" stroke-linecap="butt"/>
<line x1="1197.1" y1="718.5" x2="1197.1" y2="722.1" stroke="#1c1c1c" stroke-width="1.3" stroke-linecap="butt"/>
<line x1="1201.8" y1="718.5" x2="1201.8" y2="722.1" stroke="#1c1c1c" stroke-width="1.3" stroke-linecap="butt"/>
<line x1="1205.9" y1="718.5" x2="1205.9" y2="722.1" stroke="#1c1c1c" stroke-width="1.3" stroke-linecap="butt"/>
<line x1="1209.6" y1="718.5" x2="1209.6" y2="722.1" stroke="#1c1c1c" stroke-width="1.3" stroke-linecap="butt"/>
<line x1="1212.8" y1="718.5" x2="1212.8" y2="726.5" stroke="#1c1c1c" stroke-width="2.2" stroke-linecap="butt"/>
<line x1="1233.1" y1="718.5" x2="1233.1" y2="722.1" stroke="#1c1c1c" stroke-width="1.3" stroke-linecap="butt"/>
<line x1="1245" y1="718.5" x2="1245" y2="722.1" stroke="#1c1c1c" stroke-width="1.3" stroke-linecap="butt"/>
<line x1="1253.4" y1="718.5" x2="1253.4" y2="722.1" stroke="#1c1c1c" stroke-width="1.3" stroke-linecap="butt"/>
<line x1="1259.9" y1="718.5" x2="1259.9" y2="723.7" stroke="#1c1c1c" stroke-width="1.5" stroke-linecap="butt"/>
<line x1="1265.2" y1="718.5" x2="1265.2" y2="722.1" stroke="#1c1c1c" stroke-width="1.3" stroke-linecap="butt"/>
<line x1="1269.8" y1="718.5" x2="1269.8" y2="722.1" stroke="#1c1c1c" stroke-width="1.3" stroke-linecap="butt"/>
<line x1="1273.7" y1="718.5" x2="1273.7" y2="722.1" stroke="#1c1c1c" stroke-width="1.3" stroke-linecap="butt"/>
<line x1="1277.1" y1="718.5" x2="1277.1" y2="722.1" stroke="#1c1c1c" stroke-width="1.3" stroke-linecap="butt"/>
<line x1="1280.2" y1="718.5" x2="1280.2" y2="726.5" stroke="#1c1c1c" stroke-width="2.2" stroke-linecap="butt"/>
<line x1="1299.9" y1="718.5" x2="1299.9" y2="722.1" stroke="#1c1c1c" stroke-width="1.3" stroke-linecap="butt"/>
<line x1="1311.4" y1="718.5" x2="1311.4" y2="722.1" stroke="#1c1c1c" stroke-width="1.3" stroke-linecap="butt"/>
<line x1="1319.6" y1="718.5" x2="1319.6" y2="722.1" stroke="#1c1c1c" stroke-width="1.3" stroke-linecap="butt"/>
<line x1="1325.9" y1="718.5" x2="1325.9" y2="723.7" stroke="#1c1c1c" stroke-width="1.5" stroke-linecap="butt"/>
<line x1="1331.1" y1="718.5" x2="1331.1" y2="722.1" stroke="#1c1c1c" stroke-width="1.3" stroke-linecap="butt"/>
<line x1="1335.5" y1="718.5" x2="1335.5" y2="722.1" stroke="#1c1c1c" stroke-width="1.3" stroke-linecap="butt"/>
<line x1="1339.3" y1="718.5" x2="1339.3" y2="722.1" stroke="#1c1c1c" stroke-width="1.3" stroke-linecap="butt"/>
<line x1="1342.6" y1="718.5" x2="1342.6" y2="722.1" stroke="#1c1c1c" stroke-width="1.3" stroke-linecap="butt"/>
<line x1="1345.6" y1="718.5" x2="1345.6" y2="726.5" stroke="#1c1c1c" stroke-width="2.2" stroke-linecap="butt"/>
<text transform="translate(1064 718.5) scale(1.12 1)" font-size="10.2" text-anchor="end" fill="#1c1c1c" stroke="#1c1c1c" stroke-width="0.28">0</text>
<text transform="translate(1064 644.5) scale(1.12 1)" font-size="10.2" text-anchor="end" fill="#1c1c1c" stroke="#1c1c1c" stroke-width="0.28">20</text>
<text transform="translate(1064 562.7) scale(1.12 1)" font-size="10.2" text-anchor="end" fill="#1c1c1c" stroke="#1c1c1c" stroke-width="0.28">40</text>
<text transform="translate(1064 480.9) scale(1.12 1)" font-size="10.2" text-anchor="end" fill="#1c1c1c" stroke="#1c1c1c" stroke-width="0.28">60</text>
<text transform="translate(1110.5 752.5) scale(1.12 1)" font-size="10.2" text-anchor="middle" fill="#1c1c1c" stroke="#1c1c1c" stroke-width="0.28">0</text>
<text transform="translate(1208.1 752.5) scale(1.12 1)" font-size="10.2" text-anchor="start" fill="#1c1c1c" stroke="#1c1c1c" stroke-width="0.28" letter-spacing="-0.8">10</text>
<text transform="translate(1219.7 744.5) scale(1.12 1)" font-size="10.2" text-anchor="start" fill="#1c1c1c" stroke="#1c1c1c" stroke-width="0.28">3</text>
<text transform="translate(1275.6 752.5) scale(1.12 1)" font-size="10.2" text-anchor="start" fill="#1c1c1c" stroke="#1c1c1c" stroke-width="0.28" letter-spacing="-0.8">10</text>
<text transform="translate(1287.2 744.5) scale(1.12 1)" font-size="10.2" text-anchor="start" fill="#1c1c1c" stroke="#1c1c1c" stroke-width="0.28">4</text>
<text transform="translate(1326.9 752.5) scale(1.12 1)" font-size="10.2" text-anchor="start" fill="#1c1c1c" stroke="#1c1c1c" stroke-width="0.28" letter-spacing="-0.8">10</text>
<text transform="translate(1338.5 744.5) scale(1.12 1)" font-size="10.2" text-anchor="start" fill="#1c1c1c" stroke="#1c1c1c" stroke-width="0.28">5</text>
<text transform="translate(1046.2 581.4) rotate(-90)" font-size="13" text-anchor="middle" fill="#1c1c1c" stroke="#1c1c1c" stroke-width="0.28">Count</text>
<text transform="translate(1211.5 776.5)" font-size="13" text-anchor="middle" fill="#1c1c1c" stroke="#1c1c1c" stroke-width="0.28">Comp-BluFL1</text>
<line x1="1132.7" y1="554.2" x2="1338.7" y2="554.2" stroke="#111" stroke-width="2.0" stroke-linecap="butt"/>
<line x1="1338.7" y1="548.6" x2="1338.7" y2="559.8" stroke="#111" stroke-width="2.0" stroke-linecap="butt"/>
<line x1="1132.7" y1="548.6" x2="1132.7" y2="559.8" stroke="#111" stroke-width="2.0" stroke-linecap="butt"/>
<text transform="translate(1173.5 493.6)" font-size="13" text-anchor="middle" fill="#1c1c1c" textLength="162.3" lengthAdjust="spacingAndGlyphs" stroke="#1c1c1c" stroke-width="0.28">GFP+ in CD3-&amp; CD56+ cells</text>
<text transform="translate(1173.5 513.1)" font-size="13" text-anchor="middle" fill="#1c1c1c" stroke="#1c1c1c" stroke-width="0.28">93.8</text>
<g transform="translate(0 0)" fill="#fff" opacity="0.3">
<g transform="translate(1160 757.5) rotate(45)"><rect x="-19" y="-19" width="38" height="38" rx="4"/></g>
<text transform="translate(1196 763) skewX(-12)" font-size="32.5" font-family="'Liberation Sans','Noto Sans CJK SC',sans-serif" font-weight="bold" textLength="163" lengthAdjust="spacingAndGlyphs">仪器信息网</text>
<text transform="translate(1196 778.6) skewX(-12)" font-size="10.5" font-family="'Liberation Sans','Noto Sans CJK SC',sans-serif" font-weight="bold" textLength="160" lengthAdjust="spacingAndGlyphs">www.instrument.com.cn</text>
</g>
</g>
</svg>
</body></html>
